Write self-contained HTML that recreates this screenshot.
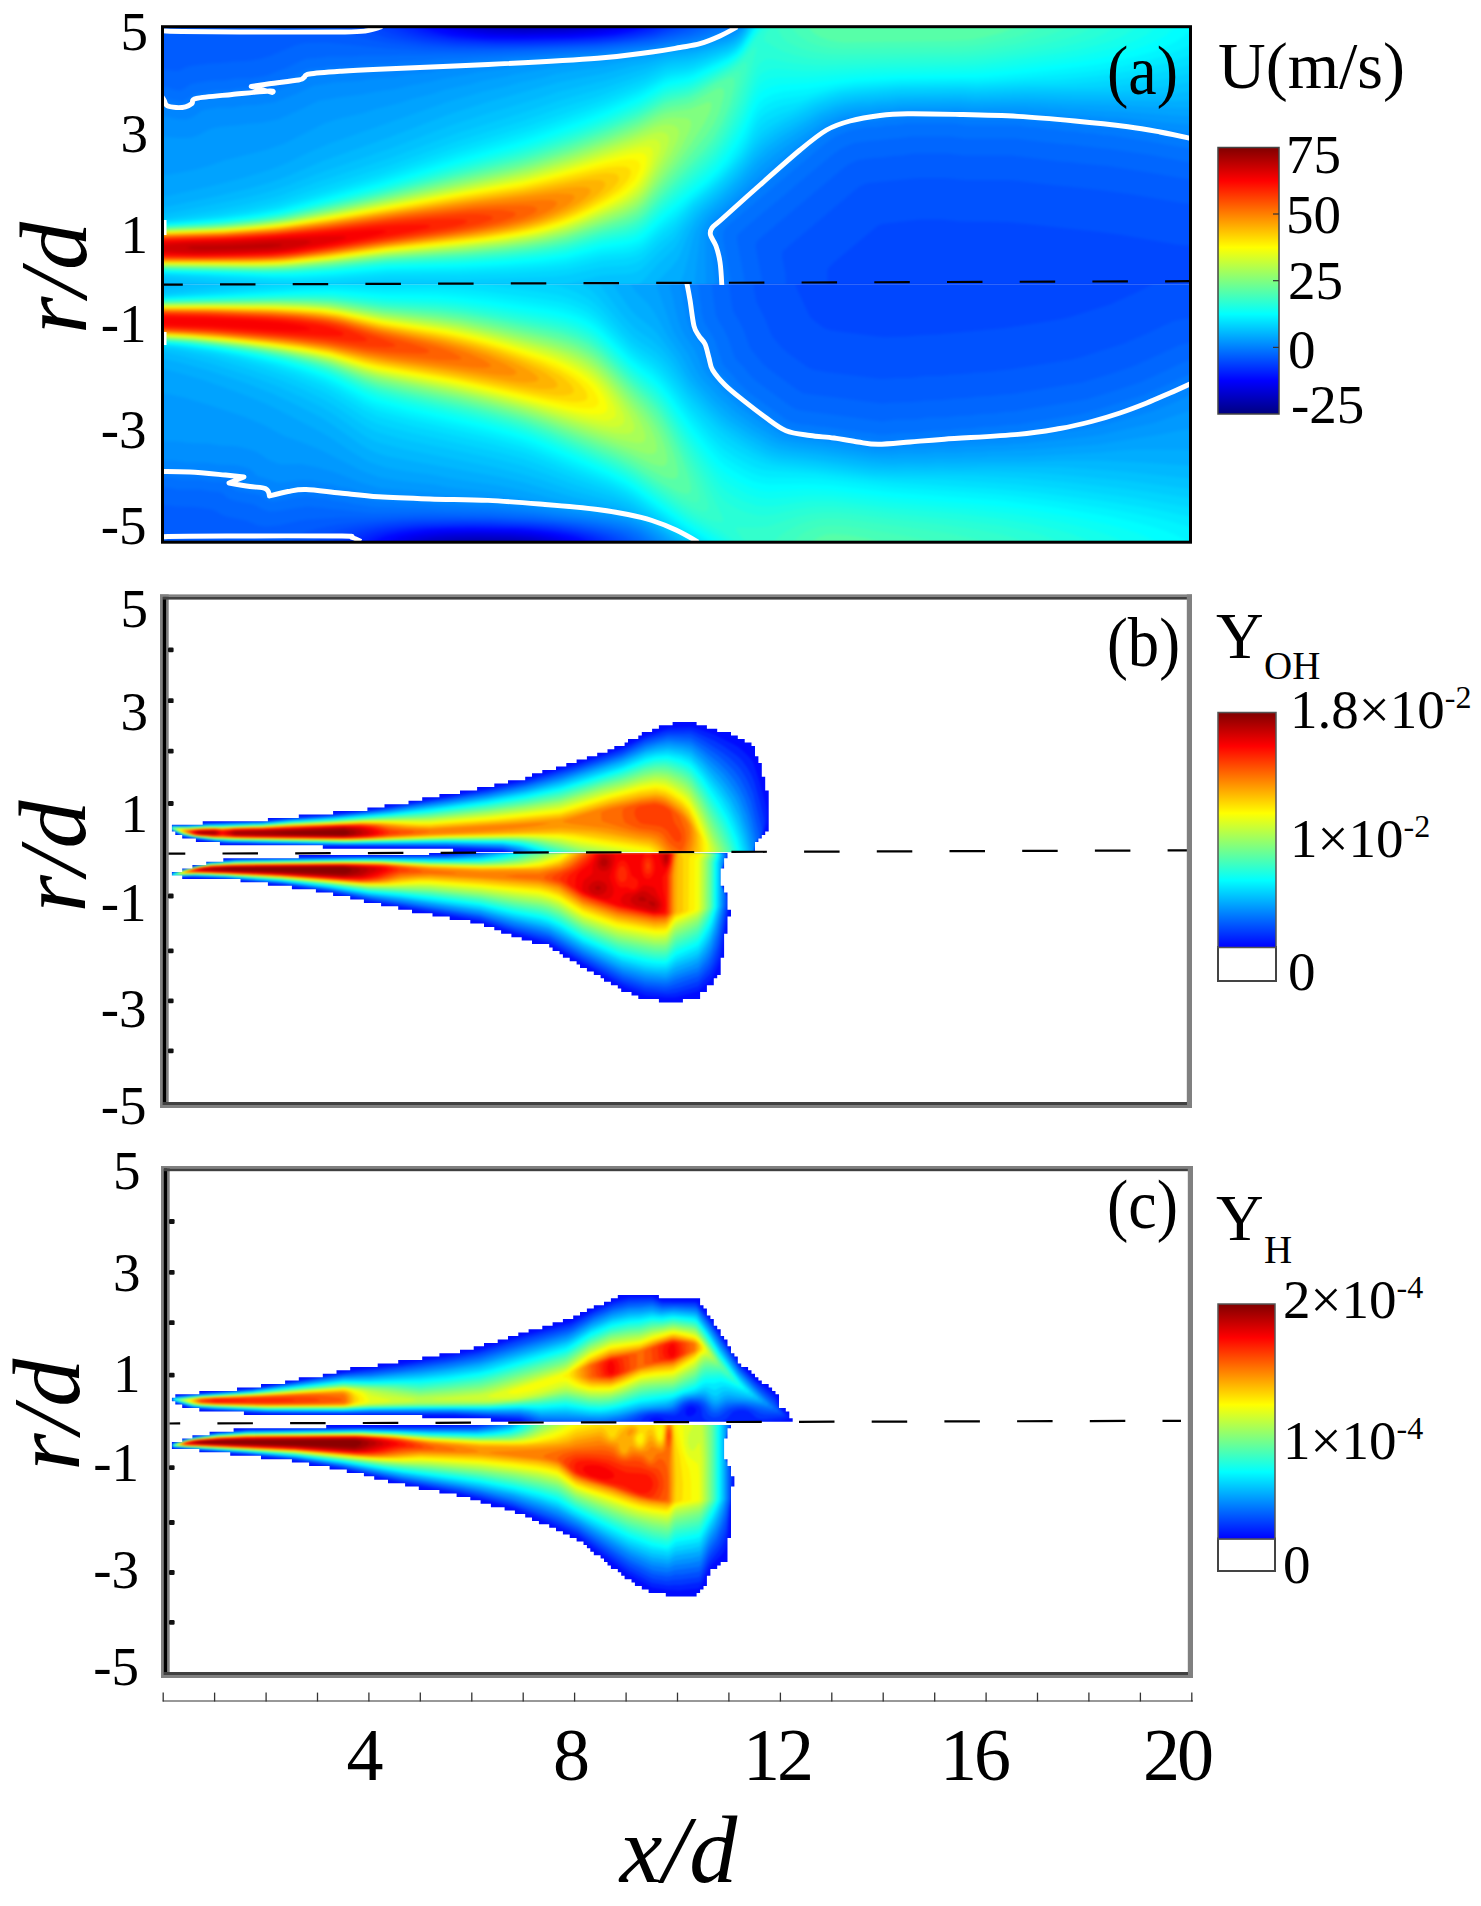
<!DOCTYPE html>
<html><head><meta charset="utf-8"><title>Figure</title><style>
html,body{margin:0;padding:0;background:#fff}
svg{display:block}
text{font-family:"Liberation Serif","Times New Roman",serif;fill:#000}
</style></head><body>
<svg width="1481" height="1906" viewBox="0 0 1481 1906">
<defs><linearGradient id="cbA" x1="0" y1="0" x2="0" y2="1"><stop offset="0.0000" stop-color="rgb(128,0,0)"/><stop offset="0.1250" stop-color="rgb(255,0,0)"/><stop offset="0.3750" stop-color="rgb(255,255,0)"/><stop offset="0.6250" stop-color="rgb(0,255,255)"/><stop offset="0.8750" stop-color="rgb(0,0,255)"/><stop offset="1.0000" stop-color="rgb(0,0,128)"/></linearGradient><clipPath id="clipA"><rect x="163" y="27" width="1027" height="515"/></clipPath><linearGradient id="cbB" x1="0" y1="0" x2="0" y2="1"><stop offset="0.0000" stop-color="rgb(128,0,0)"/><stop offset="0.1429" stop-color="rgb(255,0,0)"/><stop offset="0.4286" stop-color="rgb(255,255,0)"/><stop offset="0.7143" stop-color="rgb(0,255,255)"/><stop offset="1.0000" stop-color="rgb(0,0,255)"/></linearGradient><clipPath id="clipAT"><rect x="163" y="27" width="1027" height="257.2"/></clipPath><clipPath id="clipAB"><rect x="163" y="284.2" width="1027" height="257.5"/></clipPath><clipPath id="clip_bt"><rect x="165" y="600" width="1020" height="252.6"/></clipPath><clipPath id="clip_bb"><rect x="165" y="852.9" width="1020" height="250"/></clipPath><clipPath id="clip_ct"><rect x="165" y="1170" width="1020" height="252.1"/></clipPath><clipPath id="clip_cb"><rect x="165" y="1423.4" width="1020" height="250"/></clipPath><filter id="soft" x="-2%" y="-5%" width="104%" height="110%" color-interpolation-filters="sRGB"><feGaussianBlur stdDeviation="1.6"/></filter><clipPath id="mask_bt"><path d="M460 793.9H439.4V797.3H422.2V800.8H408.5V804.2H384.5V807.6H367.4V811H333.1V814.5H298.8V817.9H267.9V821.3H202.7V824.8H171.9V831.6H175.3V835H182.2V838.5H195.9V841.9H219.9V845.3H322.8V848.8H453.1V852.2H755V841.9H758.4V838.5H761.8V835H765.2V831.6H768.7V790.5H765.2V776.7H761.8V763H758.4V756.2H755V745.9H751.5V742.4H744.7V739H737.8V735.6H731V732.1H717.2V728.7H706.9V725.3H696.6V721.9H672.6V725.3H658.9V728.7H652.1V732.1H641.8V735.6H638.3V739H628V742.4H624.6V745.9H614.3V749.3H607.5V752.7H597.2V756.2H586.9V759.6H576.6V763H566.3V766.5H556V769.9H542.3V773.3H532V776.7H525.2V780.2H508V783.6H494.3V787H477.1V790.5H460z"/></clipPath><clipPath id="mask_bb"><path d="M223.3 858.3V861.7H206.2V865.1H192.4V868.6H182.2V872H171.9V875.4H182.2V878.9H240.5V882.3H267.9V885.7H291.9V889.2H315.9V892.6H333.1V896H350.2V899.5H363.9V902.9H381.1V906.3H398.2V909.7H412V913.2H432.5V916.6H449.7V920H470.3V923.5H484V926.9H494.3V930.3H501.1V933.8H511.4V937.2H521.7V940.6H532V944H549.2V947.5H552.6V950.9H559.5V954.3H562.9V957.8H569.7V961.2H576.6V964.6H580V968H586.9V971.5H593.8V974.9H600.6V978.3H604V981.8H610.9V985.2H617.8V988.6H621.2V992.1H631.5V995.5H638.3V998.9H658.9V1002.4H682.9V998.9H700.1V992.1H706.9V985.2H713.8V978.3H717.2V974.9H720.7V957.8H724.1V933.8H727.5V916.6H731V909.7H727.5V892.6H724.1V885.7H720.7V868.6H724.1V858.3H727.5V851.4H429.1V854.9H298.8V858.3z"/></clipPath><clipPath id="mask_ct"><path d="M439.4 1356.6H422.2V1360H398.2V1363.5H377.7V1366.9H350.2V1370.3H336.5V1373.8H322.8V1377.2H298.8V1380.6H285.1V1384H261V1387.5H237V1390.9H199.3V1394.3H175.3V1397.8H171.9V1401.2H175.3V1404.6H182.2V1408H199.3V1411.5H243.9V1414.9H422.2V1418.3H490.9V1421.8H792.7V1418.3H789.3V1411.5H785.8V1408H779V1394.3H775.5V1390.9H772.1V1387.5H768.7V1384H761.8V1380.6H758.4V1377.2H755V1373.8H751.5V1370.3H748.1V1366.9H741.2V1363.5H737.8V1356.6H734.4V1353.2H731V1346.3H727.5V1339.5H724.1V1336H720.7V1329.2H717.2V1325.7H713.8V1318.9H710.4V1315.4H706.9V1308.6H703.5V1305.2H700.1V1298.3H658.9V1294.9H617.8V1298.3H610.9V1301.7H604V1305.2H593.8V1308.6H586.9V1312H580V1315.4H573.2V1318.9H562.9V1322.3H552.6V1325.7H542.3V1329.2H528.6V1332.6H518.3V1336H508V1339.5H497.7V1342.9H484V1346.3H473.7V1349.7H460V1353.2H439.4z"/></clipPath><clipPath id="mask_cb"><path d="M233.6 1428.3V1431.7H209.6V1435.2H192.4V1438.6H182.2V1442H171.9V1448.9H199.3V1452.3H230.2V1455.7H261V1459.2H291.9V1462.6H309.1V1466H329.6V1469.5H346.8V1472.9H363.9V1476.3H374.2V1479.7H388V1483.2H405.1V1486.6H418.8V1490H439.4V1493.5H456.6V1496.9H470.3V1500.3H480.6V1503.8H490.9V1507.2H504.6V1510.6H514.9V1514H525.2V1517.5H532V1520.9H538.9V1524.3H549.2V1527.8H556V1531.2H562.9V1534.6H569.7V1538H576.6V1541.5H583.5V1544.9H586.9V1548.3H590.3V1551.8H593.8V1555.2H600.6V1558.6H604V1562.1H607.5V1565.5H610.9V1568.9H617.8V1572.3H621.2V1575.8H624.6V1579.2H631.5V1582.6H634.9V1586.1H641.8V1589.5H648.6V1592.9H665.8V1596.4H696.6V1592.9H700.1V1589.5H703.5V1586.1H706.9V1575.8H710.4V1568.9H717.2V1565.5H720.7V1562.1H727.5V1538H731V1486.6H734.4V1476.3H731V1466H727.5V1459.2H724.1V1438.6H727.5V1428.3H731V1424.9H326.2V1428.3z"/></clipPath><filter id="softf" x="-2%" y="-5%" width="104%" height="110%" color-interpolation-filters="sRGB"><feGaussianBlur stdDeviation="1.1"/></filter></defs>
<rect width="1481" height="1906" fill="#fff"/>
<g clip-path="url(#clipAT)"><g filter="url(#soft)"><rect x="150" y="10" width="1060" height="550" fill="#00008a"/><path fill="#00009e" d="M1196 286l-1036 0 0-262 1036 0 0 262z"/><path fill="#0000b2" d="M1196 286l-1036 0 0-262 1036 0 0 262z"/><path fill="#0000c7" d="M1196 286l-1036 0 0-262 327.5 0 6 2 6.5 1 26 1 38-1.5 5.5-0.5 9.5-2 617 0 0 262z"/><path fill="#0000db" d="M1196 286l-1036 0 0-262 306.5 0 3.5 2 4 1 14 2.5 14 1 22 1 38-1 20-1.5 14-2 4-1 4-2 592 0 0 262z"/><path fill="#0000f0" d="M1196 286l-1036 0 0-262 290.5 0 2.5 2 5 2 8 2 10 1.5 20 2 28 0.5 42-1 26-2 19-3 6-2 3-2 576 0 0 262z"/><path fill="#0005ff" d="M1196 286l-1036 0 0-262 276 0 2 2 6 2.5 8 2.5 10 2 28 3 32 0.5 46-1 30-2 21-3.5 11-3.5 4-2.5 562 0 0 262z"/><path fill="#0014ff" d="M1196 286l-1036 0 0-262 261.5 0 2.5 2.5 7.5 3.5 10.5 3 12 2.5 32 3 34 0.5 48-1 34-2.5 14-1.5 18-4 11-4 3-2 548 0 0 262z"/><path fill="#001fff" d="M1196 286l-1036 0 0-262 254 0 1.5 2 3 2 5.5 2.5 12 3.5 12 2.5 13.5 1.5 18.5 1.5 38 0.5 52-1 24-1.5 16-1.5 18-3 13.5-3 8.5-3 2.5-1 2-2 541.5 0 0 262z"/><path fill="#0029ff" d="M1196 286l-1036 0 0-262 246.5 0 1.5 2 2.5 2 8.5 4 9 2.5 14 2.5 16 2.5 18 1 18 1 22 0 54-1.5 26-1 18-2 18.5-3 15.5-3.5 7-2.5 3.5-2 2-2 535.5 0 0 262z"/><path fill="#0033ff" d="M1196 286l-1036 0 0-262 238 0 1 2 2.5 2 6.5 3.5 8 2.5 12 3 16 2.5 16 1.5 40 2 30-0.5 40-1 26-1.5 18-1.5 20-3 16.5-3.5 10.5-4 3.5-2 2-2 529.5 0 0 262z"/><path fill="#003dff" d="M1196 286l-1036 0 0-262 228 0 1 2 2.5 2 8 4 10.5 3.5 12 3 18 2.5 18 2 40 1 34 0 38-1.5 26-1 20-2 18-2.5 18-3.5 8-2.5 7.5-3 3.5-2 2.5-2 522.5 0 0 262z"/><path fill="#0047ff" d="M1196 286l-1036 0 0-262 216.5 0 1 2 2 2 8.5 4.5 14 4.5 14 3 12 2 28 2.5 40 1 36 0 38-1.5 26-1 20-2 20-2.5 18-3.5 21-7 4-2 2.5-2 514.5 0 0 262z"/><path fill="#0052ff" d="M826 286l-666 0 0-262 201.5 0 1 2 2.5 2 5 3 6 3 12 4 18 3.5 18 2.5 28 2.5 44 1 74-2 28-1.5 20-2 30-4 8-1.5 28-8.5 4-2 2-2 506 0 0 221.5 -10 0 -10-1 -54-9.5 -22-3 -92-10 -48-0.5 -18-2 -8 0 -14 0 -22 2.5 -16 2 -4 1.5 -46 38.5 -3.5 4 -1 2 0 16 -1.5 0z"/><path fill="#005cff" d="M784 286l-624 0 0-262 174.5 0 1.5 2 2.5 2 8 4 5 2 20.5 6 16 3 38 4.5 34 1.5 34 0 38-0.5 64-3 38-3.5 20-3 27.5-7 11.5-4 3.5-2 2-2 497.5 0 0 180 -14-1 -52.5-9 -25.5-3.5 -36-4 -12-1 -46-5.5 -46 0 -18-2 -28 0 -50 5 -6 2 -4 2.5 -74 62.5 -1.5 2 -0.5 4 3.5 18 0.5 12 -2 0z"/><path fill="#0066ff" d="M760 286l-600 0 0-217 6 0.5 10 1.5 2 0 10-4.5 6-1 16-2 12-0.5 12-1.5 14-0.5 12-2 10-3 26-11 8-2 22-0.5 62 6 38 2.5 34 0.5 36-0.5 74-2.5 32-1.5 50-6 38-8.5 11.5-4.5 3.5-2 2-2 489 0 0 155.5 -10-0.5 -40-7 -38-6 -28-2.5 -10-1.5 -10-0.5 -48-6 -48 0 -16-2 -34 0 -12 2 -10 0.5 -10 1.5 -10 0.5 -14 2 -8 3.5 -6.5 4.5 -85.5 72 -1.5 2 -1 4 6 32 0 8 -1.5 0z"/><path fill="#0070ff" d="M744 286l-584 0 0-199.5 6 0.5 8.5 3 5.5 0.5 4-1.5 6-4.5 6-1.5 16-2.5 12 0 12-2 14 0 15.5-2.5 21-8 17.5-8.5 4-1 10-0.5 10-1.5 24 0 12-1 24 0 12-0.5 26 0 10-0.5 24 0 38-1 100-4.5 38-4 18-2 36-7.5 16-5.5 8.5-4 2-2 479.5 0 0 138.5 -8-0.5 -40-7.5 -38-5.5 -10-1 -8-1 -10-1 -10-1.5 -10-0.5 -8-1 -10-1 -8-1 -10-1 -10-1.5 -50 0 -16-2 -38 0 -12 1.5 -12 1 -8 1 -12 1 -14 2 -12 5 -10 7 -36 30 -8 7 -42 35 -7.5 7 -1.5 2 0 4 7 38 0.5 6 0 2 -0.5 0z"/><path fill="#007aff" d="M730 286l-570 0 0-189.5 4 1 8 2.5 10 1.5 4-1.5 8-5.5 4-1.5 8-1 8-1.5 14 0 10-2 14 0 8-1.5 8-1 22-8.5 18-8.5 12-1 8-1.5 26-0.5 12-2 24-0.5 12-2 24-1 12-1.5 24-0.5 12-1 24-1 100-5.5 52-5.5 38-7 10-2.5 23-8 5-2 2-2 468 0 0 125 -6-0.5 -24-4 -16-3 -38-6 -10-0.5 -8-1.5 -10-0.5 -8-1.5 -12-0.5 -8-1.5 -10-0.5 -8-1.5 -10-0.5 -10-1.5 -50 0 -4-0.5 -10-1.5 -44 0 -4 0 -8 1.5 -12 0.5 -8 1.5 -12 0.5 -16 3 -14 5.5 -11.5 8 -98.5 83 -2.5 5 -0.5 6 3 18 4.5 24 0.5 6 -1 0z"/><path fill="#0085ff" d="M722 286l-562 0 0-182 10 3.5 10 1.5 4 0 4-1.5 8-5.5 4-2 8-1 8-1.5 14 0 10-2 14 0 8-1.5 8-1 22-8.5 18-8.5 4-0.5 10-0.5 6-1.5 26-1 12-2 24-0.5 12-2.5 24-1 10-2 26-1.5 10-1.5 26-1.5 10-1.5 26-1.5 10-1 54-3 52-6 18-3.5 20-2.5 10-2.5 28-9 6-3.5 1.5-2 460.5 0 0 116.5 -28-4 -14-2.5 -40-6 -10-0.5 -8-1 -10-0.5 -8-1.5 -12-0.5 -8-1.5 -10 0 -8-1.5 -10-0.5 -10-1.5 -52 0 -14-1.5 -46 0 -12 1.5 -12 0.5 -8 1.5 -12 0.5 -16 3 -16 6 -11 7.5 -31 25.5 -6 4.5 -8 7.5 -18 14.5 -6.5 6 -29.5 25.5 -2 2 -3 6.5 -1.5 6 2.5 22 4.5 26 0 2 -0.5 0z"/><path fill="#008fff" d="M714 286l-554 0 0-170.5 16 3.5 10 0.5 6-2 10-6.5 2-1 14-2.5 14 0 12-2 14-0.5 8-1.5 8-1 22-8.5 18-8.5 12-1.5 8-1.5 26-1.5 12-2.5 24-1.5 10-2.5 24-2 10.5-2.5 25.5-2 10-2 24-2 12-2 24-1.5 12-1.5 54-4 52-6 16-3 20-2.5 14-3.5 26-8 7-4 1.5-2 1-2 456.5 0 0 110 -80-11 -10 0 -8-1.5 -10-0.5 -8-1 -12-0.5 -8-1 -10-0.5 -8-1.5 -10 0 -10-1.5 -52 0.5 -14-2 -50 0.5 -10 1.5 -14 0.5 -8 1.5 -12 0.5 -12 2 -6 1.5 -16 6.5 -10 7 -6 5 -30 23 -26 22 -18 17.5 -18.5 15.5 -3.5 4 -4 8 -1.5 6 2 16 0 8 3.5 26 -2 0z"/><path fill="#0099ff" d="M706 286l-546 0 0-150 16 2 10 0 6-0.5 6-2 10-5.5 6-2 8-1.5 14-1 10-1.5 14-1 18-3.5 24-10.5 14-7 4-1.5 8-1 10-2 24-3 12-2.5 22-3 14-3.5 22-4 14-3.5 22-3.5 10.5-2.5 25.5-3 10-2.5 24-2 12-2.5 52-4 38-4.5 14-2 18-3.5 20-2.5 10-2 28-8.5 4-1.5 4-3 2.5-2.5 2-4 453.5 0 0 101 -22-1.5 -56-6 -10 0 -8-1 -10-0.5 -10-1 -10 0 -8-1 -10-0.5 -8-1 -12-0.5 -10-1 -50 0.5 -14-1.5 -54 0.5 -10 1.5 -12 0.5 -8 1.5 -12 0.5 -14 2 -6 1.5 -16 6.5 -10 7 -38 28 -15 12.5 -27 26.5 -18 16 -5.5 5.5 -5.5 10 -1.5 6 0 26 0.5 24z"/><path fill="#00a3ff" d="M694 286l-534 0 0-110.5 10-1 24-4.5 14.5-4 15.5-5.5 42-10.5 20-7 38-19.5 16-5 24-5.5 12-4 22-5.5 14-4.5 22-5.5 12-4 24-5 12-3.5 24-4.5 10-2.5 24-4 10-2.5 34-4.5 20-1.5 26-4.5 22-2.5 14-3 24-3 10-2 26-7 6-2 4-2.5 4-3.5 3-3.5 1.5-4 451.5 0 0 92 -22-0.5 -54-4 -28-1 -10-1 -12 0 -8-1 -10 0 -8-1 -10 0 -10-1 -52 1 -14-1 -52 0.5 -6 0 -8 1.5 -12 0.5 -8 1.5 -12 0.5 -12 1.5 -8 2 -16 6.5 -37.5 25 -12.5 9 -12 10 -10 10.5 -7.5 8.5 -10.5 10.5 -12 11.5 -7.5 6 -6 6 -6 10 -2.5 8 -3.5 28 -2 22 -0.5 0z"/><path fill="#00adff" d="M678 286l-518 0 0-89.5 8-0.5 44-10 31-8 25-7.5 17-6.5 27-13 18-7.5 117.5-41.5 34.5-10 24-5.5 12-3.5 24-5 13.5-4 30.5-5 18-2.5 26-5.5 24-3.5 13-3.5 27-3 32-8.5 6-2.5 6-4 5.5-6 3-6 449.5 0 0 84 -20 0 -56-2.5 -48-1 -46-2 -52 1 -14-1 -56 1 -12 1 -12 0.5 -10 1.5 -10 0.5 -14 2 -8 2 -16 6 -38 24 -14 10 -12 10.5 -15.5 18.5 -11.5 12 -11 10 -9 8 -6 6 -5.5 8 -4.5 8 -2.5 8 -4.5 18 -4 15 -5 13 -1 0z"/><path fill="#00b8ff" d="M654 286l-494 0 0-79 8-0.5 49.5-10.5 33.5-8 21-6 16-6 36-15.5 63.5-22.5 62.5-24 36-11.5 72-20 48-9.5 26-7 14-2.5 20-6 8-1 12-1 10-2 30-8.5 8-3.5 6-4.5 5-7 3-6 448 0 0 76 -22 1 -62-0.5 -40-0.5 -46-1.5 -52 1.5 -14-1 -58 0.5 -12 1.5 -12 0.5 -8 1.5 -10 0 -14 2 -10 2.5 -16 6 -38 22.5 -16 11.5 -10 10 -15 18.5 -11.5 12 -11.5 11 -15 13 -6.5 8 -6 10 -4.5 10 -5.5 14 -2.5 5 -6 7.5 -13.5 13.5 -3 4 -0.5 2 -1 0z"/><path fill="#00c2ff" d="M636 286l-455.5 0 -7-2 -13.5-1.5 0-68.5 8-0.5 58-11.5 27.5-6 16.5-4.5 16.5-5.5 33.5-13 72-25 60-23 34-11 54-16 18-6 48-11.5 26-8 14-4 20-7 8-1.5 12-1 8-1.5 32-10 8-3.5 6-5 6-7.5 3.5-7.5 446.5 0 0 66.5 -26 3.5 -26 1.5 -70 0 -48-1 -50 2 -16-1 -60 1 -10 1 -32 2.5 -14 2 -10 2.5 -16 6 -39 21.5 -13 9.5 -4 3.5 -8 8.5 -7.5 10.5 -10 12 -10.5 11 -10 9 -14 12 -5.5 6 -10.5 14 -8 15 -4 6 -16 15 -12 13.5 -8.5 8.5 -1.5 0z"/><path fill="#00ccff" d="M558 286l-328 0 -9-2 -16-2 -38-4 -7-0.5 0-59 8-0.5 49.5-8 30.5-6 26-6.5 11-3.5 31-11.5 74.5-24.5 67.5-25 73.5-23 28.5-9.5 46-13 38-13 22-9.5 6-1 16-2 16-4 24-8.5 8-4.5 4-3.5 4-5 5-8.5 1.5-4 445.5 0 0 57 -24 4.5 -20 3 -20 2 -18 1 -40 0 -46-0.5 -52 2 -16-0.5 -62 1 -40 3 -14 2 -10 2.5 -16 5 -32 16.5 -12 7 -12 9.5 -6 6.5 -12 16.5 -10 12 -10 10.5 -10.5 9.5 -14 12 -6 6 -9.5 12 -10 14.5 -16 14.5 -12 12 -6 5 -6 3 -6 1 -22 1 -8 1 -34 9 -6 1z"/><path fill="#00d6ff" d="M314 286l-33 0 -56-6 -52.5-4 -12.5-0.5 0-55 10.5-0.5 48-6 33.5-6 25.5-6 38.5-13 72.5-23 69.5-25 62-19 42-14.5 38-11.5 44-16.5 22-10.5 6-1 14-2 8-2 36-13 6-4 6-6 6-9 4-8 444 0 0 48 -24 5.5 -18 3.5 -22 3 -18 2 -18 1.5 -22 0.5 -46-0.5 -52 2.5 -14-1 -64 1 -40 3.5 -14 1.5 -12 3 -18 6 -28 13.5 -10 5.5 -6 3.5 -8 6 -6 7 -12.5 18.5 -9.5 11.5 -10 10.5 -12 11.5 -18 15 -22 26.5 -14 11.5 -14 13.5 -4 3 -6 2.5 -8 2 -24 1.5 -32 7.5 -16 2 -92 3.5 -56-0.5 -20 0 -31 2.5 -41 4z"/><path fill="#00e0ff" d="M330 280l-28 1.5 -26-0.5 -75.5-5 -40.5-2 0-52 26-2 36-4 26-4 29-6 104-32 73-25.5 74-22.5 80-27.5 34-13.5 24-12 6-1.5 14-2 6-1.5 10-3.5 26-10.5 8-5 6-6 6-9 3.5-6 1.5-4 443 0 0 39 -20 5.5 -16 4 -20 3.5 -24 3.5 -20 2.5 -20 1.5 -20 1 -30 0 -50 2.5 -14-0.5 -60 0.5 -46 3.5 -16 2 -20 6 -8 2.5 -20 9 -14 5 -10 5 -8 6.5 -4 5.5 -8 14 -6 9.5 -10.5 12.5 -11 12 -10.5 9.5 -17.5 14.5 -18.5 20.5 -16 13.5 -12 11.5 -6 4.5 -6 2.5 -10 2 -22 2 -34 8.5 -18 2 -42 2.5 -48 1.5 -72 0.5 -58 4.5z"/><path fill="#00ebff" d="M316 278l-22 1 -20-0.5 -62-3 -52-2.5 0-50 17-1 42.5-4 29-4 31-6 101.5-30 75-25 76.5-23 73.5-26 34-14 26-13.5 6-1.5 14-2.5 6-1.5 8-3 28-12 8-5 6-6 7.5-11 3.5-6 1.5-4 441.5 0 0 29.5 -28 9 -28 7 -22 3.5 -20 3 -40 4 -32 1 -48 3 -16-0.5 -62 1 -44 3 -14 2 -10 2 -16 4.5 -16 6 -18 4 -6 2 -10 5 -6 5 -4 5.5 -10 20 -5 8.5 -11 14 -10 11 -12 11 -16 13 -16 16.5 -18 15 -12 11.5 -6 4.5 -8 3.5 -8 1.5 -22 2 -36 9 -22 2.5 -38 2.5 -46 2 -72 1 -54 4.5 -18 1z"/><path fill="#00f5ff" d="M316 276l-24 1 -20 0 -61-3 -51-1.5 0-48.5 28.5-2 41.5-4 28-4 21-4 99-28 78-25 59-17 19-6 51-18 26-10 29-12.5 20-11 6-3 6-1.5 14-2.5 6-1.5 36-16 8-5 6-6 7.5-11 4.5-8 2-4 440 0 0 18.5 -18 8 -16 6 -20 5.5 -24 5 -24 4 -28 3 -70.5 6 -19.5 1 -14-0.5 -62 1 -44 3 -18 2.5 -34 8.5 -20 3 -10 2.5 -6 3 -4 2.5 -6 6 -4 7 -8.5 18.5 -6 10 -9.5 14 -11 12 -11 10.5 -18 15 -12 11.5 -18 15 -14 13.5 -6 4.5 -8 3 -8 2 -24 3 -36 9 -20 2.5 -40 3 -44 2.5 -72 1 -54 5 -18 1z"/><path fill="#00ffff" d="M322 274l-26 1.5 -24 0 -112-4 0-47 11.5-0.5 50-4 32-4 23-4 16.5-4 87-24 74-23 60-17 19.5-6 51-18 21-8 34.5-15 24-13.5 6-2 16-3 6-2 36-16.5 8-5 6-6 6-9 7.5-12 2-4 437 0 -4 6 -6.5 6 -9 6 -11 5.5 -12.5 4.5 -15.5 4.5 -18 4 -20 4 -38 5 -76 8 -10 0.5 -74 1 -44 2.5 -16 2 -32 5.5 -24 2.5 -12 3 -8 4 -4 3.5 -2 2.5 -4 7 -10 22 -6 10.5 -10.5 16 -10 12 -11.5 11 -14 11 -32 28 -16 15 -6 4 -6 2 -8 2 -22 3 -36 9.5 -26 3.5 -40 3.5 -42 2 -70 2 -66 5.5z"/><path fill="#0afff5" d="M300 274l-32 0.5 -108-3.5 0-46 21-1 48.5-4 31-4 21.5-4 98-26 70-21 68.5-19 19-6 45-16 25.5-10 32-14 24-13.5 6-2 14-3 8-2 36-17.5 8-5.5 6-5.5 6.5-9 10-16 0.5-2 417 0 -1 2 -3 4 -7 6 -9 5 -11.5 5 -12.5 4.5 -16 4 -18 4 -20 3.5 -68 8.5 -30 3 -26 1 -54 1 -46 2.5 -44 5 -28 1.5 -6 1 -6 1.5 -4 2 -4 2.5 -4 4.5 -4 7.5 -10 23 -6 11.5 -11.5 18 -10.5 13.5 -11 10.5 -43 36 -18 17 -6 4 -8 3.5 -28 5 -38 10 -28 3.5 -30 2.5 -48 3 -70 2.5 -60 5.5 -28 1.5z"/><path fill="#14ffeb" d="M316 272l-24 1.5 -22 0 -110-3 0-45 57-3.5 35.5-4 25.5-4 17-4 84.5-22 72.5-21.5 62-16.5 20-6 46-16 26-10 32-14 26-15 6-2 15.5-3 6.5-2 36-18 8-5.5 6.5-6.5 18-26 1-2 396 0 -2.5 4 -7 6 -10 5.5 -11.5 4.5 -12.5 4 -16 4 -19 4 -21 3.5 -56 7.5 -30 3 -98 2.5 -26 1.5 -38 3 -32 0.5 -8 1 -4 1.5 -3 2 -3 2.5 -2 3 -4 7.5 -10 24.5 -6.5 12.5 -10.5 18 -11 14.5 -10 10 -44 38 -16 15.5 -6 4.5 -6 3.5 -10 2.5 -22 4 -36 10 -14 2.5 -16 2 -28 2.5 -48 3.5 -76 2.5 -50 5 -18 1.5z"/><path fill="#1fffe0" d="M300 272l-34 1 -106-3 0-44 38.5-2 25.5-2 34-4 24-4 57.5-14 46-12 66.5-19 64-17 20-6 46-16 25.5-10 32-14 24.5-14 6-2 14-3 8-2.5 36-18.5 8-5.5 7-6.5 4.5-6 8.5-13 7-9 1-2 374 0 -1 2 -4 4 -10 6 -13 5.5 -14 4 -18 4.5 -16 3 -64 9.5 -20 2.5 -18 1 -84 2 -58 3 -16 0 -26-2 -8 1 -6 3 -4 4.5 -4 8.5 -10 26 -5.5 12 -11.5 20 -11 15.5 -10 10.5 -44 39 -16 16 -6 4.5 -6 3.5 -10 3 -22 4 -36 10.5 -14 2.5 -16 2 -34 3.5 -40 2.5 -74 3 -54 5.5 -34 2.5z"/><path fill="#29ffd6" d="M282 272l-20 0 -102-2.5 0-43 47-2.5 23-2 33.5-4 22.5-4 97.5-24 68.5-19 65.5-17 20-6 46-16 30.5-12 26-11.5 24-14 6-2 14-3 8-2.5 36-19 8-5.5 7-6.5 15-20.5 8-9 1.5-2.5 349.5 0 -1 2 -2 2 -10 6 -12 5 -16 4.5 -19 4.5 -33.5 6 -23.5 3.5 -20 2.5 -24 2 -64 1 -70 2.5 -18-1 -12-1.5 -18-3.5 -4-0.5 -4 0.5 -4 2 -4 4.5 -4 9 -10 29 -5.5 12 -11.5 22 -10.5 16 -10.5 11.5 -44 40 -16 16.5 -6 5 -6 3 -10 3.5 -22 4.5 -36 10.5 -14 2.5 -18 2.5 -30 3 -36 3 -82 4 -58 6 -46 2.5z"/><path fill="#33ffcc" d="M904 58l-70 2 -12-0.5 -12-1 -14-3 -14-4.5 -6-3 -10-6 -2-2 0-2 1.5-4 5.5-8 0.5-2 323 0 -1 2 -5.5 4 -8.5 4 -11 4 -24 6 -32.5 6.5 -24 4 -22 2 -62 1.5zM306 270l-20 1.5 -18 0 -108-2.5 0-42 58-3.5 35-3.5 27-4 60.5-14 40-10 71.5-19.5 74-19 41.5-13.5 32.5-12 38-16 26-15 6-2 16-3.5 8-3 38-21 8-5.5 14-14.5 2-0.5 0.5 1 -0.5 4 -7 26 -7 22 -10.5 24 -5.5 10 -6 10 -7.5 10 -7.5 8 -43 40.5 -16 16.5 -4 3.5 -6 4 -10 4 -24 5.5 -32 9.5 -14 3 -18 3 -28 3.5 -32 2.5 -28 2 -62 2.5 -60 6.5 -22 1.5z"/><path fill="#3dffc2" d="M862 54l-20 0.5 -15.5-0.5 -12.5-2 -12-3 -12-5.5 -4-2.5 -3.5-3 -3.5-6 -1-4 0.5-4 292 0 -1.5 2 -6.5 4 -16 6 -30.5 8 -30 5.5 -16 2 -14 1 -94 1.5zM296 270l-32 1 -104-2 0-42 60-3 38-4 25.5-4 94-22 78.5-20.5 68-17 49.5-16.5 37-14 27.5-12 26-14.5 6-2 16-3.5 8-3.5 22-12 14-7 14-9 2-0.5 1 2 0 6 -3 12 -7 22 -10 22 -5 9.5 -5.5 8.5 -6.5 8 -5.5 6 -42.5 41.5 -16 17 -6 5 -6 3.5 -10 4 -22 5 -36 11 -16 3 -18 3 -32 3.5 -36 2.5 -80 4.5 -52 6 -36 2.5z"/><path fill="#47ffb8" d="M884 48l-42 1 -12-1 -10-2 -11.5-4 -9.5-6 -5.5-6 -1.5-2 -1-4 252.5 0 -1.5 2 -7 4 -15 6 -18 4.5 -20 4 -12 1.5 -14 1 -72 1zM284 270l-26 0.5 -98-2 0-41 36.5-1.5 29-2 37-4 24.5-4 95-22 74-19 66-16 16-5 30-10 38-14 32-13.5 26-14.5 6-2 14-3.5 6-1.5 8-4 19-11 13-6 8-3 2 0.5 0.5 0.5 0 4 -1 8 -3.5 12 -4.5 12 -8 18 -9.5 16 -10 12 -42 42.5 -16 17.5 -6 5 -8 4.5 -8 3 -22 5.5 -34 11 -18 3.5 -18 3 -26 3 -32 3 -84 4.5 -62 7 -44 3z"/><path fill="#57ffa8" d="M876 42l-32 0.5 -8-1 -8-1.5 -8-3 -6-3.5 -5-5.5 -2-4 211.5 0 -2 2 -3 2 -13.5 5.5 -14 3.5 -16 3 -18 1 -76 1zM306 268l-20 1.5 -20 0.5 -106-2 0-40 44-2 26.5-2 36-4 13.5-2 81-18 93-23 68-16.5 15.5-4.5 30.5-10 33-12 37-15.5 26-14.5 6-2 14-3 6-1.5 8-4 16-9.5 8-3.5 8-3 2 0 2 0.5 0.5 2 0 6 -2.5 10 -3 10 -7 16.5 -9 15.5 -9.5 12 -43.5 45.5 -14 16 -6 5.5 -8 4.5 -8 3 -22 6 -34 11 -16 3.5 -22 3.5 -26 3 -40 3.5 -80.5 5 -47.5 5.5 -30 2.5z"/><path fill="#6bff94" d="M292 268l-32 1 -100-1.5 0-39 44-2 24-1.5 30.5-3 27.5-4 74-16 96-23 62-14 17.5-5 31.5-10 38.5-14 32.5-13.5 20-11 6-2.5 6-2 16-3 6-2 24-13 4-1 2 0 2 2 0 4 -0.5 4 -4 14 -5.5 12 -8 12 -23 28 -23 26 -14 16.5 -8 7.5 -10 5 -62 20 -18 4 -20 3.5 -24 3 -38 3.5 -76 5 -60 7 -38 3z"/><path fill="#80ff80" d="M272 268l-112-1 0-38 64-3 24-2 26-3 17.5-3 39-8 63.5-14 64-15 58-12.5 16.5-4.5 38.5-12 39-14 28-11.5 18-9.5 8-3.5 6-1.5 20-3 18-7 2 0 1.5 2 -0.5 4 -1 4 -6 12 -13 20 -13 18 -34 42 -8 7 -12 6 -58 19.5 -20 5 -22 3.5 -28 3.5 -30 3 -82 6 -68 7.5 -26 2.5 -18 0.5z"/><path fill="#94ff6b" d="M294 266l-16 1 -18 0.5 -100-1.5 0-36 50-2 46-4 30-4 51-10 175-38 22-5.5 40-12.5 34.5-12 27.5-10.5 20-9.5 8-3 8-1.5 12 0.5 4 0.5 2 1.5 1 2 0 4 -2 6 -8 16 -9 14 -25 34 -5 6 -6 5 -8 4.5 -10 4.5 -42 15 -12 4 -18 4 -22 4 -26 3.5 -28 3 -86 6.5 -54 6.5 -36 3.5z"/><path fill="#a8ff57" d="M282 266l-30 0.5 -92-1 0-35 58-2.5 45.5-4 28-4 42-8 178.5-37.5 19-4.5 34.5-10 24-8 39.5-14 25-10.5 8-2.5 6-0.5 6 1 3.5 2.5 1 2 0.5 4 -1.5 6 -6.5 14 -21.5 34 -5.5 7 -4 4.5 -6 5 -10 5.5 -50 19.5 -12 3.5 -18 4.5 -18 3.5 -20 3 -50 5 -66 5.5 -60 7 -48 4.5z"/><path fill="#bdff42" d="M298 264l-18 1.5 -18 0.5 -102-1 0-34 52-2 39-3 34-4 44-8 199-40.5 50-14.5 76-26 6-1 4 0.5 3 1.5 1.5 2 0.5 4 -0.5 4 -2 6 -3.5 8 -14.5 26 -5.5 8 -5 5 -8 6 -9 5 -51 20.5 -14 4 -18 4.5 -34 5.5 -46 5 -74 6.5 -52 6.5 -34 3.5z"/><path fill="#d1ff2e" d="M288 264l-16 1 -18 0.5 -94-1 0-33 46-1.5 30-2 38-3.5 27.5-4.5 44-8 180.5-35.5 44-12 78-24.5 4-0.5 4 0 3.5 2.5 0.5 2 0.5 4 -1.5 6 -6.5 16 -8.5 15.5 -4 5 -4 4 -8 6 -10 5.5 -34 15 -19.5 7 -28.5 7.5 -34 5.5 -48 5.5 -64 5.5 -58 7.5 -44 4.5z"/><path fill="#e5ff1a" d="M278 264l-32 0.5 -86-0.5 0-32 48-1.5 26-1.5 36-3.5 25-3.5 46-8 183-34.5 40-10.5 56-17 20-5 8-0.5 3.5 1.5 1 2 0.5 4 -1 6 -1.5 6 -3.5 8 -7 11.5 -8 8 -9 6.5 -11.5 6 -31.5 14 -20 7.5 -14 4 -16 3.5 -34 5.5 -42 4.5 -66 6.5 -60 8 -32 3 -18 1.5z"/><path fill="#faff05" d="M250 264l-90-0.5 0-31 66-2.5 40-3.5 22-2.5 48-8 126-23.5 60.5-10.5 27.5-6.5 56-15.5 24-6 8-1 4 0 2.5 1 1.5 1.5 1 2.5 -0.5 4 -0.5 4 -2 6 -3 6 -6 8 -9 8 -13 8 -29 14 -18 7.5 -20 6 -14 3.5 -16 3 -40 5.5 -88 9 -58 7.5 -32 4 -22 1.5 -26 0.5z"/><path fill="#fff000" d="M286 262l-14 1 -22 0.5 -90-0.5 0-30 68-2.5 38-3 22-2.5 46-7.5 128-23 60-10 40-9.5 42-11 16-3.5 8-1 6 0 4 1.5 2 3 0 4 -1.5 4 -4 8 -7.5 8 -7.5 6 -17 10 -24 12 -15 6 -19.5 6 -24 5.5 -32 5 -36 4.5 -64 6.5 -58 8 -44 4.5z"/><path fill="#ffdb00" d="M278 262l-34 1 -84-0.5 0-29 66-2.5 36-2.5 22.5-2.5 47.5-7 132-23 58-9 20-4.5 53-12.5 13-2.5 10-1 6 0 4 1 2.5 2.5 0.5 2 -1 4 -2 4 -3.5 4 -6 6 -11.5 8 -17.5 10 -16.5 8 -15.5 6 -20 6 -23.5 5 -32 5 -96 10.5 -62 9 -46 4.5z"/><path fill="#ffc700" d="M260 262l-100 0 0-28 64-2 32-2.5 26-2.5 50-7 132-22 58-8.5 75-15.5 9-1 8 0.5 2 0.5 2 1.5 1 2.5 0 2 -2.5 4 -5.5 6 -11 8 -13 8 -11 6 -14 6 -17.5 6 -16.5 4.5 -18 3.5 -26 4.5 -34 4 -64 7 -60 8.5 -40 5 -26 1z"/><path fill="#ffb300" d="M286 260l-16 1 -22 0.5 -88 0 0-27 62-2 56-4 52-7.5 134-21 60-8.5 60-11 10-0.5 6 0 4 1.5 1.5 2.5 -1.5 4 -5.5 6 -8 6 -13 8 -12 6 -15.5 6 -12 4 -15.5 4 -20 4 -26 4 -90.5 10.5 -56 8.5 -44 5z"/><path fill="#ff9e00" d="M278 260l-38 1 -80 0 0-26 64-2 54-4 50-6.5 54-8.5 81-12 59-7.5 43-6.5 11-1 8 0 5 1 1.5 2 0 2 -1 2 -4 4 -8 6 -10.5 6 -13 6 -10.5 4 -13 4 -16 4 -21.5 4 -26.5 4 -80.5 10 -60 8.5 -48 5.5z"/><path fill="#ff8a00" d="M262 260l-40 0.5 -62 0 0-25 62-1.5 52-4 54-6.5 62.5-9.5 87.5-12 78-8.5 14 0.5 2 0.5 2.5 1.5 0 2 -3 4 -5 4 -11 6 -14 6 -12 4 -24 6 -35 6 -86.5 11 -60 9 -36 4.5 -26 1.5z"/><path fill="#ff7500" d="M206 260l-46 0 0-24 60-1.5 52-3.5 52-6 77.5-11 72.5-9 68-5 10 0 5 2 0 2 -3.5 4 -6.5 4 -13.5 6 -12 4 -16 4 -32 6 -27.5 4 -66 8.5 -48 7.5 -46 6 -28 1.5 -52 0.5z"/><path fill="#ff6100" d="M276 258l-44 1 -72 0 0-22 64-2 56-3.5 50-6 84.5-11.5 61.5-6.5 22-1.5 24-0.5 10 0.5 5 2 0 2 -1.5 2 -3 2 -9 4 -19.5 6 -18 4 -36 6 -68 9 -56 9 -29.5 4 -20.5 2z"/><path fill="#ff4c00" d="M258 258l-58 0.5 -40 0 0-21 66-2 50-3 52-5.5 68-9 74-7.5 16-0.5 16 0 12 2 2 2 -1.5 2 -3.5 2 -11 4 -15.5 4 -20.5 4 -25 4 -53 7.5 -53 8.5 -28 4 -25 3 -22 1z"/><path fill="#ff3800" d="M214 258l-54 0 0-20 62-1.5 54-3 48-5 70.5-8.5 65.5-5.5 14-0.5 10 0.5 7.5 1.5 1.5 2 -2 2 -11.5 4 -27.5 6 -153.5 24 -28.5 3 -56 1z"/><path fill="#ff2400" d="M268 256l-64 1.5 -44-0.5 0-18 64-1.5 48-3 58-5 48-5.5 50-4.5 30-0.5 8.5 1 0.5 2 -4 2 -6.5 2 -30 6 -44.5 7 -50.5 9 -40 6 -23.5 2z"/><path fill="#ff0f00" d="M240 256l-44 0.5 -36-0.5 0-16 58-1.5 38-2 54-4 69.5-6.5 20.5-1 22-0.5 6 0.5 3 1 -3.5 2 -17 4 -75 14 -37.5 6 -24 2.5 -34 1.5z"/><path fill="#fa0000" d="M268 254l-68 1.5 -40-0.5 0-14 82-2.5 82-5 46-3.5 12.5 0 3.5 1 0.5 1 -12.5 4 -37 8 -47.5 8 -21.5 2z"/><path fill="#e50000" d="M230 254l-38 0.5 -32-1 0-11 28-1 40-1 96.5-4.5 20 0 2 2 -5.5 2 -16.5 4 -38.5 7 -16 1.5 -40 1.5z"/><path fill="#d10000" d="M244 252l-46 1 -22-1 -16-1.5 0-5 28-2.5 36-0.5 60-3 23 0.5 5 2 -4 2 -6.5 2 -21 4 -36.5 2z"/><path fill="#bd0000" d="M204 250l-10-0.5 -8-1.5 6-2 4 0 36-0.5 38-2 12 0.5 -1 2 -12.5 2 -64.5 2z"/></g></g><g clip-path="url(#clipAB)"><g filter="url(#soft)"><rect x="150" y="10" width="1060" height="550" fill="#00008a"/><path fill="#00009e" d="M1196 546l-1036 0 0-264 1036 0 0 264z"/><path fill="#0000b2" d="M1196 546l-682 0 -11.5-2 -22.5-1 -19.5 1 -9 2 -291.5 0 0-264 1036 0 0 264z"/><path fill="#0000c7" d="M1196 546l-656 0 -3.5-2 -4.5-1.5 -12-2 -14-1 -28-0.5 -20 0.5 -14 1.5 -12 2.5 -2 0.5 -3.5 2 -266.5 0 0-264 1036 0 0 264z"/><path fill="#0000db" d="M1196 546l-640 0 -2.5-2 -5-2 -8-2 -10.5-2 -22-1.5 -30-0.5 -24 0.5 -20 1.5 -10 2 -7 2 -4.5 2 -2 2 -250.5 0 0-264 1036 0 0 264z"/><path fill="#0000f0" d="M1196 546l-627.5 0 -2-2 -2.5-1.5 -7-2.5 -8-2 -12.5-2 -24.5-2 -36-1 -30 1 -24 2.5 -8 1.5 -8 2.5 -6 2.5 -3 3 -237 0 0-264 1036 0 0 264z"/><path fill="#0005ff" d="M1196 546l-616 0 -1.5-2 -2.5-1.5 -5.5-2.5 -12.5-3.5 -12-2 -14-2 -18-1 -40-0.5 -34 0.5 -16 1.5 -12 1.5 -12 2.5 -8 3 -6 3.5 -2 2.5 -224 0 0-264 1036 0 0 264z"/><path fill="#0014ff" d="M1196 546l-604.5 0 -1.5-2 -3-2 -9-4 -10-2.5 -16-3 -18-2 -18-1.5 -44-0.5 -22 0 -22 1 -26 3.5 -12 2.5 -8 2.5 -8 4 -2 2 -1 2 -211 0 0-264 1036 0 0 264z"/><path fill="#001fff" d="M1196 546l-598.5 0 -1.5-2 -3-2 -9-4 -12-3.5 -16-3 -32-3 -52-1.5 -24 0.5 -22 1 -14 1 -14 2 -12 2.5 -12 4 -7 4 -2 2 -1.5 2 -203.5 0 0-264 1036 0 0 264z"/><path fill="#0029ff" d="M1196 546l-592.5 0 -1.5-2 -2.5-2 -9.5-4.5 -14-4 -18-3 -34-3.5 -54-1 -46 1 -18 1.5 -14 2 -15 3.5 -11.5 4 -6.5 4 -2 2 -1 2 -196 0 0-264 1036 0 0 264z"/><path fill="#0033ff" d="M1196 546l-586.5 0 -1.5-2 -2.5-2 -5.5-3 -8-3 -16-4 -16-2.5 -20-2.5 -16-1 -34-1.5 -22 0 -46 1 -20 2 -16 2 -14 3 -12 4 -8 4.5 -3.5 3 -1 2 -187.5 0 0-264 1036 0 0 264z"/><path fill="#003dff" d="M1196 546l-580 0 -1.5-2 -2.5-2 -10-5 -12-3.5 -20-4 -16-2.5 -24-2 -40-1.5 -24-0.5 -50 1.5 -22 2 -16 2 -16 3.5 -11.5 4 -8.5 5 -3 3 -1 2 -178 0 0-264 1036 0 0 264z"/><path fill="#0047ff" d="M1196 546l-573.5 0 -1.5-2 -3-2.5 -6-3 -5.5-2.5 -14-4 -18.5-3.5 -20-3 -24-2 -40-1.5 -28-0.5 -36 0.5 -18 1 -22 2 -24 4 -13.5 3 -10.5 4 -8 5.5 -2.5 2.5 -0.5 2 -167 0 0-264 1036 0 0 264z"/><path fill="#0052ff" d="M1196 546l-567.5 0 -1-2 -3.5-3 -10-5 -18-5 -20-4 -22-3 -26-2 -38-2 -32 0 -34 0.5 -20 0.5 -22 2 -28 3.5 -16 3.5 -14 5 -8 5 -3.5 4 -1 2 -151.5 0 0-264 635.5 0 0.5 4 1.5 4 12 26 4.5 4.5 10 7.5 4 1.5 4 1 46 6 6 0.5 22-0.5 14-1.5 16-0.5 70-6.5 56-9 8-2 40-12.5 27.5-12.5 15.5-8 2.5-2 40.5 0 0 264z"/><path fill="#005cff" d="M1196 546l-561 0 -1-2 -5-4 -5-3 -8-3 -14.5-4 -23.5-4.5 -22-3 -26-2 -40-2 -36-0.5 -30 0 -22 1 -42 3 -22 2.5 -18 3.5 -14 4 -8 4 -6 4 -4.5 4 -1 2 -126.5 0 0-264 593.5 0 0.5 8 2.5 12 9 18 5.5 14 2.5 4 8.5 10 7 6 19 13.5 4 2 14 2.5 56 7 12-1 16 0 14-2 16 0 12-1.5 12-0.5 12-1.5 12-0.5 12-1.5 10-1 62-10 8-2 44-14 26.5-11.5 15.5-7.5 8-3.5 10-2 12-1 0 228z"/><path fill="#0066ff" d="M1196 546l-555 0 -3-4 -8-5 -10-4.5 -10-3 -32-6 -44-4.5 -46-2.5 -62-1 -54 2 -30 0 -34 2 -8 1 -22 5 -12 1 -8-1 -12-5 -18-3.5 -6-2 -8-5 -2-0.5 -16-2.5 -20-0.5 -10-1.5 -6 0 0-223 569 0 1 10 2 14 1.5 6 5 8 5 10 6.5 18 13 16 4.5 4 30.5 22.5 6 3 78 10 12-1 20-0.5 12-1.5 18-0.5 10-1.5 14-0.5 10-1.5 14-0.5 10-1.5 10-0.5 70-11.5 30-9 22-7.5 46-21 8-2 8-0.5 0 203.5z"/><path fill="#0070ff" d="M1196 546l-549.5 0 -3-4 -5.5-4.5 -8-4 -10-3.5 -12-3 -12-2.5 -38-5 -26-3 -46-2.5 -62-1.5 -52 0.5 -20-2 -8-1 -12-1 -8-1 -16-1.5 -12 1.5 -18 3 -8 0.5 -4-1 -4-1.5 -8-4.5 -22-4.5 -4-2 -6-5 -2-1 -12-1 -8-1.5 -22 0 -10-2 -8 0 0-205.5 551.5 0 1.5 14 2 14 1 5.5 2 4.5 5 8 5 10 6 18 2.5 4 7.5 7.5 6 8 6 5.5 34 25 6 3.5 8 1.5 24 3 54 7.5 14-2 20 0 12-2 18 0 10-1.5 14-0.5 10-1.5 14-0.5 10-1.5 10-0.5 72-12 30-9 24-8 26-12 18-8.5 6-2 6-0.5 0 186.5z"/><path fill="#007aff" d="M1196 546l-544 0 -3-4 -5-4 -6-4 -10-4.5 -18-4.5 -32-5.5 -44-5 -44-3.5 -52-1.5 -14-1 -50-1.5 -20-3 -8-2 -12-1.5 -8-2 -10-0.5 -8-2 -14 2 -18 3 -4 0.5 -5-1.5 -5.5-4 -3.5-1.5 -22-4 -3.5-2.5 -2.5-4 -2-2 -2-0.5 -14 0 -12-2 -20 0 -10-2 -10 0 0-195.5 537.5 0 1.5 8 0.5 8 1.5 8 0.5 6 2.5 10 8.5 14 3 6 6.5 20.5 2 3.5 9.5 10 4.5 6 10 10 38 27.5 4 2.5 12 2.5 8 0.5 8 1.5 8 0.5 22 3.5 8 0.5 8 1.5 8 0.5 6 1.5 8 0 12-1.5 20-0.5 12-1.5 18-0.5 10-1.5 14-0.5 10-1.5 14-0.5 10-1.5 12-0.5 62-10 12-3 52-16.5 18-8 8-3.5 18-8.5 4-1.5 4-0.5 0 173z"/><path fill="#0085ff" d="M1196 546l-538.5 0 -3-4 -6.5-5 -7.5-5 -6.5-3 -6-2.5 -10-2.5 -22-4 -60-8 -46-4.5 -50-2.5 -14-1.5 -50-2.5 -10-2 -10-1.5 -8-2.5 -12-1.5 -8-2 -10-0.5 -8-2 -6 0 -30 5 -2-0.5 -6-4 -4-1.5 -4-1 -6.5-1 -7.5-2 -3-2 -1.5-4 -3.5-2 -4-1 -18-0.5 -10-2 -22 0 -10-2 -12 0 0-188.5 528 0 2 10 0.5 8 2 8 0.5 8 2.5 8 1.5 4 10 16 8 22 2.5 4 9.5 10 5 6.5 12 11.5 39 28 5 2.5 12 2 8 0.5 8 2 8 0.5 22 3.5 8 0.5 8 1.5 8 0.5 6 1.5 12 0.5 12-2 20 0 10-1.5 20 0 10-2 16 0 8-1.5 16-0.5 8-1.5 13.5-0.5 60.5-9.5 12-2 28.5-8.5 25.5-8 18-8.5 8-3 18-8.5 4-1 0 163z"/><path fill="#008fff" d="M1196 546l-533 0 -3.5-4 -5-4 -6.5-4.5 -8-5 -14-5.5 -18-4 -72-10.5 -22-3 -12-0.5 -10-2 -52-3 -12-2 -52-2.5 -8-2.5 -10-1.5 -8-3 -10-1.5 -8-2.5 -10-1.5 -10-2.5 -10-0.5 -20 2.5 -4 0 -4-1 -8-3 -8.5-2.5 -1.5-1 -4.5-5 -3.5-2 -12-3 -18-0.5 -12-2 -20 0 -12-2 -14 0 0-178.5 520.5 0 0.5 6 1.5 6 1 10 2 6 1 8 2.5 8 2.5 6 7 10 3.5 6 7.5 20 4 6 8.5 8.5 6 7.5 13 12 19 14 21 14 5 2 12 2.5 8 0.5 8 2 10 0.5 6 1.5 8 0.5 6 1.5 10 0.5 22 4 14 0 12-1.5 20 0 10-1.5 20 0 10-1.5 16-0.5 8-1 16-0.5 8-1 12-0.5 62-8.5 14-2.5 28-7.5 26-7.5 26-10.5 14-6.5 4-1 0 152.5z"/><path fill="#0099ff" d="M1196 546l-528 0 -3-4 -5.5-4 -8.5-6 -9-5.5 -12-5 -18-4.5 -66-10 -8-2 -12-1.5 -10-2 -14-1.5 -8-1.5 -50-3.5 -14-2.5 -50-4.5 -18-5 -28-11 -18-5 -16-3 -18 0.5 -4-1 -10-4 -8-5.5 -4-2.5 -6-2 -10-2.5 -6-1 -14-0.5 -12-2 -18-0.5 -14-2 -16 0 0-159 509.5 0 0.5 6 3 10 1.5 8 3.5 14 3 8 4 8 9.5 14 9 20 4 6 9.5 10 5 6 16 14.5 19 13.5 22.5 14 4.5 2 12 2.5 26 3 6 1.5 8 0.5 8 1.5 8 0.5 22 4 18 0.5 10-1.5 22 0 10-1 20 0 10-1.5 14 0 12-1 14 0 8-1 12-0.5 62-6.5 14-2 54-12 42-14.5 0 137.5z"/><path fill="#00a3ff" d="M1196 546l-523 0 -3.5-4 -7.5-6 -10-6.5 -9.5-5.5 -12.5-5.5 -18-5 -44-7 -72-13.5 -50-6 -12-2.5 -36-4 -18-3 -18-6.5 -42-21.5 -20-8 -16-5.5 -20-11 -20-8.5 -31.5-10.5 -28.5-8.5 -16-3.5 -8-1 0-111 496 0 2 8 11.5 32 4 10 4.5 7.5 10 14.5 8 16 5 8 18.5 20 16 14 18.5 13 22 13 6 2.5 14 2.5 24 3 54 8 18 0.5 12-1 20 0.5 12-1.5 20 0.5 10-1 14 0 10-1 14 0 10-1 12 0 72-5.5 62-10 20-4 16-2.5 0 118z"/><path fill="#00adff" d="M1196 546l-518 0 -1.5-2 -4.5-4 -20.5-14 -9.5-5.5 -8-3.5 -12-4.5 -10-2.5 -42-7.5 -20-4.5 -8-2.5 -22-5.5 -22-4.5 -50-7.5 -14-3 -32-4.5 -16-3 -8-2.5 -10-3.5 -6-3.5 -14-8.5 -16-11 -12-7 -45-23.5 -13-6 -25-10 -33.5-12 -27.5-8 -10-2.5 -6-0.5 0-87 470 0 1.5 4 4.5 6 12 12 6 8 13.5 24 14 20 9.5 18 7.5 10 17 18 16.5 14.5 20 13.5 20 11.5 8 3 14 3 26 3 52 7.5 20 1 12-0.5 22 0 10-0.5 20 0 10-0.5 14 0 12-1 34 0 74-4 22-2 16-1 58 0.5 0 96z"/><path fill="#00b8ff" d="M1196 546l-513.5 0 -3.5-4 -5.5-4 -21.5-14.5 -8-4.5 -12-6 -16-6 -42-9.5 -52-15.5 -22-5 -94-17 -18-3.5 -10-3 -8-3.5 -8-4.5 -30-21 -10-6.5 -23.5-12 -25-12 -30.5-12 -36-12 -29-8 -12-2.5 -6-0.5 0-77 452.5 0 1.5 4 4 6 12 17 6 6.5 14 11 6 5.5 20 26 10 17.5 4.5 6.5 19.5 21.5 12 11.5 8 6.5 18 12 22 12.5 10 3.5 12 2 26 3 52 7.5 16 1.5 10 0 10-0.5 20 0.5 12-1 18 0.5 12-0.5 58-0.5 34-1.5 36 0 48 2 52 3.5 0 80z"/><path fill="#00c2ff" d="M1196 546l-509 0 -1.5-2 -5-4 -26.5-18 -22-12.5 -16-7 -42-11.5 -32-11 -22-6.5 -24-6 -90-18 -26-6.5 -8-3 -8-4.5 -30-21 -10.5-6.5 -20-10 -26.5-12 -27-10 -37.5-12 -30-8 -14.5-3 -8-1 0-62.5 6-0.5 18-3 9-2 5.5-2 400 0 2 4 19.5 26 8 9.5 8 8 16 11 10 9 10 12 16 24.5 22 24 10.5 10 7.5 6 18 12 12 7 10 5.5 8 2.5 6 1.5 94 12.5 18 0.5 12-0.5 20 0.5 12-0.5 20 0.5 34-1 68 0.5 68 5 68 7 0 67z"/><path fill="#00ccff" d="M1196 546l-504.5 0 -1.5-2 -5-4 -29-20 -26-16 -16-7 -38-12 -34-12.5 -20-7 -30-7.5 -88-18.5 -24-6.5 -8-3 -8-4.5 -29-19.5 -11-6.5 -24-11.5 -24.5-10 -29.5-10 -34-10 -26.5-6 -11-2 -14.5-1.5 0-55 16-1.5 29-4 23.5-4 6.5-2 345.5 0 2 2 9.5 7 6 6 25 29 9 9.5 6 5 16 10.5 8 7 8 9 18 25.5 16.5 17.5 13.5 13.5 8 6.5 16 11 14 8.5 10 5 8 2.5 6 1.5 38 4 56 8 22 1 10-0.5 20 0.5 14-0.5 18 0.5 36 0 44 1.5 36 3 54 5 68 8.5 0 56.5z"/><path fill="#00d6ff" d="M1196 546l-500 0 -1.5-2 -2.5-2 -22-15.5 -34-22.5 -10-6 -18-8 -30-10.5 -36-14 -18-6.5 -24-6.5 -90-20 -20-5 -12-3.5 -6-2.5 -8-4.5 -29.5-19 -10.5-6 -32.5-14 -28.5-10 -27.5-8 -25-6 -34.5-6 -16-1.5 0-51 20-1.5 39-4 31.5-4 12-2 7.5-2 273 0 19 5 12 4.5 12 6 8 5.5 8 7.5 21 23.5 8 8 7 5.5 16 10.5 8 7 7.5 9 18.5 24 16 17.5 14 14 10 8 12 8 14 8 10 4.5 8 3 8 1.5 38 4 54 7.5 22 1 14 0 62 0.5 48 2.5 46 4 58 6.5 34 4.5 40 6 0 47z"/><path fill="#00e0ff" d="M1196 546l-495.5 0 -1.5-2 -2.5-2 -60.5-42 -10-6 -17-8 -29-11 -46.5-19 -11.5-4 -28-7.5 -86-19.5 -30-8.5 -14-6.5 -29.5-18 -11-6 -30-12 -24-8 -30-8 -28-6 -24.5-4 -16-2 -11-0.5 0-49 40-2.5 45.5-4 53.5-6 12-2 79 0.5 78.5-0.5 24.5 4 53 7 14 2.5 10 3 10 4 8 4 8 6 8 7.5 27.5 28 6.5 5 14 9.5 8 7 8 9 22 28.5 18 20 10 10 8 6.5 10 6.5 12 6.5 10 4.5 8 3 10 2 40 4 56 7 22 1.5 46 1 32 2 46 3 42 4 74 9.5 62 10.5 0 37.5z"/><path fill="#00ebff" d="M1196 546l-490.5 0 -4-4 -15.5-10 -50-35.5 -10-6 -17-8.5 -29-11.5 -48.5-20.5 -12-4 -29-8 -82.5-19 -30-8 -14-6.5 -28-16.5 -12-6 -26-10 -25.5-8 -32.5-8 -31.5-6 -28-4 -20.5-1.5 0-47 60.5-3.5 89.5-7 26-1 52 2.5 48-1 20 1 26 2.5 60 8 20 3.5 10 3 10 4 8 4.5 8 6 8 7.5 24.5 24.5 7 6 14.5 9.5 8 7.5 8 9 22 29 18 21 10 10.5 6 5 9.5 6.5 10.5 6 10 5 8 2.5 6 1 48 3 60 7.5 18 1.5 98 6 44 4 64 8 48.5 7.5 47.5 10 0 28z"/><path fill="#00f5ff" d="M1196 546l-485 0 -2-2 -2.5-2 -19.5-12 -51-37 -11.5-7 -16.5-8 -76-32 -12-4.5 -27.5-7.5 -33-8 -49.5-11 -30-8 -14-5.5 -27-15.5 -12-6 -21-8 -25.5-8 -33.5-8 -31.5-6 -28-4 -19-2 -8.5-0.5 0-45 81-4.5 67-4.5 26-0.5 52 3 50 0 18 1 34 3.5 58 8.5 14 2.5 12 3.5 10 4 10 5.5 8 6 30 29.5 6 5 16 11.5 8 7.5 8.5 10 21.5 29.5 18 21.5 10 10.5 6 5.5 8 5.5 12 7 10 4.5 8 2.5 6 1 32 0.5 18 0.5 26 3 50 6 78 5 42 3.5 44 5.5 48 7 28 5 22 4.5 16.5 4 23.5 7 0 17z"/><path fill="#00ffff" d="M1190 546l-473.5 0 -1.5-2 -3-2 -26-16 -50-36 -10-6.5 -19.5-9.5 -74.5-32 -18.5-6 -29.5-8 -76-17.5 -28-7.5 -8-2.5 -8-4 -27.5-14.5 -13-6 -23.5-8 -20.5-6 -26-6 -32-6 -27.5-4 -18-2 -16-1 0-44 65.5-3 78.5-4.5 30-0.5 52 4 50 0.5 20 1.5 34 4 58 8.5 14 3 14 4 10 4.5 8 5 8 6.5 28 27.5 22 17 8 7.5 9.5 11.5 22.5 31.5 18 22.5 10 11 6 5 10 6.5 10 5.5 8 3.5 8 2 6 1 38-0.5 24 1 64 7.5 108 8 54 7 54 9 22 5 18 4.5 16 5 12 5 10.5 6 2 2 1 2 -1.5 0z"/><path fill="#0afff5" d="M1158 546l-436 0 -1.5-2 -4.5-3 -20-11.5 -10-6.5 -50-36 -11-7 -19-9.5 -61-26.5 -15-6 -19-6 -29.5-8 -75.5-17 -28-7.5 -12-5 -37.5-18.5 -16.5-6 -27-8 -26-6 -45-8 -32-4 -22-1.5 0-43 138-6 34-0.5 54 4.5 50 1 22 2 24 3 64 9.5 18 4 8 2 10 4 8 4 6 4 10 9 26 25.5 22 17 6 6 6 7.5 24 34.5 20 26.5 8 9.5 6 5.5 6 4.5 12 7 10 4.5 8 2.5 8 1 40-2 24 1 60 7 88 7 26 2.5 26 3 46 8 26 5.5 17.5 4.5 14.5 4.5 13 5.5 7 4 2.5 2 1 2 -1.5 0z"/><path fill="#14ffeb" d="M1126 546l-399 0 -1-2 -6-4.5 -24-13.5 -10-6 -50-36 -10-6.5 -19-9.5 -60-26 -15-6 -18-6 -29.5-8 -33-8 -49.5-11 -24-6 -14-5.5 -26.5-13.5 -9.5-4 -24-8 -22-6 -28-6 -35.5-6 -31-4 -27.5-2 0-42 130-5 42-0.5 56 5.5 48 1.5 20 1.5 32 4 60 10 14 2.5 10 3 8 3 8 4 8 5 10 8.5 26 25.5 22 18 6 6.5 7.5 9 22.5 34 20 28 8 10 6 6.5 6 4 10 6 8 4 10 3 10 1.5 40-3.5 14 0 12 0.5 58 6.5 80 7 42 4.5 42 7 22 5 15 4 12.5 4 10.5 4 7 4 2.5 2 1.5 2 -1 0z"/><path fill="#1fffe0" d="M1094 546l-361 0 -3.5-4 -5.5-4 -36-20 -52-37 -11.5-7 -20.5-10 -55.5-24 -20.5-8 -19.5-6 -29.5-8 -77-17.5 -22-5.5 -16-6 -27.5-13 -9.5-4 -18.5-6 -22-6 -28-6 -35.5-6 -30.5-4 -21.5-2 -11-0.5 0-41 126-4.5 30-0.5 16 0.5 54 5.5 50 2 20 1.5 38 5.5 56 9.5 14 3 10 3.5 8 3 8 4 6 4 12 10.5 24 23.5 22 18.5 6 6.5 7 9.5 21 33 30 43.5 4 5 6 5 8 5 8 4 12 4 10 1 10-0.5 22-3.5 12-1.5 12 0 12 0 58 7 66 5.5 38 4.5 34 5.5 28.5 6.5 13.5 4 10 4 8 4 3 2 1 2z"/><path fill="#29ffd6" d="M1062 546l-323 0 -3-4 -12-9 -8-4.5 -18-8.5 -10-5.5 -52-36.5 -10-6 -22-10.5 -54.5-23.5 -20.5-8 -19-6 -30-8 -34-8 -44-9.5 -22-5.5 -16-5.5 -24-11.5 -14-6 -13.5-4 -22-6 -27.5-6 -36-6 -30-4 -20.5-2 -16.5-1 0-40 128-4 28-0.5 16 0.5 54 6 50 2.5 20 2 36 5.5 58 10 14 3 10 3 8 3.5 8 4 6 4 12 10.5 24 23.5 22 19.5 8 9 7.5 11 44.5 72.5 6 9 4 4.5 4 3.5 12 6.5 8 3 6 1.5 6 1 6 0 8-1 22-5 12-2 12-1 12 0 18 1.5 44 5.5 64 6.5 42 5.5 28 5.5 14 4 10 4 6 3 3 2 1.5 2 -0.5 0z"/><path fill="#33ffcc" d="M722 522l-4 0 -9-2 -9-3.5 -8-4 -14-8.5 -44-30 -18-9.5 -66-28.5 -26.5-10 -28-8 -23.5-6 -70-15.5 -22-5.5 -16-5.5 -35-15.5 -19.5-6 -23.5-6 -30.5-6 -38.5-6 -35.5-4 -21.5-1.5 0-39.5 130-3 28 0 16 0.5 48 6 56 3 28 3 84 15 14 3 12 4 14 6.5 12 9 30 29.5 18.5 16.5 11 12 11.5 18 32 56 18 38 0.5 2 -1.5 2zM1028 546l-280 0 -2-3.5 -7.5-8.5 -2.5-4 0-2 2-0.5 18 0 12-1 6-2 22-7.5 14-3 14-1.5 12 0 17.5 1.5 38.5 5 50 5.5 38 5.5 20 4 14.5 4 10 4 3.5 2 1.5 2 -1.5 0z"/><path fill="#3dffc2" d="M706 511.5l-4 0 -4-1 -6-2.5 -8-4 -28-17.5 -22-15 -18-9.5 -65.5-28 -27-10 -28-8 -23.5-6 -70-15 -24-6 -12-4 -29-13 -10.5-4 -13.5-4 -23.5-6 -30-6 -39-6 -34.5-4 -26-1.5 0-39 124-3 30 0 18 1 53.5 6.5 52.5 3 28 3.5 84 15 14 3.5 12 4 14 6.5 12 9 30 29.5 18 16.5 6 6.5 5.5 7 6.5 10 7 12 20 38 6 12 4.5 12 3 10 0 4 -0.5 2 -2 1.5zM990 546l-219 0 2.5-4 6-6 9-6 7.5-4 8-3 8-2.5 8-1.5 10-0.5 12 0.5 14 1.5 71 9.5 23 3.5 12 2.5 16.5 4 10 4 2.5 2 -1 0z"/><path fill="#47ffb8" d="M696 502.5l-6-1 -12-5 -22-13.5 -22-14 -17-9 -66.5-28 -28.5-10.5 -27.5-7.5 -23.5-6 -71-15.5 -22-5 -14-5 -34.5-14.5 -13-4 -23.5-6 -30-6 -39-6 -33.5-4 -30.5-2 0-38 124-2.5 30 0 18 0.5 52 7 54 4 24 2.5 24 4 62 12 14 3 12 4 8 3.5 8 4 12 9 9.5 9 20.5 21 16 15 6 6 6 7.5 6.5 10.5 8 14 10.5 22 10 22 3.5 10 1 6 0 4 -1.5 2 -2 0.5zM942 546l-150 0 1.5-4 3.5-4 5-4 4-2.5 6-2.5 6-2 6-1 8-0.5 12 0.5 16 2 52 9 22.5 5 5.5 2 3 2 -1 0z"/><path fill="#57ffa8" d="M690 492.5l-2 1.5 -2 0 -8-2 -20-11 -26-16 -16-8 -71-29 -16.5-6 -13-4 -29.5-8 -25-6 -61-13 -20-4.5 -16-5.5 -26.5-11 -11-4 -14-4 -25.5-6 -32.5-6 -42.5-6 -30-3 -22-1.5 0-37 120-2.5 30 0 20 1 16 1.5 36 5.5 58 4.5 22 2.5 24 4 62 12.5 12 2.5 10 3.5 10 3.5 8 4 6 4 6 4.5 10 9.5 20 20.5 17 16.5 9 10 6 8.5 6.5 11.5 12.5 26 6 16 3 10 1 6 0 2 -1 2.5zM888 546l-79 0 2.5-4 6.5-4.5 8-3 8-0.5 14 1 17.5 3 14.5 4 5 2 3 2z"/><path fill="#6bff94" d="M676 478.5l-4 0.5 -8-2 -10-5 -24-13 -20.5-9 -66-26 -17.5-6 -21-6 -48-12 -55-11 -24-5.5 -12-4 -28.5-11.5 -11.5-4 -32.5-8 -32-6 -42.5-6 -39.5-4 -19.5-1 0-36 120-2 30 0.5 22 1 50 7.5 56 5 26 3.5 26 4.5 56 12 22 5.5 10 4 8 4 8 5 6 4.5 14 13.5 31 32.5 6.5 8 6 8 5 8 5 10 5 12 3.5 10 2 10 0 6 -2 2.5z"/><path fill="#80ff80" d="M664 466l-4 0 -8-2 -21.5-10 -16.5-6.5 -67.5-25.5 -22.5-7.5 -30.5-8.5 -33.5-8 -82-17 -14-4.5 -33-12.5 -14-4 -37.5-8 -39-6 -50.5-6 -30-1.5 0-35 118-1.5 30 0.5 22 1.5 12 1.5 40 6.5 56 5.5 24 3 42 8.5 44 9.5 16 4.5 10 3.5 10 5 8 4.5 6 4.5 8 7.5 8 8 30.5 34 6 8 5 8 4.5 8 4 10 2.5 8 1 8 -1 4 -2.5 2z"/><path fill="#94ff6b" d="M652 454l-4 0 -8-2 -52-18 -44-16 -24-7.5 -32-8.5 -25-6 -85-17.5 -14-4 -32-12 -18-4.5 -29-6 -38.5-6 -52-6 -34.5-2 0-34 116-1 30 1 24 1 54 9 52 5.5 26 3.5 38 8 46 10.5 14 4 18 6.5 14 8 12 10 16.5 18 21 26 7 10 4 8 3.5 9 1 7 -1 4 -2 1.5 -2 0.5z"/><path fill="#a8ff57" d="M642 442.5l-4 0.5 -4-0.5 -16-3 -28-8.5 -54-18.5 -22.5-6.5 -31.5-8 -26.5-6 -77.5-15.5 -14-4 -32-11 -21-5.5 -31.5-6 -42-6 -41.5-4.5 -36-2 0-33 50-0.5 66 0 32 1 22 1.5 54 9 52 6 24 3.5 38 8 56 14 18 6 14 7 11 8 11 10.5 8 9.5 11 14 9 12 4.5 8 3.5 8 1.5 6 -0.5 4 -1 1.5 -2 1z"/><path fill="#bdff42" d="M626 434l-10-0.5 -16-3.5 -70-22 -46.5-12 -36-8 -51.5-9.5 -20-4.5 -12-3.5 -31.5-10.5 -16-4 -32.5-6 -40.5-6 -47.5-5 -36-2 0-32 50-0.5 62 0.5 30 0.5 26 2 14 2 40 7.5 54 6.5 24 3.5 36 8 50 12.5 20 6.5 16 7.5 12 8 11 10.5 8.5 10 7.5 10 7.5 12 4 8 2 6 -0.5 4 -2 2.5 -2 1 -4 0.5z"/><path fill="#d1ff2e" d="M620 426l-4 1 -6 0 -14-2.5 -18-4.5 -48-14.5 -28.5-7.5 -51.5-11.5 -72-13.5 -14-4 -32-10.5 -20-4.5 -34-6 -45.5-6 -40.5-4 -32-1.5 0-31 50 0 60 0 32 1 24 1.5 16 2.5 40 8 68 9 28 5.5 28 7 38 10 18 6 16 7.5 13.5 8.5 7 6 7.5 8 7.5 10 6 10 4 8 1 6 -0.5 2 -1 2 -3 2z"/><path fill="#e5ff1a" d="M610 420l-4 1 -6-0.5 -14-2.5 -60-16 -34-8.5 -43-9.5 -71-13 -14-3.5 -32-10.5 -24-5 -37-6 -39-4.5 -40-4 -32-2 0-29 48-0.5 60 0.5 30 1 26 1.5 16 2.5 44 8.5 64 9 22 4.5 22 5 44 12.5 18 5.5 18 7.5 14 8 7.5 6 6.5 6.5 6 7.5 6 10 3 6 1 6 -0.5 2 -1.5 2 -4 2z"/><path fill="#faff05" d="M602 414l-4 0.5 -6 0 -16-2.5 -60-15 -46-11 -26-5 -68-12 -44-13 -24-5 -36-5.5 -44-5.5 -38-3.5 -30-1.5 0-28 48-0.5 60 1 30 1 26 1.5 18 3 42 8.5 62 9 34 7.5 30 8 38 11.5 16 6.5 15 8 8.5 6 7 6 5 6 5 8 2.5 6 0.5 4 -0.5 2 -1 2 -4 2z"/><path fill="#fff000" d="M592 408l-10 0 -14.5-2 -103.5-23.5 -24-4.5 -60-10 -14-3.5 -36-10.5 -24-4.5 -34-5 -44-5 -38-3.5 -30-1.5 0-27 48-0.5 58 1 30 1 26 2 18 2.5 42 9 58 9 28 5.5 33.5 9 38 12 16.5 6 15.5 8 9 6 7.5 6 4 4.5 4 5.5 2.5 6 0 4 -2.5 2.5 -4 1.5z"/><path fill="#ffdb00" d="M584 401l-6 1 -6 0 -22-3 -94-20 -78-13.5 -14-3 -34-9.5 -30-5.5 -32-4.5 -44-4.5 -36-3 -28-1.5 0-26 48 0 56 0.5 30 1.5 26 1.5 20 3 44 10 48.5 7.5 21.5 4 32 8 26.5 8 29 10 18 8 13.5 8 7 6 3.5 4 3 4 1 4 0 2 -1.5 2 -2 1z"/><path fill="#ffc700" d="M570 394.5l-6 1 -8 0 -23.5-3.5 -78.5-15.5 -76-12.5 -14-3 -34-9.5 -30-5 -32-4 -48-5 -34-2.5 -26-1.5 0-25 46 0 58 1 30 1 26 2 20 3 42 10 64 11 24 5.5 28 8 28.5 10 19.5 8 15 8 5 4 4.5 4 2.5 4 1 2 -0.5 2 -1.5 1.5 -2 1z"/><path fill="#ffb300" d="M554 388.5l-6 0.5 -8 0 -21.5-3 -68.5-12.5 -72-11.5 -48-11.5 -32-5 -32-4 -44-4.5 -32-2.5 -30-1.5 0-24 54 0 62 1.5 40 3 22 3 42 10 54 9.5 16 3.5 26 6.5 19.5 6 17 6 14.5 6 13 6 7 4 8 6 2.5 4 0 2 -3.5 2.5z"/><path fill="#ff9e00" d="M534 382l-10 0.5 -14-1.5 -62-10.5 -62-9 -19.5-3.5 -38.5-9 -28-4.5 -30-3.5 -44-4.5 -40-3 -26-1 0-23 56 0.5 60 1.5 36.5 2.5 23.5 3 42 10.5 65 12.5 23.5 6 19.5 6 26.5 10 12.5 6 7 4 5 4 1.5 2 0 2 -0.5 0.5 -4 1.5z"/><path fill="#ff8a00" d="M516 374l-4 1.5 -4 0 -14-1 -105.5-14.5 -22.5-4 -38-8.5 -36-5 -76-7.5 -32-2 -24-1 0-22 48 0.5 62 1.5 32 2 19.5 2 10.5 1.5 11.5 2.5 36.5 9.5 61.5 12.5 22.5 6 23.5 8 18 8 9.5 6 1.5 2 -0.5 2z"/><path fill="#ff7500" d="M490 367l-6 1 -12-0.5 -82-9.5 -24-4 -40-8 -40-5.5 -80-7 -46-2 0-21 50 0.5 58 2 32 2 28 3 18.5 4 33.5 9 51 11 22 6 17.5 6 13.5 6 6 4 1 2 -1 1z"/><path fill="#ff6100" d="M458 360l-18 0 -52-5 -22-3 -40-7.5 -46-5.5 -70-6 -50-2.5 0-19 56 0.5 56 2 28.5 2 27.5 3.5 13 2.5 33 9.5 45 10.5 22 6 11 4 7.5 4 2 2 -1.5 1.5 -2 0.5z"/><path fill="#ff4c00" d="M428 352.5l-4 1 -8 0 -30-1.5 -18-2 -42-7 -34-4 -76-6.5 -30-1.5 -26-1 0-18 46 0.5 60 2.5 28 1.5 30 3.5 19 4 31 9.5 39 10.5 11.5 4 4 2 1 2 -1.5 0.5z"/><path fill="#ff3800" d="M394 346.5l-8 1 -14-0.5 -12-1 -36-5.5 -40-3.5 -76-6 -48-2 0-16 56 1 52 2 27.5 2 24.5 3 10 1.5 13.5 3.5 42 14 9 4 1.5 2 -2 0.5z"/><path fill="#ff2400" d="M366 341l-4 0.5 -8 0 -46-4 -82-6.5 -38-2 -28-1 0-14 44 0.5 60 2.5 24 2 27.5 3 20.5 4 12.5 4 10 4 7.5 4 1.5 2 -1.5 1z"/><path fill="#ff0f00" d="M340 336l-11.5 0 -38-2 -82.5-5.5 -48-1.5 0-12 45.5 1 47.5 2 30 2 17.5 2 24 4 7.5 2 10 4 2 2 -2 1.5 -2 0.5z"/><path fill="#fa0000" d="M308 330l-12 1 -20-0.5 -64-4 -52-1.5 0-8 44.5 1 44.5 2 29 2 15 2 10.5 2 6 2 0.5 2 -2 0z"/></g></g><g clip-path="url(#clip_bt)"><g clip-path="url(#mask_bt)"><g filter="url(#softf)"><rect x="160" y="710" width="620" height="153" fill="#000bff"/><path fill="#0021ff" d="M753 854l-236-0.5 -10-0.5 -3-1 -3-0.5 -55-3.5 -123-1.5 -100-2.5 -24-3.5 -16-3 -2-1 -2-1.5 -3-1.5 -2-1.5 -1 0 -2-2 0-3 0-1 1-1 6 0 1-0.5 11 0 1-1 11 0 1-1 19 0 1-1 26 0 1-1 16 0 1-1 6 0 1-0.5 6-0.5 1-0.5 7-1 46-3.5 46-6 42-7.5 25-4 40-7.5 39-9 50-15.5 46-16 23-12 21-7 4-1 20-1 5 1 19 6.5 20 10 5 3 5 4.5 6 6 3 4 6.5 20 5.5 20 2 10 0 10 -4 13 -1.5 2 -4.5 5 0 1 -1 1 0 3 -1 1 0 3 -2 3z"/><path fill="#0038ff" d="M753 853.5l-231 0 -12-0.5 -4-2 -4-1 -55-2.5 -127-1.5 -92-2.5 -16-1.5 -29-5 -7-4 -2-1.5 -1 0 -1.5-1.5 -0.5-3 0.5-1 0.5-0.5 6 0 1-0.5 11-0.5 21-1.5 55-2.5 30-3.5 34-2 48-6 69-11.5 40-7.5 39-9 50-15 46-16 23-11.5 19-6.5 6-1 20-0.5 2.5 0.5 7 3 14.5 6.5 9.5 5.5 8.5 6 6 4.5 4 4 5.5 7.5 4 7 2.5 6 5.5 19 4.5 18 0.5 4 -0.5 5 -2 9 -5.5 6 0 1 -1 1 0 3 -1 1 0 3 -1 1 0 1 -0.5 0.5z"/><path fill="#004eff" d="M753 853.5l-73 0.5 -154-0.5 -12-0.5 -4-2 -8-2 -55-2.5 -126-1 -97-3 -24-3 -17-3 -10-5 -1.5-1.5 -0.5-2 0.5-2 0.5-0.5 20-1 23-1.5 10 0 43-2 23-2.5 44.5-3.5 42.5-5 69-11.5 40-7 39-8.5 50-15 46-15.5 23-12 12-3.5 11-3 16 0 6 0 3 1 11.5 6 16.5 10.5 8 6 7 6.5 4.5 5 5 8 4 8 3.5 8.5 9 35.5 -1 8 -4.5 5 0 1 -1 1 0 3 -1 1 0 3 -1 1 0 1 -0.5 0.5z"/><path fill="#0064ff" d="M753 853.5l-72 0.5 -151-0.5 -12-0.5 -4-2 -11-2.5 -55-2.5 -104-1 -46-0.5 -73-2 -24-3 -17-3.5 -11-5 -1.5-1 0-2 0.5-2.5 20-0.5 9-1 46-2 13 0 32-3 39-3 48-5.5 68-11 40-6.5 39-8.5 48-14 48-16 23-11.5 10-3 13-3.5 12 0.5 11 1 13.5 8 13.5 9.5 8 7 8 8 6 8 6 11.5 5 12 2.5 10 6.5 26 -4 4 0.5 1 -1 1 0 3 -1 1 0 3 -1 1 -0.5 1.5z"/><path fill="#007bff" d="M753 853.5l-71 0.5 -149-0.5 -11-0.5 -2-1.5 -4.5-1.5 -12.5-2.5 -55-2.5 -104 0 -112-2.5 -10-0.5 -10-1.5 -16-2 -12-2.5 -12-5.5 -0.5-2.5 0.5-2.5 10 0.5 28-2 52-1.5 29-3 40-3 49-5.5 66.5-10 41.5-7 38-8 35-9.5 61-20 24-11.5 15-4 6-1.5 3 0 16 1.5 4 0.5 3 1.5 10 7 16 13 8 8 7.5 9 5 8 5 10 4 11 3.5 12 4.5 20 -0.5 1 0 1 -1 1 0 3 -1 1 0 3 -0.5 1 -0.5 1.5z"/><path fill="#0091ff" d="M753 853l-71 1 -147-0.5 -9.5-0.5 -3-2 -5.5-1.5 -10-2.5 -6-0.5 -54-2 -103 0 -47-1 -73-2 -25-3 -15-3 -12-5.5 -0.5-2 0.5-2 13 0 25-1.5 52-2 29-2.5 40-3 59-6.5 57-8.5 41-6.5 38-8 35-9 61-20 24-11 12-3.5 11-2 15 2 5 1 3 1 10.5 8 14 13 7 7 5.5 7 5.5 8 4.5 7.5 3.5 8.5 4 10 3 11 5.5 21 -1 1 0 3 -1 1 0 1z"/><path fill="#00a7ff" d="M752 853l-70 1 -145-1 -7.5 0 -3-2 -6.5-2 -9-2 -9-1.5 -56-1.5 -103 0 -116-2.5 -11-1 -16-2 -16-3 -12-5.5 -0.5-2 0.5-2 13 0 26-1.5 51.5-1.5 28.5-3 40-2.5 59-6 56-8 41-6.5 39-7.5 34-9 62-20 24-10.5 12-3.5 7-1 4-0.5 14 2 6 1.5 3 1.5 11.5 10 15.5 16 6.5 8 5 7 4.5 7 3.5 7 3 8 6.5 20 3.5 16 1 4 -0.5 0z"/><path fill="#00beff" d="M749 853l-67 0.5 -142-0.5 -6.5 0 -3-2 -10.5-3.5 -9-1.5 -9-1.5 -56-1.5 -102 1 -112-2.5 -16-1 -27-4 -6-1.5 -11-5 -0.5-2 0.5-2 14 0.5 24-1.5 53-1.5 28-3 40-2.5 60-6 55-7.5 41-6 39-7.5 34-8.5 62-20 24-10.5 11-2.5 11-1.5 14 2 6 2 3 1 12 11 19 22.5 9 13.5 8 16 6.5 20 3.5 14 0 3z"/><path fill="#00d4ff" d="M746 853l-64 0.5 -141-0.5 -3.5 0 -1-1 -5-2 -11.5-3.5 -18-2.5 -56-1.5 -102 1 -110-2.5 -18-1 -26-3.5 -8-2 -10-5 -0.5-1.5 0.5-1.5 14 0 24-1 53-2 28-2.5 39-2.5 61-5.5 53.5-7 42.5-6.5 39-7 34-8 62-19.5 24-10.5 11-2.5 11-1.5 14 3 6 2 3 1.5 11 11 17.5 22 9.5 14 7 15 3.5 9 3.5 10.5 3 11.5 0.5 3 -0.5 0z"/><path fill="#00eaff" d="M743 853l-62 0.5 -138-0.5 -1.5 0 -3-2 -4.5-1.5 -11.5-3.5 -8.5-1.5 -11-1.5 -57-1 -102 1 -115-2.5 -16-1 -17-2 -9-2 -4-1 -11-5 -0.5-1.5 0.5-1.5 15 0.5 23-1.5 53-1.5 28-2.5 40-2.5 60-5.5 41-4.5 55-8 39-7 34-7.5 62-19.5 24-10 10-2.5 11-1 14 2.5 9 4 5.5 5 7.5 9 18.5 25 8.5 15 4.5 10 4.5 12 4 14 0.5 3 -0.5 0z"/><path fill="#02fffd" d="M740 853l-59 0.5 -135.5-0.5 -1-1 -4.5-2 -15-4.5 -9-1.5 -14-1.5 -56-1 -102 1.5 -111-2.5 -18-1 -24-3 -8-2 -11-5 -0.5-1.5 0.5-1 16 0 22-1.5 12 0 41-1.5 28-2.5 39-2 60-5 40-4.5 57-7.5 39-6.5 34-7.5 62-19.5 24-9.5 10-2.5 11-1 14 3.5 8 3.5 4 3.5 9 10.5 18 27 7.5 13 5 11 4.5 11 3 11 0.5 3 -0.5 0z"/><path fill="#18ffe7" d="M737 853l-56 0.5 -131.5-0.5 -3-2 -3.5-1.5 -15.5-4.5 -9.5-2 -15-1.5 -57-0.5 -102 1.5 -110-2 -19-1 -23-3 -9-2.5 -11-5 0-1 0-1 1 0 16 0 21-1 12 0 41-1.5 28-2.5 39-2 60-5 40-3.5 57-7.5 39-6.5 34-7.5 62-19 24-9 10-2.5 10-0.5 4 0.5 10 3 8 3.5 4 3 8 10 19 30 7 12 4.5 10 4.5 12 2.5 8 0 2 -0.5 0z"/><path fill="#2effd1" d="M734 853l-53 0.5 -126-0.5 -1.5-1 -11-4 -13.5-4 -10-1.5 -16-1.5 -57-0.5 -101 2 -111-2.5 -19-1 -22-2.5 -10-2.5 -11-5 0-1 0-0.5 2-0.5 15 0.5 21-1.5 12 0 41-1.5 28-2 39-2 60-4.5 40-3.5 57-7.5 39-6 34-7 44-13.5 18-5.5 23-8.5 10-2.5 10-0.5 4 0.5 5 1.5 7 2.5 4 2 6 4 5.5 7 7 10 20.5 35 5 11 4 11 1.5 5 0 2 -0.5 0z"/><path fill="#45ffba" d="M731 853l-50 0.5 -119.5-0.5 -4.5-2 -17-5.5 -9-2 -11-2 -17-1 -57-0.5 -101 2 -114-2 -17-1 -21-2.5 -10-2.5 -10.5-5 -0.5-1 3-0.5 14 0 21-1 12 0 41-1.5 28-2.5 39-2 100-7 57-7 39-6 34-6.5 44-13.5 18-5.5 23-8 10-2.5 10-0.5 6 1.5 12 4.5 7 4.5 3.5 4.5 9.5 14 19 34 4.5 10 4.5 11 0.5 4 0.5 1 -1 0z"/><path fill="#5bffa4" d="M728 853l-47 0.5 -113-0.5 -1.5-1 -5.5-2 -27-7 -14-2.5 -16-0.5 -58-0.5 -101 2 -112-2 -18-0.5 -21-2.5 -11-3 -10-4.5 -1-1 3-0.5 14 0 21-1 12 0 41-1.5 28-2 38-2 62-4 39-2.5 57-6.5 39-5.5 34-6.5 43-13.5 19-5 23-8.5 10-2 9-0.5 6 1.5 12 5 7 4.5 3 3 10.5 16.5 18 34 8 18 0.5 4 -1 0z"/><path fill="#71ff8e" d="M725 853l-44 0.5 -107-0.5 -4-2 -6.5-2 -27.5-7 -15-2 -16-1 -59 0.5 -101 2 -111-2 -19-1 -21-2.5 -11-2.5 -9.5-4.5 -0.5-1 17 0 20-1 12 0 41-1.5 28-2 38-2 38-2.5 54-2.5 24-2.5 43-4.5 38-5.5 34-6 43-13.5 20-5.5 22-7.5 10-2 8 0 6 1 11 4.5 6 3.5 5 4.5 11.5 18 17 35 6 13 0.5 4 -1 0z"/><path fill="#87ff78" d="M722 853l-41 0.5 -100.5-0.5 -4-2 -10.5-3 -24.5-6 -14.5-2 -14-1 -67 0 -101 2 -111-1.5 -19-1 -20-2 -12-3 -9-4.5 0.5-1 0.5 0 15 0 19-1 13 0 41-1.5 28-2 38-1.5 37-2.5 56-2 23-2 43-5 38-5 34-5.5 43-13.5 20-5.5 21-6.5 11-2.5 6 0 7 1 11.5 5 6.5 4 5 5 9 14 4.5 9 17.5 38 0.5 2 0.5 3 -1 0z"/><path fill="#9eff61" d="M719 853l-38 0.5 -88-0.5 -3-1 -10-2 -19-5.5 -18-3.5 -12-1.5 -13-1 -71 0 -102 2.5 -111-2 -19-0.5 -20-2.5 -12-2.5 -8.5-4.5 0.5-0.5 2-0.5 13 0 19-1 13 0.5 41-1.5 28-2 78-4 59-2 60-6 38-5 34-5.5 43-13 20-5 21-7 11-2 5 0 5 0.5 3 0.5 11 5.5 6.5 4 5.5 5.5 8 13.5 4.5 9 8.5 20 7.5 16 0.5 4 -1 0z"/><path fill="#b4ff4b" d="M717 853l-36 0.5 -75.5-0.5 -7.5-2 -18-3 -22-5.5 -20.5-3.5 -17.5-1.5 -73 0.5 -102 2.5 -108-1.5 -20-1 -19-1.5 -7-1.5 -8-2 -7.5-4 2.5-0.5 12 0 19-1 13 0 41-1.5 28-2 77-3.5 61-1.5 59-5.5 38-4.5 34-5.5 41-12.5 22-5.5 18-5.5 13-3 5 0 7 1 8 3.5 9 5 7 6.5 6.5 11 6 11 14 34 0.5 4z"/><path fill="#caff35" d="M714 853l-33 0.5 -63-0.5 -7-2 -31-5 -20-5 -19-2.5 -14-1 -17-0.5 -63 0.5 -102 3 -109-1.5 -21-1 -19-2 -13-3 -7-4 2-0.5 13 0 18-1 13 0 41-1 28-2 77-4 61-0.5 59-5 38-4.5 34-5 42-12.5 21-5.5 17-5 14-3 4 0 7 0.5 8 4 10 6 7 6.5 6.5 11.5 6 12 11 28 0.5 2 0 3z"/><path fill="#e1ff1e" d="M711 853l-78 0 -8.5-2 -43.5-7 -21-5 -26-2 -18-0.5 -69 1 -102 3 -109-2 -21-0.5 -19-2 -12.5-3 -6-3 -0.5-1 33-1.5 12 0.5 41-1.5 28-2 76-3.5 31 0 22 0.5 9 0 60-5.5 37-4 34-4.5 42-12.5 21-5.5 17-5 13-2.5 4 0 8 1 7 3 10 6.5 4 3 4 4.5 6.5 12 7 15 7 20 0.5 3 0 3z"/><path fill="#f7ff08" d="M708 853l-60 0 -8.5-2 -58.5-9.5 -19-3.5 -22-2 -21 0 -72 1 -102 3 -108-1.5 -22-1 -18-1.5 -13-3 -5.5-3 0.5-1 84-2 28-2 74-3.5 20 0 35 1 10 0 60-5 36-4 34-4 48-14.5 33-8.5 15-2 9 1 6 3 11 7 4 3.5 4 4.5 7.5 14.5 7 17 3.5 10 0 3 0 5z"/><path fill="#fff100" d="M705 853l-52 0 -2-2 -2-1 -49-7.5 -32-5.5 -10-1.5 -34-0.5 -77 1.5 -98 3.5 -52-0.5 -61-1 -22-1 -16-1.5 -5-1 -8-2 -6-3 2-0.5 18-1 15-0.5 8 0.5 13-1 28-0.5 28-2 75-3 18 0 36 1.5 10 0 60-4.5 36-3.5 34-4 49-14.5 32-8 15-2.5 9 1.5 6 3 11 7.5 7.5 7.5 2.5 4.5 4.5 9.5 7.5 19 1.5 5 0 9 -0.5 0z"/><path fill="#ffda00" d="M702 853l-45.5 0 -3-3 -4.5-2.5 -76-12 -13-1 -34 0 -80 1.5 -93 3.5 -53-0.5 -64-1 -22-0.5 -15-1.5 -6-1 -10-3 -3-2 19-1.5 15-0.5 8 0.5 13-1 28-0.5 28-1.5 74-3 18 0 37 2 10 0 64-4.5 66-6.5 50-15 31-7.5 15-2 9 2 6 3 11 7.5 7 7.5 5.5 10 7.5 19 0.5 5 0 10 -0.5 0z"/><path fill="#ffc400" d="M699 853l-39.5 0 -1-2 -2.5-2 -4-2.5 -3-1.5 -62-9.5 -14-2 -12-0.5 -115 2.5 -77 3.5 -26 0.5 -106-1.5 -22-1 -21.5-2 -10-3 -1.5-1 -0.5-1 26.5-1.5 14 0 13-0.5 28-0.5 28-2 73-3 18 0.5 37 2.5 11 0 67.5-4.5 62.5-6 50-14.5 30-7 16-2 9 2 7 3.5 10 7 7 8 4.5 9 6 15 0 8 0 9 -0.5 0z"/><path fill="#ffae00" d="M695 853l-32.5 0 -1.5-2.5 -4-4 -5-3 -3-1 -10-1.5 -28-5 -20-3 -30-2 -78 3 -52 1.5 -61 3 -26 0.5 -107-1 -22-1 -21-2 -7.5-2 -4-2 1-1 15.5-1 15-0.5 8 0.5 14-1 27-0.5 28-1.5 71-3 18 0.5 36 3 14 0.5 79-5.5 51-4.5 51-14.5 29-6.5 16-2 9 2 8 4.5 9 6.5 7 8.5 4.5 9.5 3.5 9 0 10 -1.5 9 -0.5 0z"/><path fill="#ff9700" d="M691 853l-25.5 0 -1.5-3 -5-5 -5-3.5 -5-2 -10-1 -29-5.5 -15-2.5 -34-2.5 -57 4 -73 3 -61 3.5 -25 0.5 -108-1.5 -22-0.5 -20.5-2 -7-2 -3.5-2 2.5-1 12.5-1 15-0.5 8 0.5 13-0.5 28-1 28-1.5 70-2.5 18 0.5 30 3 21 1 88-5.5 42-3.5 50-14.5 30-6.5 15-2 5 0.5 5 1.5 8 5 9 7 7 9 4 8 1.5 6 0 6 -0.5 5 -2 9 -1 0z"/><path fill="#ff8100" d="M688 853l-19 0 -4.5-6 -4.5-5 -4-3 -6-2 -12-2 -30-6.5 -36.5-4.5 -8.5-2 0.5-1 2.5-1 15-5 16.5-5 15.5-4 30-6.5 12-1.5 6 1 4 1.5 3 1.5 11 8 6 6 5 8 1.5 5 0.5 9 -1 7 -2.5 8 -0.5 0zM371 838l-28 1 -106-1.5 -15-1 -7 0 -19.5-1.5 -7.5-2 -2-1 -1-1 4-1 10-0.5 15-0.5 9 0.5 12-1 28-0.5 28-1.5 70-2.5 17 0.5 29 3.5 23 1 109-6 11.5 0 -8.5 2 -12.5 2 -29 3 -29.5 2 -40 2 -12 1 -48 3z"/><path fill="#ff6b00" d="M684 853l-9.5 0 -6.5-6.5 -6-7.5 -2-1.5 -3-2 -7-2 -10-1.5 -9.5-2 -26.5-8 -2-1 -0.5-1 -0.5-7 1-1 2-1 6-2 31-7.5 14-1.5 5 1 5 1.5 7 4.5 8.5 7 4.5 5.5 3 5.5 1.5 8 -0.5 6 -4 14 -1 0zM365 838l-21 0.5 -45-0.5 -63-1 -14-0.5 -7 0 -19-1.5 -7-2 -2-1 -0.5-1 12.5-1.5 15-0.5 9 0.5 12-1 28-0.5 28-1.5 70-2.5 15 1 23 3.5 30 2.5 -0.5 1 -10 2 -53.5 4z"/><path fill="#ff5400" d="M682 850l-1 0.5 -2-0.5 -6-4 -4-3.5 -6-8 -4-2.5 -8-2 -12-1.5 -7-2.5 -6.5-3 -1.5-2 -1.5-5 0-4 0.5-3 4.5-2 11.5-3 15-2 4 0.5 5 1.5 6 3 6 5 4 4 1.5 3 4.5 11 0.5 5 0 5 -1.5 5.5 -2 4.5zM359 838l-16 0.5 -108-1.5 -12-1 -9 0.5 -16-1.5 -5.5-1 -4.5-2 0.5-1 10.5-1.5 15-0.5 9 1 12-1 28-0.5 28-1.5 69-2.5 16 1 7 1.5 8 2 21 2 3 1 -2.5 1 -5.5 1 -9 1 -20.5 2 -18.5 1z"/><path fill="#ff3e00" d="M679 842l-2 0 -3-2 -6.5-9 -5.5-4 -4-1 -14-2 -3.5-1 -1.5-1 -2.5-3 -2-4 0-4 1.5-3 4.5-2 14.5-2 8 2 2 1 3 2 2.5 2 1 2 2.5 9 5 7.5 2 4.5 0.5 3 -0.5 3 -1 1.5 -1 0.5zM351 838l-114-1 -15-1 -8 0 -16-1 -5-1 -4-2 1-1 9-1 15-0.5 8 0.5 14-1 27-0.5 81-3.5 15 0 15 1 6 1 10 3 10 2 -0.5 1 -17 3 -11.5 1 -20 1z"/><path fill="#ff2800" d="M367 837l-24 1 -107-1.5 -13-1 -8 0.5 -16-1 -5-1 -2.5-1 -1.5-1 2-1 7-1 16-0.5 7 1 14-1 28-0.5 80-3.5 14 0 10.5 0.5 6.5 1 10 3 4 2 0 1 -2 1 -3 1 -17 2z"/><path fill="#ff1200" d="M361 837l-18 0.5 -107-1 -13-1.5 -8 0.5 -16-1 -4-0.5 -2.5-1 -1-1 2-1 6.5-1 15 0 8 1 12-1.5 28-0.5 84-3 14 0 9.5 1 9.5 3 4 2 0 1 -1.5 1 -3.5 1 -5.5 1 -12.5 1z"/><path fill="#fa0000" d="M355 837l-13 0.5 -106-1.5 -10-1 -4-1 -2.5 1 -4.5 0.5 -16-1 -3.5-0.5 -2-1 -0.5-1 2-1 4-0.5 16-0.5 7 2 13-2 28-0.5 82-3.5 14 0.5 7 1 7 1.5 5 2 1 1 0 1 -1.5 1 -3 1 -6 1 -13.5 1z"/><path fill="#e40000" d="M347 837l-111-1 -7-1 -3.5-1 -1-1 1-1 3.5-1 7-1 28-0.5 80-3 13 0.5 7 1 7 2 3 2 0 1 -1.5 1 -3 1 -7 1 -15.5 1zM217 835l-4 0 -15-1 -3.5-1 -0.5-1 4-1 16-0.5 4 0.5 2 1 0.5 1 -0.5 1 -3 1z"/><path fill="#ce0000" d="M356 836l-13 1 -107-1.5 -4-0.5 -3.5-1 -1-1 1-1 3-1 4.5-0.5 29-0.5 79-3 16 1.5 5.5 1.5 3.5 2 0 1 -1.5 1 -4 1 -7.5 1zM218 834l-4 1 -16-1 -2.5-1 0-1 3.5-1 16 0 3.5 1 0.5 1 -1 1z"/><path fill="#b70000" d="M349 836l-44 0 -69-1 -4.5-1 -1-1 1-1 4.5-1 27-0.5 81-2.5 12 1 3.5 1 3 2 0 1 -1.5 1 -3.5 1 -8.5 1zM216 834l-12.5 0 -6.5-1 0-1 2-0.5 15-0.5 3 1 0.5 1 -1.5 1z"/><path fill="#a10000" d="M351 835l-8 1 -65.5-1 -41.5-1 -1.5 0 -1-1 1-1 1.5 0 108-3.5 8.5 1.5 3.5 2 0 1 -1.5 1 -3.5 1zM215 833.5l-2 0 -14-0.5 5-1 10 0 1.5 1 -0.5 0.5z"/><path fill="#8b0000" d="M344 835l-53-1 -18-1 11-1 59-2 3 0.5 3.5 1.5 0 1 -1 1 -4.5 1z"/></g></g></g><g clip-path="url(#clip_bb)"><g clip-path="url(#mask_bb)"><g filter="url(#softf)"><rect x="160" y="843" width="580" height="170" fill="#000bff"/><path fill="#0021ff" d="M677 997l-3 0.5 -8 0 -20-2 -21-8 -6-3 -70-40.5 -35-10.5 -34-12 -110-19.5 -43-9.5 -29-4.5 -1-0.5 -5-0.5 -1-0.5 -5-0.5 -1-0.5 -16-1.5 -1-0.5 -8-0.5 -1-0.5 -9-0.5 -1-0.5 -8-0.5 -1-0.5 -8-0.5 -1-0.5 -13-0.5 -1-0.5 -17 0 -1-1 -17 0 -1-0.5 -9 0 -1-1 0-2 3-2 2 0 1-1 3 0 1-1 2 0 1-1 2 0 1-1 2 0 1-1 3 0 1-1 2 0 1-1 2 0 1-1 2 0 1-1 3 0 1-1 2 0 1-1 5 0 1-0.5 7-0.5 1-0.5 7 0 1-1 25 0 1-1 41 0 1-1 36 0 1-1 99.5-1.5 10.5-0.5 8-1 13 0 198-0.5 62 0.5 0.5 0.5 0 1 -1.5 3 0 2 -2 3 0 1 -1 1 0 2 -2 3 0 17 1 1 0 1 1 1 0 1 2 2 0 1 1.5 3 0 4 1 1 0 8 0.5 1 -1 5 -4 26 -3.5 19 -2.5 6 -6 12 -3 3.5 -9.5 8.5 -2.5 1.5 -20 5.5z"/><path fill="#0038ff" d="M667 994l-22-2.5 -22-8 -40-22 -34-20 -35-10 -34-11.5 -110-19.5 -40-8.5 -31-5 -20-3 -53-5 -27-1.5 -17-0.5 -1-0.5 -9 0.5 -1-1 0-2 3-2 2 0 1-0.5 3-0.5 1-1 2 0 1-1 2 0 1-1 2 0 1-1 3 0 1-1 2 0 1-1 2 0 1-0.5 2-0.5 1-0.5 3-0.5 1-0.5 2 0 1-1 5 0 1-1 7 0 1-0.5 13-1 122-3 77.5-1 11.5-0.5 12-1.5 26-0.5 214-0.5 28 0.5 0.5 1.5 -2 3 0 2 -2 3 0 1 -1 1 0 2 -2 3 0 17 1 1 0 1 1 1 0 1 2 2 0 1 2 3 0 4 1 1 -0.5 7.5 -1 3.5 -7 39 -1.5 6 -3 7 -3.5 7 -2 3 -12 12.5 -22 6.5 -9 1z"/><path fill="#004eff" d="M669 990l-5 0.5 -19-2.5 -22-7.5 -40-21.5 -34-20 -35-9.5 -34-11.5 -110-18.5 -40.5-8.5 -47.5-7 -57-5.5 -24-1.5 -29-0.5 -0.5-0.5 0-2 2.5-1.5 2 0 1-1 3-0.5 1-0.5 2-0.5 1-0.5 2-0.5 1-0.5 2-0.5 1-0.5 3-0.5 1-0.5 2-0.5 1-0.5 2 0 1-1 2 0 1-1 3 0 1-1 2 0 1-1 28-2.5 92-2 116-1.5 15-1.5 7-1 24-0.5 209-0.5 19 0.5 8 0.5 -1 3 -0.5 1 0 2 -2 3 0 1 -1 1 0 2 -2 3 0 17 1 1 0 1 1 1 0 1 2 2 0 1 1.5 3 0 9 -7.5 39 -2.5 8 -3.5 10 -2.5 4.5 -2 3 -11 12 -18 6 -11 2.5z"/><path fill="#0064ff" d="M670 986l-5 1 -19-2 -23-7.5 -40-21 -34-20 -35-9 -34-11 -110-18 -41-8.5 -43-6 -60-6 -36-1.5 -18 0 -0.5-0.5 0-2 2.5-1.5 2 0 1-1 3-0.5 1-0.5 2-0.5 1-0.5 2-0.5 1-0.5 2 0 1-1 3-0.5 1-0.5 2 0 1-1 2 0 1-1 2 0 1-0.5 3-0.5 1-1 2 0 1-0.5 29-2.5 95-2 112-1 17-1.5 13.5-2 19.5-0.5 204-0.5 19 0.5 7.5 0.5 0 3 -0.5 1 0 2 -1.5 3 0 1 -1 1 0 2 -2 3 0 17 1 1 0 1 1 1 0 1 1.5 2 0 1 1 1 -0.5 11 -6.5 32.5 -2.5 9.5 -4 10 -3.5 7 -6.5 8 -4.5 4.5 -28 9.5z"/><path fill="#007bff" d="M668 983l-4 0.5 -19-2 -22-7 -40-20.5 -23-13.5 -11-6 -9-3 -26-6 -34-10.5 -110-17.5 -40-8 -47.5-6.5 -56.5-5.5 -36-1.5 -18 0.5 -0.5-0.5 0-2 2.5-1.5 6-1 1-1 2 0 1-1 2 0 1-1 2 0 1-1 3 0 1-1 2 0 1-1 2 0 1-0.5 6-1.5 1-0.5 3-1 27-2 98-2 112-1 25.5-2 7.5-1 3-1 16-0.5 169-0.5 45 0.5 12.5 0.5 -0.5 8 -2 3 0 2 -1.5 3 0 17 1 1 0 1 0.5 1 0 1 1.5 2 -0.5 14 -6 27.5 -3.5 11.5 -3 8 -1.5 3.5 -3 4.5 -9 11 -22 7.5 -8 3.5z"/><path fill="#0091ff" d="M666 980l-10-0.5 -11-1.5 -22-6.5 -40-20 -23-13.5 -11-6 -9-2.5 -26-6.5 -34-9.5 -80-12.5 -30-4.5 -41-7.5 -47-6.5 -57-5 -33-1.5 -20 0.5 -0.5-2.5 2.5-1.5 6-1 1-1 2 0 1-1 2 0 1-1 6-1 1-1 2 0 1-1 9-2 1-0.5 7-1 23-1.5 129-2.5 81-0.5 32-2 6.5-1.5 2.5-1 14-0.5 166-0.5 44 0.5 12 0.5 -1 13 -2 3 0 17 2 3 -0.5 17 -6 26 -5.5 17 -5.5 9 -7.5 9.5 -5 2 -17 6 -7 3.5 -3 1z"/><path fill="#00a7ff" d="M668 976l-2 1 -2 0 -9-1 -9-1 -23-6.5 -6-2.5 -34-17 -23-13.5 -11-6 -9-2.5 -26-6 -34-9.5 -80-12 -31-4 -40-7 -47-6.5 -57.5-5 -32.5-1.5 -20 0.5 -0.5-2 2.5-1 6-1.5 1-1 2 0 1-1 2 0 1-1 6-1 1-1 2 0 1-0.5 10-2.5 7-1 23-2 123-2 87 0 32-2 7.5-1.5 6.5-2 12 0 162-1 45 0.5 11 0.5 -1.5 10 0.5 5 -1 1 0 17 1 1 -0.5 4 0 15 -6 23 -5 15 -5 9 -7.5 9.5 -6 3 -16 6 -8 4.5z"/><path fill="#00beff" d="M667 973l-2 0.5 -9-0.5 -11-1.5 -22-6 -6-2.5 -34-16.5 -23-13.5 -11-5.5 -9-2.5 -26-6 -34-9 -79-11.5 -32-3.5 -40-7 -47-6.5 -56-4.5 -33-1.5 -21 0.5 0-2 2-1 6-1.5 1-1 2 0 1-1 2 0 4-1.5 19-5 28-2 126-2.5 85 0.5 32-2 12-2 6-2 9 0 160-1 44 0.5 11 0.5 -2 11 0 42 -5.5 21 -4.5 13 -6 10 -6 8 -6 3 -16 6 -9 6z"/><path fill="#00d4ff" d="M666 970l-10 0 -11-1.5 -23-6.5 -39-18 -23-13.5 -11-5.5 -9-2.5 -26-5.5 -34-8.5 -79-11 -31-3.5 -41-7 -47-5.5 -57-5 -32-1 -20 0.5 -1 0 0-2 2-1 6-1.5 1-0.5 2-0.5 1-0.5 2-0.5 1-0.5 6-1.5 1-0.5 15-3.5 27-2.5 129-2 84 0.5 31.5-1.5 15.5-2.5 7.5-2.5 5.5 0 158-1 43 0.5 11 0.5 -2 11 -0.5 42 -5 19 -3.5 10 -5.5 10 -6.5 9 -6 3 -16 6 -7 5.5 -3 1.5z"/><path fill="#00eaff" d="M666 967l-10 0 -11-1.5 -23-6 -39-17.5 -23-14 -11-5 -9-3 -26-5 -34-8.5 -79-10 -31-3.5 -40-6 -48-6 -57-4.5 -31-1.5 -20 0.5 -2 0 0-1.5 22-7 15-3.5 27-2 121-2 27 0 46 0.5 26.5 0 26.5-1.5 15-2.5 7-1.5 3.5-1.5 2.5 0 156-0.5 42 0 11 0.5 -2.5 11 0 43 -5.5 17.5 -2.5 6.5 -5.5 10 -6 8.5 -6 3 -16 7 -7 5.5 -3 2z"/><path fill="#02fffd" d="M665 964l-10-0.5 -10-1.5 -26-6.5 -36-16 -23-14 -12-5.5 -8-2 -26-5 -34-8 -50-6.5 -30-3.5 -31-2.5 -40-6.5 -47-5.5 -56-4.5 -31-1 -20 0.5 -3-0.5 0-0.5 0.5-0.5 14.5-5 7-2 12-2.5 6-1 24-2 120-2 28 0 47 1 33 0 16-0.5 13-2 14-2.5 6.5-2.5 72.5-0.5 80 0 41 0 12 0.5 -2.5 10 -0.5 44 -4.5 15 -2.5 5.5 -6 10.5 -5 7.5 -6 3 -16 7 -8 7 -3 1.5z"/><path fill="#18ffe7" d="M664 961l-9-0.5 -10-1.5 -22-5 -5-1.5 -35-15.5 -23-13.5 -12-5.5 -8-2.5 -26-4.5 -34-7.5 -50-6.5 -30-3 -31-2.5 -40-6 -48-5.5 -55-4 -30-1.5 -18 1 -5.5-0.5 0.5-1 8-3 16-4.5 14-3 25-1.5 120-2 28 0 48 1.5 39-0.5 12-0.5 17-2.5 13-3 5.5-2 147.5-0.5 52 0.5 -3 10 0 44 -6 16.5 -6 10.5 -5 7.5 -6 3 -16 7 -8 8 -2 1.5 -2 0z"/><path fill="#2effd1" d="M667 957l-2 1 -10 0 -11-2 -22-5 -5-1.5 -34-14.5 -23-14 -11-5 -9-2.5 -26-4.5 -34-7 -50-6 -30-3 -31-2 -40-6 -47-5 -56-4.5 -31-1 -20 0.5 -1.5 0 0.5-1 7-3 13-3.5 15-3.5 27-2 127-2 23 0.5 45 1 35 0 16-0.5 19-2 15-3 5-1.5 2.5-1.5 142.5-0.5 51 0.5 -3 10 -0.5 44 -4.5 12 -6.5 12 -4.5 6.5 -7 4 -15 6.5 -9 9z"/><path fill="#45ffba" d="M665 955l-10 0 -10-1.5 -22-5 -5-1.5 -35-14.5 -23-14 -12-5 -8-2.5 -26-4 -34-7 -50-5.5 -30-2.5 -31-2 -40-5.5 -48-5 -55-4 -30-1 -18 0.5 -3-0.5 -0.5-0.5 6.5-2.5 11-3.5 17-3.5 27-2 128-2 22 0 45 1.5 44 0 17-1 15.5-2 12.5-2.5 7-2.5 1.5-1 137.5-0.5 50 0.5 -3 8 -0.5 2 0 44 -3.5 8.5 -6.5 11.5 -4.5 6.5 -7 4 -15 7 -8 9 -3 1.5z"/><path fill="#5bffa4" d="M665 952l-10 0 -10-1.5 -27-6 -35-14.5 -23-14 -12-5 -9-2 -25-4 -34-6.5 -50-5.5 -61-3.5 -40-5.5 -48-5 -55-3.5 -30-1.5 -17 1 -3.5-1 5.5-2.5 11-3.5 17-3.5 27-2 131-1.5 20 0 44 1.5 48 0 19-1 16-2.5 12.5-3 7-3 132.5-0.5 49 0.5 -3.5 9 -0.5 44 0 2 -1 2.5 -8 13.5 -4 6 -7 4 -15 7 -8 9.5 -3 1.5z"/><path fill="#71ff8e" d="M665 949.5l-10 0 -10-2 -27-5.5 -35-14 -23-14 -13-5.5 -8-2 -25-3.5 -34-6 -51-5.5 -60-3 -40-5 -48-4.5 -55-4 -30-1 -17 0.5 -3-0.5 7-3 9.5-3 6.5-1.5 12-2 25-2 107-1.5 30 0 57 2 50 0.5 20-1.5 17-2 14-4 7.5-3 127.5-0.5 48 0.5 -3.5 7 -0.5 2 0 44 -1 3 -11 17.5 -7 4 -15 7 -8 10 -2 1.5 -1 0.5z"/><path fill="#87ff78" d="M666 946l-2 0.5 -9 0 -12-2 -25-5 -34-13.5 -8-4.5 -16-10 -11-4.5 -7-2 -28-4 -33-5.5 -52-5 -60-2.5 -40-4.5 -48-5 -55-3.5 -29-1 -17 0.5 -3-0.5 1-1 5-2 10-3 6-1.5 12-2 25-1.5 107-1.5 33 0 54 2 50 0.5 21-1 18-2.5 14.5-3.5 6-2 4-2 122.5-0.5 46.5 0.5 -4 7 -0.5 2 0 44 -0.5 3 -9.5 14.5 -7 4 -15 7 -2 2 -5 7 -3 2.5z"/><path fill="#9eff61" d="M666 943.5l-2 0.5 -9 0 -12-2 -25-5 -34-13 -8-4.5 -16-10 -11-4.5 -7-2 -28-4 -33-5 -52-5 -61-1.5 -39-4.5 -52.5-5 -50.5-3 -29-1.5 -17 1 -2.5-0.5 1-1 5-2 9.5-3 6-1 12-2.5 25-1.5 107-1.5 33 0 54 2.5 51 0.5 22-1 17-2 18-4 6.5-2.5 4-2 117.5-0.5 45.5 0.5 -4 6 -1 3 -0.5 44 0 3 -8 11 -7 4 -15 7.5 -2 2 -5.5 7.5 -2.5 2.5z"/><path fill="#b4ff4b" d="M665 941l-10 0.5 -37-7 -35-13 -24-15 -10-4 -10-2.5 -25-3 -34-5 -50-4.5 -10-0.5 -35 0 -15 0 -25-2.5 -16-2 -48-4.5 -56-3.5 -28-1 -18.5 0.5 0.5-1 6-2.5 8-2.5 7-1.5 11-1.5 25-1.5 107-1.5 34 0 53 2 54 1 23.5-1 15.5-1.5 17-4 9.5-3.5 4-2 112.5-0.5 43.5 0.5 -4.5 6 -0.5 2 0 46 -0.5 2 -5 7 -2 2 -22 11 -7 10 -2 2 -1 0z"/><path fill="#caff35" d="M666 938l-2 0.5 -9 0.5 -37-7 -35-13 -24-14.5 -10-4 -10-2.5 -25-3 -34-4.5 -50-4.5 -10 0 -32 0.5 -19-0.5 -88-8 -56-3.5 -29-1 -16 0.5 -0.5-1 13.5-4.5 16-3.5 27-1.5 107-1.5 34 0 54 2.5 59 1 25-1 14-2 12-3 13.5-4.5 4-2 107.5-0.5 41.5 0.5 -3.5 5 -1.5 3 0 46 -0.5 3 -5 5.5 -21 10 -2 2 -6 8.5 -2 2z"/><path fill="#e1ff1e" d="M665 936l-10 0.5 -37-7 -34-12 -8-4.5 -16-10.5 -11-4 -10-2.5 -25-3 -34-4.5 -50-3.5 -10-0.5 -30 1 -21 0 -88-8 -55-3 -29-1 -15 0.5 -2-1 4.5-2 8.5-2.5 16-3 27-2 107-1 34 0 54 2.5 48 1 17 0 24-1 16-2.5 6-1.5 15-5 3-1.5 2-1.5 104-0.5 39.5 0.5 -3.5 5 -1.5 3 0 46 -0.5 3 -3 3 -21 10 -2 2 -6 8.5 -2 2 -1 0.5z"/><path fill="#f7ff08" d="M657 934l-13-2 -27-5 -34-12 -24-15 -10-3.5 -10-3 -25-2.5 -34-4 -50-3.5 -10 0 -33 1.5 -18 0 -88-8 -55-3 -29-1 -14 0.5 -2.5-0.5 4.5-2 8-2.5 16-3 27-1.5 107-1.5 34 0 55 3 48 1 24 0 19-1 17-2.5 19-6 3.5-2 2-2 101.5-0.5 37.5 0.5 -4 5 -1 3 0 47 -0.5 2 -3 2 -19 8.5 -2 2 -6 8.5 -2 2 -2 0.5 -7 0.5z"/><path fill="#fff100" d="M665 931.5l-10 0 -38-6.5 -34-12.5 -24-15 -10-3.5 -10-2.5 -59-6 -50-3.5 -10 0 -33 2.5 -18 0 -88-7.5 -55-3 -28-1 -14 0.5 -3-0.5 4.5-2 7.5-2.5 10-2 8-1 24-1.5 108-1.5 33 0.5 53 2.5 27 1 25 0.5 30 0 17.5-1 13.5-2 18-5.5 5.5-3.5 2-2 98.5-0.5 35.5 0.5 -1.5 2 -4.5 3 -1 2 0 48 -0.5 2 -3 2 -15 6 -2 2 -6 9 -2 2 -1 0.5z"/><path fill="#ffda00" d="M664 929l-9 0.5 -38-7 -34-12 -24-15 -10-3.5 -10-2.5 -59-5.5 -50-3.5 -11 0 -33 3.5 -17 0 -21-1.5 -19-2 -48-3.5 -55-3 -29-1 -15 0 4-2 7-2 10-2.5 8-1 26-1.5 106-1 33 0 54 3 42 1.5 21 0 28 0 18.5-1.5 12.5-3 9-3 7-5 2-2 96-0.5 30 0.5 -5 2.5 -1.5 1.5 -0.5 2 -0.5 51 -2 2 -11.5 5 -8 11 -1 0.5 -2 0.5z"/><path fill="#ffc400" d="M663 927l-8 0.5 -38-7 -34-12 -24-15 -10-3.5 -10-2.5 -58-5 -51-3 -11 0 -18 1.5 -14.5 2 -17.5 0.5 -18-1 -22-2.5 -48-3.5 -56-3 -28-1 -14 0.5 1-1 5.5-2 13.5-3 8-1.5 26-1 106-1.5 33 0.5 16 0.5 38 2.5 50 2 47-0.5 14-1 9.5-2 8.5-2.5 8-5 5.5-4.5 93.5-0.5 14.5 0.5 2 4 0.5 3 0 50 0 1 -1.5 1 -6.5 3 -7 9.5 -2 2 -3 0.5z"/><path fill="#ffae00" d="M662 925l-7 0.5 -38-7 -34-12 -24-15 -10-3.5 -10-2.5 -58-5 -51-2.5 -10 0 -8 0.5 -31 4 -17 0.5 -83-6.5 -55-3 -29-1 -11 0.5 -1-0.5 -0.5-0.5 12.5-4 15-2.5 25-1 83-1 61 0 50 3.5 50 2 52-0.5 7 0 5-1 14.5-3.5 9.5-5.5 4.5-3.5 2-2 103 0 -1 24 -0.5 34 -10 12.5 -2 1 -3 0.5z"/><path fill="#ff9700" d="M662 923l-7 0.5 -38-7 -34-12 -24-15.5 -10-3 -10-2.5 -58-4.5 -51-2.5 -11 0.5 -13 1 -6 0.5 -11.5 2.5 -8.5 1 -18 0.5 -81-6.5 -55-2.5 -29-1 -10 0 -2-0.5 8.5-3 10-2 7.5-1 17-1 115-1.5 39 0.5 48 4 51 2 57-0.5 12-1.5 10-2.5 9.5-5.5 7-5 1.5-2 99.5 0 -1.5 6.5 -1.5 14.5 0 38 -1.5 2 -6 7.5 -2 1.5 -3 0z"/><path fill="#ff8100" d="M664 921l-9 0.5 -38-7 -34-11.5 -24-16 -20-5.5 -58-4 -51-2.5 -12 0.5 -16 1.5 -13.5 3 -10.5 1.5 -16 0.5 -81-6 -55-3 -40.5-1 5.5-2 7.5-2 14.5-2 24-1 107-1.5 42 1 44 4 51 3.5 58-0.5 22-4.5 10-6 8-6 2-2 95 0 -1 6 -2 16 0 37 -1 2 -5 5.5 -1 1 -2 0.5z"/><path fill="#ff6b00" d="M665 919l-10 1 -37-7 -35-12 -7-4.5 -15-10 -3-1.5 -19-5.5 -22-1.5 -13-2 13-1.5 22-0.5 10.5-3 10.5-2 5-2 6-3.5 9-7 3.5-3.5 91.5 0 -1 5.5 -2 17.5 -0.5 36 -0.5 2 -3 3 -3 2zM376 881l-17 0.5 -78-6 -56-2.5 -38-1 1-0.5 0.5-0.5 3-1 7.5-2 15-2 23-1 108-1 43.5 1 28 3 14.5 2.5 17 1.5 7 1 1 1 -26-0.5 -24 1.5 -6 0.5 -12 3.5 -12 2z"/><path fill="#ff5400" d="M660 918l-6 0 -36-6.5 -27-9 -9-4 -22-14.5 -12.5-4 -2.5-1 -1-1 1-2 3.5-2 12.5-3.5 9-4 8-6 6.5-5.5 1.5-2 88 0 -3.5 23 0 36 -1 2 -3.5 3.5 -6 0.5zM377 880l-9 1 -9 0 -77-5.5 -56-2.5 -35-1.5 -2-0.5 6-2 11-2 6-0.5 22-1.5 110-1 42 1 23 3 6 1 6.5 2 0.5 1 -3 0.5 -19 1.5 -13 4 -10 2z"/><path fill="#ff3e00" d="M665 916.5l-11 0.5 -35-7 -28-9.5 -9-3.5 -21-14.5 -7-2.5 -1.5-1 -0.5-1 0.5-1 2.5-2 14-6 5-3 11.5-9 3.5-4 84.5 0 -1.5 10 -2.5 13 0 36 -1.5 2.5 -3 2zM370 880l-9 0.5 -10.5-0.5 -68.5-5 -89-3.5 -3-0.5 6-2 11-2 22-1.5 115-1 33.5 0.5 12.5 1 16 3 3 1 0.5 1 -10.5 1.5 -20 6.5 -9 1z"/><path fill="#ff2800" d="M665 915l-11 0.5 -35-7 -28-9.5 -8-3 -6-4 -16.5-12 -1-1 0.5-1 4-4 10-5 4-3 9-7.5 4.5-5.5 81 0 -1 10 -2.5 9 -1 4 0 36 -1 2 -2 1zM649 869l0.5-2 0-2 -0.5-2 -1-0.5 -1 0.5 -0.5 1 0 3 0.5 2 1 0.5 1-0.5zM371 879l-11 1 -12-0.5 -67-4.5 -89.5-4 1.5-1 8-2 10-1.5 18-0.5 114-1.5 24 0.5 18.5 1 10.5 2 2 1 0.5 1 -1 1 -16.5 6 -10 2z"/><path fill="#ff1200" d="M664 914l-10 0.5 -35-7.5 -29-9.5 -8-3.5 -12.5-9 -2.5-3 0.5-4 2-3 9.5-6.5 8-6.5 5-5.5 2-3.5 78 0 -1.5 9 -3 10 -0.5 5 0 28 -0.5 7 -0.5 1.5 -2 0.5zM649 874l1.5-1 1-2 0.5-3 0-3 -1-5 -1-1.5 -2-1 -2 1 -1 1.5 -1 3 0 4 0 3 1.5 3 1.5 1 2 0zM363 879l-18 0 -63-4.5 -81-3 -6.5-0.5 -0.5-1 8-2 7.5-1 20.5-1 113-1 37 1 7.5 1 3.5 1 2 1 0.5 1 -1.5 1 -15 6 -6 1 -8 1zM623 882l2-1 1.5-2 0.5-5 -0.5-3 -1.5-3 -1-1.5 -2-0.5 -2 1 -1 1.5 -1 2.5 -0.5 4 0.5 2.5 1 2.5 2 2 2 0z"/><path fill="#fa0000" d="M661 913l-7 0.5 -35-7.5 -12-4.5 -14-4 -8-3.5 -5-3 -4.5-4 0-2 0-5 1.5-5 3.5-4 8.5-6.5 4-5.5 3.5-6 48.5 0 -2 4 -1.5 4 -0.5 4 0.5 5 1 4 1.5 3 2 1.5 3 0.5 2-1.5 2-2.5 1.5-4 0.5-3 -0.5-5 -1-4 -3-6 20.5 0 -1 8 -0.5 3 -3.5 7.5 -3 4.5 -0.5 2 0.5 11 2 10.5 0.5 6.5 -0.5 4 -1 2 -3 1zM635 889l2-2 1-2 0-3 -0.5-2 -1.5-1.5 -4-2.5 -0.5-1 -3-9 -2.5-4 -2-1.5 -3 0 -2 1.5 -1 1 -3 8 -0.5 6 1.5 5 2 3.5 2 1.5 2 0.5 5-0.5 5 2.5 3-0.5zM364 878l-5 0.5 -15 0 -62-4 -81-3.5 -4-0.5 -1.5-0.5 2.5-1 5-1 8-1 21-1 110-1 35 1.5 5 0.5 4 1 1.5 1 0.5 1 -1.5 1 -9 4 -7 2 -6.5 1z"/><path fill="#e40000" d="M608 899l-3.5 0 -5.5-1 -6.5-2 -8.5-4 -1-1 -1-2 0.5-5 1.5-4 8-6 0.5-2 0-4 0.5-3 2-5 4-7 13.5 0 2.5 4 0 3 -1 4 -4.5 13 0.5 2 3.5 9 0 5 -1.5 3.5 -2 1.5 -2 1zM666 867.5l-1 0.5 -1-0.5 -2.5-3.5 -3-11 11.5 0 -1 9 -1 2.5 -2 3zM364 877l-6 0.5 -14 0 -64-3.5 -76.5-3 -6.5-1 2-1 12-1.5 24-1.5 102-0.5 25.5 0.5 12.5 1 5.5 1 2 1 0 1 -4.5 2.5 -9.5 3.5 -4.5 1zM658 912l-3 0.5 -4-0.5 -17.5-4 -9.5-3 -2.5-2 -1-3 0.5-2 1.5-2 2.5-2.5 2-0.5 5-0.5 3-0.5 3-2 5-4.5 3 0 7 1.5 2 1.5 2.5 5.5 3.5 6 1 3 0.5 3 -1 2 -1.5 3 -2 1z"/><path fill="#ce0000" d="M666 864.5l-1 0 -1.5-2.5 -0.5-3 0-3 1-3 4.5 0 0.5 3 -0.5 4 -1 3 -1.5 1.5zM605 871l-3 0 -2-1 -2-2 -1-3 0.5-4 2-4 1.5-2 3-1 3 1 2 1 1.5 2 1 3 -0.5 4 -1.5 3 -2.5 2.5 -2 0.5zM352 877l-9 0 -61-3.5 -69.5-2.5 -13.5-1 1.5-1 6.5-1 28-1.5 108-1 24 1.5 6.5 1 3 1 0 1 -3.5 2 -10 4 -11 1zM599 895l-3 0 -4-1.5 -2-2 -1.5-2.5 0-2 1.5-2.5 2-2 3-1.5 4-0.5 3 1 3 1.5 2 3 0 3 -1.5 3 -2.5 2 -4 1zM655 910.5l-4-0.5 -7-2.5 -7-1.5 -2.5-1 -3.5-3 -0.5-2 0.5-2 2-2 8-4.5 3-0.5 3 1 8 5.5 3.5 4.5 1 3 -1 2 -1.5 2 -2 1.5z"/><path fill="#b70000" d="M666 861.5l-1-1 -0.5-2.5 0.5-1.5 1-1.5 1 0.5 0.5 2.5 -0.5 2.5 -1 1zM605 866.5l-2 0 -1-0.5 -1-1 -1-2 1-3 1-1.5 2-0.5 2.5 1 1.5 2 -0.5 3 -1.5 2 -1 0.5zM351 876l-8 0.5 -57-3 -83-3.5 0-1 7.5-1 19.5-1 113-1 15 1 7 1 3 1 0.5 1 -2.5 2 -6 3 -9 1zM599 890l-2 0 -1-0.5 -1-1.5 0.5-1 1.5-1 2 0 1 0.5 1 1.5 -0.5 1 -1.5 1zM646 901l-3 0.5 -3-0.5 -1.5-1 0-1 0-1 2.5-1.5 2 0 1 0.5 2 2 1 2 -1 0zM654 906.5l-2-0.5 -1.5-1 -2.5-3 2-1 4 1 1.5 2 -0.5 1.5 -1 1z"/><path fill="#a10000" d="M348 875l-5 0.5 -61-3 -50.5-1.5 -17.5-1 -4.5-1 9-1 17.5-1 107-0.5 13.5 1.5 3 1 1 1 -0.5 1 -3.5 2 -8.5 2z"/><path fill="#8b0000" d="M346 873.5l-3 0 -61-2 -53-1.5 -7.5-1 6.5-1 7 0 108-0.5 5 0.5 3 1 1 1 -1 1 -1.5 1 -3.5 1.5z"/></g></g></g><g clip-path="url(#clip_ct)"><g clip-path="url(#mask_ct)"><g filter="url(#softf)"><rect x="160" y="1283" width="642" height="149" fill="#000bff"/><path fill="#0021ff" d="M773 1422l-59 0.5 -48-0.5 -3-3 -2.5-1 -4.5-0.5 -3.5 0.5 -2 1 -1 1 -0.5 2 -6 0.5 -106 0 -12-0.5 -1.5 0 -2.5-1.5 -3-0.5 -27-1.5 -37-2.5 -85-1 -26 0 -75-0.5 -22-1.5 -1-0.5 -14-0.5 -1-0.5 -15-0.5 -1-0.5 -14-0.5 -8-1 -5-1.5 -1-1 -2 0 -3-2 -2 0 -3-1.5 -1 0 -1-1 -1 0 -1-1 0-3 0.5-1 0.5-0.5 17-2 1-0.5 63-6.5 57-9.5 34-6.5 54-7.5 47-8 33-6.5 47-15 45-12.5 23-12.5 20-8.5 15-4 22-0.5 2 0.5 9 4 33 0.5 2 0.5 1 0.5 14 18.5 28 43 15.5 16 19.5 14.5 2.5 4.5 3.5 9 6.5 6 2 3 -0.5 1 -3 1.5 -5.5 1.5 -6.5 0 -1 1zM691 1416l3.5-2 2-3 -0.5-2 -1-1 -2-1 -2-0.5 -2 0.5 -2 1.5 -1.5 2.5 0 2 0.5 2 1 0.5 2 1 2-0.5z"/><path fill="#0038ff" d="M719 1422l-9.5 0 -4.5-2 -2.5-3 -1-7 -1.5-3 -3-2 -5-1 -3 0.5 -3.5 1.5 -6.5 7 -4 2.5 -4 0 -14-1 -7 1 -3 0.5 -3.5 2 -4 4 -29.5 0.5 -70 0 -11-0.5 -4-2 -6-1.5 -65-4 -162.5-0.5 -33.5-1 -46-3 -20-1.5 -19-7 -0.5-0.5 -0.5-2 1-2.5 26-3 52-4.5 62-10.5 32-5.5 58-7.5 44-7.5 32-6 47-15 45-12.5 24-13 19-8 15-4 22-1 2 0.5 9 4 26 0 7 0 2 1 13 17 30 45 15 15.5 20 17 5.5 10.5 5 6 -0.5 1.5 -5 1 -14 1.5 -6 0 -4-1.5 -5-4.5 -3-2 -4-1 -5 0 -4 1 -2.5 1 -6 7 -5.5 2.5 -2 0.5z"/><path fill="#004eff" d="M630 1422l-30 0.5 -63-0.5 -3 0 -5-2.5 -9-2.5 -66-3.5 -83 0 -28 0 -46 0 -38-1 -46-2.5 -19-2 -3-0.5 -18-6 -0.5-0.5 0-2 0.5-2 34-4 46-4 91-15 27-2.5 48-7 28-4 32-6.5 47-14.5 44-12 24-13.5 19-8 16-4 22-1 2 0 9 3.5 20 0 12 0.5 3 1 13 17 29 44 16 16.5 19 17.5 8 12 0 1 -2 0.5 -15 0 -5-1 -7-3.5 -5-1.5 -5-1 -5 0 -7.5 1.5 -3.5 2 -7 5 -3 1 -3 0.5 -3-1 -2.5-1.5 -1.5-2 -3.5-6 -3-3 -3.5-1.5 -6-0.5 -3 0.5 -3 1.5 -3 2 -5 5 -3 1.5 -5 0.5 -15 0 -7 1 -6 2 -11 6z"/><path fill="#0064ff" d="M618 1422l-79 0 -3-1.5 -4-2 -12-3 -32-1 -34-1.5 -83-0.5 -28 0.5 -73-0.5 -11-0.5 -46-2.5 -20-2 -20-6 -0.5-2.5 0.5-2 34-3.5 44-3.5 93-15 26-2 32-4 45-6.5 32-6 47-14 42-12 5-2 21-12 19-8 16-4 22-1.5 2 0 9 3.5 13-0.5 19 1 3 0.5 12.5 16.5 29.5 45 16 17 17 16 4 5 2.5 4 -0.5 0.5 -1 0.5 -11-1 -5-1 -12-3.5 -5-1 -6 0 -5 0.5 -4 1 -3 1 -8 5 -4 0 -2-0.5 -2-1.5 -5-6.5 -3.5-2.5 -3.5-1 -7-0.5 -4 1 -3 1 -3 2 -5 4.5 -4 2 -5 0.5 -16 0.5 -6 1 -6 1.5 -12 5 -9 2.5z"/><path fill="#007bff" d="M601 1422l-60-2.5 -12-3.5 -10-2 -31-0.5 -35-1.5 -82 0 -28 0.5 -74-0.5 -10-0.5 -46-2.5 -20-1.5 -20-6.5 -0.5-2 0.5-1.5 25-3 55-4.5 91-14 26-1.5 32-3.5 45-6.5 32-5.5 47-14 41-11.5 5-2 22-13 19-8 16-3.5 11-0.5 12-1.5 10 3 13-0.5 19 1 3 1 12 16 11 17 19 28 15 16.5 14 14 4.5 5 1 2 -0.5 1 -4-0.5 -21-4 -6-1 -7 0 -8 1 -9 5 -3 0.5 -2-0.5 -2-1.5 -5.5-6 -3.5-2 -3-1 -8 0 -4 1 -4 1.5 -9 6.5 -3 1 -5 1 -15 0.5 -7 1 -6 1.5 -16 5.5 -21 3.5z"/><path fill="#0091ff" d="M606 1419l-8 0.5 -32-1.5 -25-0.5 -13-3.5 -9-1.5 -31 0 -35-1.5 -82 0.5 -28 0.5 -76-0.5 -54-3 -20-1.5 -20-6 -0.5-2 0.5-1.5 29-3 50-4 92-13.5 27-1 49-5.5 27-3.5 32-5.5 47-14 41-11.5 5-2.5 22-12.5 19-8 16-4 11-0.5 12-1.5 10 3 12-1 19 1.5 4 1 12 16 11 17.5 19 27.5 26 27.5 2.5 3 1 2 -0.5 0.5 -2 0 -19-3.5 -16-0.5 -5 0.5 -8 4.5 -3 0.5 -3-1.5 -6-5.5 -3-2 -4-0.5 -8 0.5 -4 0.5 -4 1.5 -4 2 -6 4.5 -4 1.5 -5 0.5 -14 1 -8 1 -22 6 -14 2.5z"/><path fill="#00a7ff" d="M606 1417l-8 0.5 -11-0.5 -21-1.5 -25 0 -13-3 -9-1 -31 0 -35-1 -82 0 -28 1 -76-0.5 -53-2.5 -21-2 -20-6 -0.5-1.5 0.5-1 24-2.5 55-4.5 92-13 27-1 49-4.5 27-3.5 32-5.5 12-3 35-10.5 41-11.5 5-2.5 20-12 20-8.5 17-4 11-0.5 12-1.5 9 2 13-1 19 1.5 2 0.5 2 1 12 16 11 17.5 18 26 22.5 25 2.5 3 0 1 -2 0.5 -16-2.5 -16-1.5 -4 1 -7 4 -3 0.5 -3-1.5 -7-6 -3-1 -3 0 -9 1 -5 1 -5.5 2.5 -7.5 5 -5 1.5 -17 1.5 -9 1 -22 6 -13 2z"/><path fill="#00beff" d="M606 1415l-6 0.5 -10 0 -24-2.5 -25 0.5 -12-2.5 -9-1 -31 0.5 -35-1 -34 0 -50 0.5 -27 1 -76-0.5 -54-2.5 -19-1.5 -21-6 -0.5-1.5 0.5-1 25-2.5 55-4.5 91-12 26-0.5 50-4 27-3.5 32-5 88-25 5-2.5 19-11.5 21-9 17-4 11-0.5 12-2 9 2 12-1.5 12 1 9 1 3 1 11.5 16 11.5 18 17 24.5 4 5 16 17.5 1.5 3 -0.5 0.5 -2 0 -28-4.5 -4 1 -6 4 -3 0.5 -3-1.5 -6-5 -2-0.5 -4 0 -11 2 -5 1 -5 2 -7 4 -6 2 -25 3 -24 6 -11 1.5z"/><path fill="#00d4ff" d="M607 1413l-7 0.5 -10 0 -24-3 -26 1 -10-1.5 -10-1 -32 0.5 -34-0.5 -35 0 -49 0.5 -27 1.5 -75-0.5 -54-3 -18-1 -5-1 -18-5.5 0-1 0-0.5 2.5-0.5 25.5-2.5 51-4 92-11.5 26 0 51-3.5 26-3 32-5 11-3 24-7 52-15 6-3 19-11.5 21-9 17-3.5 11-1 12-2 9 1.5 11-1.5 5 0.5 16 1.5 2 0.5 2 1 11 15 12 19 15.5 22 4.5 6 12.5 14 1.5 3 -1 0.5 -2 0 -21-5 -4-0.5 -4 1 -5 4 -2 0 -2-0.5 -6-4 -2-1 -2 0 -8 2.5 -11 2 -12 5.5 -6 2 -26 3 -22 5.5 -11 2z"/><path fill="#00eaff" d="M608 1411l-8 1 -10-0.5 -24-3 -26 1 -20-1.5 -31 1 -36-0.5 -82 0.5 -28 1.5 -75-0.5 -53-2.5 -18-1 -5-1 -19-5.5 0-1 0-0.5 3-0.5 25-2.5 51-3.5 91-11 27 0 50-2.5 27-3 32-4.5 12-3 23-7 52-15 6-3 19-12 21-9 17-3.5 11-0.5 12-2.5 10 1 10-1 3 0 18 1.5 2 0.5 2 1.5 11 14.5 12 19.5 13 18 6 8.5 9 10.5 1 2 0 1 -2 0 -18-5.5 -4-1 -4 0.5 -6 3 -2-0.5 -5-2 -3-0.5 -4 1.5 -6 2.5 -12 3 -10 4.5 -5 1.5 -7 1 -21 2.5 -21 5.5 -11 2z"/><path fill="#02fffd" d="M609 1409l-9 1 -10-0.5 -24-3.5 -26 2 -19-1 -33 1 -35-0.5 -82 1 -28 1.5 -75-0.5 -69-3 -7-1 -18-5.5 -1-1 29-3.5 51-3.5 90-10.5 27 0.5 50-1.5 27-2.5 32-5 13-3 22-6.5 52-15 6-3.5 18-11.5 22-9 17-3.5 11-1 12-2.5 10 1 11-2 19 2 3 1 2 1 4 5 7.5 10.5 11.5 18.5 24 33.5 0.5 1 -0.5 0.5 -2-0.5 -14-5.5 -6-1.5 -2 0 -6 1.5 -8-0.5 -3 1 -8 5 -12 3.5 -11 4.5 -9 1.5 -23 3 -19 5 -12 2.5z"/><path fill="#18ffe7" d="M352 1409l-9 0.5 -75 0 -65-3 -11-1.5 -17-5 -1-1 28-3 50-3.5 91-10 27 0.5 27-0.5 23 0 27-2.5 32-4.5 13-3 74-21.5 5-3 19-12 22-9.5 17-3.5 11-1 12-2.5 10 0.5 11-2 19 2.5 3 0.5 2 1 4 5 7 10 12 19.5 17 23.5 2.5 4 -0.5 1.5 -2-0.5 -10-5 -6-2 -15 1 -4 2 -7 5.5 -12 4 -10 4 -9 1.5 -23 3 -27 7.5 -13 1.5 -12-0.5 -23-3.5 -26 2 -19 0 -33 1.5 -68 0 -50 0.5 -18 1z"/><path fill="#2effd1" d="M347 1409l-79 0 -65-3 -11-1 -16-5 -0.5-1 25.5-3 51-3 91-10 27 1 34 0 16 0.5 28-2.5 32-4 13-3.5 73-21.5 5-2.5 19-12.5 21-9 18-4 11-0.5 12-3.5 10 0.5 11-2 19 2.5 3 0.5 2 1.5 5 6 6.5 10 10.5 16.5 13 18.5 2.5 5 -0.5 0.5 -1 0 -9-4.5 -4-1.5 -14 1 -4 2 -7 6.5 -22 8.5 -32 4 -27 8 -12 1.5 -12 0 -24-4 -26 2.5 -19 0.5 -31 1.5 -71 0.5 -49 0.5 -23 1.5z"/><path fill="#45ffba" d="M355 1408l-12 1 -74-0.5 -55-2 -13-0.5 -9-1.5 -15.5-4.5 0-1 24.5-2.5 52-3.5 90-9 27 1 28 0 22 2 28-3 32-4 14-3.5 72-21 24-15.5 21-9 18-3.5 11-1 12-3.5 10 0 11-2 19 2.5 3 1 2 1 5 6.5 7 10 10 16.5 9 12.5 1.5 4 -0.5 0.5 -1 0 -8-4 -14 0.5 -4 2.5 -6 6 -2 1.5 -21 8.5 -23 2.5 -9 1.5 -22 7 -7 1.5 -5 1 -7 0.5 -10-0.5 -24-4 -26 3 -50 3 -70 0.5 -65 1.5z"/><path fill="#5bffa4" d="M351 1408l-8 0.5 -74 0 -54-2 -14-1 -8-1 -15.5-4.5 0.5-1 23-2.5 51-3 91-9 27 1.5 24 0.5 26 2.5 28-2.5 32-4 14-3.5 72-21.5 24-15.5 21-9 18-3.5 11-1 12-3.5 10-0.5 11-2 19 2.5 3 1 2 1.5 5 6 6.5 9.5 14.5 23 1.5 3 0 1 -0.5 0.5 -5-1.5 -8-0.5 -5 0 -4 2.5 -6 6.5 -2 1.5 -20 9 -2 0.5 -22 2 -9 1.5 -19 6.5 -12 3 -10 1 -10-0.5 -24-4 -26 3.5 -49 4 -71 0.5 -50 1 -19 1z"/><path fill="#71ff8e" d="M347 1408l-78 0 -54-2 -14-0.5 -8-1 -14.5-4.5 1-1 21.5-2.5 51-3 91-8.5 47 2.5 30 3.5 28-2.5 32-3.5 14-3.5 66-19.5 6-2 24-16 21-9.5 18-3 11-1 12-3.5 9-1 12-2 19 2.5 3 1 2 1.5 5 6 8 12 8 13 2 5 0 1 -1 0.5 -9-1 -5 0.5 -4 3 -5 6 -2 1.5 -21 10 -22 2 -10 1.5 -19 6.5 -12 3.5 -10 0.5 -10 0 -24-4.5 -26 4.5 -25.5 2.5 -22.5 1.5 -73 1 -49 1 -23 1.5z"/><path fill="#87ff78" d="M354 1407l-11 1 -74 0 -53-2 -15-0.5 -8-1.5 -13.5-4 2-1 19.5-2 51-3 91-8 43 2.5 34 4.5 29-2.5 31-3 15-4 65-19 6-2.5 24-16.5 21-9 18-3 11-1 12-4 9-1 12-2.5 16 2.5 5 1 2 1 5 6 8 11.5 6.5 10 2 5 -0.5 1.5 -1 0.5 -7-1.5 -4 0.5 -4 3 -5 6 -2 2 -21 10.5 -21 1.5 -11 1.5 -19 7 -12 3.5 -10 1 -10-0.5 -23-4 -7 0.5 -21 4 -23 3 -24 2 -72 0.5 -50 1.5 -16 1z"/><path fill="#9eff61" d="M351 1407l-8 0.5 -74 0 -54-1.5 -14-1 -7-1 -8-2 -5-2 2.5-1 17.5-2 51-3 92-7.5 38.5 3.5 37.5 5 31-2.5 30-3 14-3.5 65-19.5 6-2 24-17 21-9 18-3 11-1 12-4 9-1.5 12-2.5 16 2.5 5 1 2 1 5 6 7 10 5 8 2 4 0 1 -1 1 -7-1 -3 1 -4 3.5 -4 5 -2 1.5 -20 11 -2 0.5 -21 1.5 -10 1.5 -19 7.5 -12 3.5 -10 0.5 -10 0 -24-4.5 -26 5.5 -7.5 1 -15.5 2 -22 2 -11 0.5 -64 0.5 -50 1.5 -19 1.5z"/><path fill="#b4ff4b" d="M347 1407l-78 0.5 -54-2 -14-0.5 -7-1 -10-3 -2-1 3.5-1 15.5-2 51-2.5 92-7.5 18 1.5 37 6 20 2.5 31-2 31-3 14-3.5 64-19.5 6-2 3-2 12-9 10-6.5 21-9 18-3 11-1.5 12-4 9-1.5 12-2.5 16 2.5 5 1 2 1 5 5.5 7 10 3 5 1.5 4 -0.5 1.5 -1 0 -5-1 -2 1 -4 3 -4 5.5 -2 1.5 -20 11 -2 0.5 -20 2 -11 1.5 -20 8 -11 3 -10 1 -10-0.5 -24-4.5 -6 1 -18 4.5 -10.5 2 -13.5 2 -22.5 2 -10.5 0.5 -65 0 -50 2.5 -23 2z"/><path fill="#caff35" d="M505 1400l-16 1 -28-0.5 -27-0.5 -1-1 47-4.5 13-3 66-20.5 7-2.5 24-17 21-9.5 29-4 12-4.5 20-4 2-0.5 10 2 11 2.5 3 2.5 4 5 5 7 2.5 5 0.5 2 -1 1 -4 0 -2 0.5 -3 3 -6 7 -20 11 -2 0.5 -20 2 -11 1.5 -18 7.5 -12 4 -10 0.5 -11 0 -12-2.5 -12-3 -6 1 -17 5 -9 2 -16 3 -13 1zM344 1407l-76 0 -53-1.5 -14-1 -5.5-0.5 -7.5-2 -3-1 -1-1 3.5-1 13.5-1.5 51-3 92-7 17 2 10 2.5 16 3.5 27 3.5 2 1 -3 1 -6.5 1 -36.5 2.5 -26 2.5z"/><path fill="#e1ff1e" d="M508 1398l-13 0 -7.5-1 0.5-1 5-2 20-6.5 46-14.5 6-2.5 3-1.5 11-8.5 11-7.5 21-9 29-4 13-5 18-4.5 3 0 13 2 8 2.5 3 2.5 5 6 3 4.5 1.5 3 -0.5 2.5 -3 1 -3 1.5 -7 8 -20 11.5 -2 0.5 -20 2 -11 1.5 -18 7.5 -12 4.5 -9 0.5 -12-0.5 -12-2.5 -12-4 -6 1.5 -18.5 5.5 -12 3 -10.5 2 -11 1zM351 1406l-8 1 -74 0 -54-2 -18-1 -8-2 -2.5-1 -1-1 4-1 12.5-1.5 50-2.5 92-7 17 2.5 4 1.5 7 3.5 19.5 4.5 -1.5 1 -5 1 -15 1.5 -19 2.5z"/><path fill="#f7ff08" d="M517 1394l-5 0 -4-1 0-1 4.5-2 46.5-15 7-3 24-17.5 21-9 29-4 13-5 20-5 13 2 9 2.5 3 2.5 4 4.5 3 5 0 2 0 2 -5 3 -5 6 -21 12.5 -2 0.5 -19 2 -12 2 -18 7.5 -11 4 -8 0.5 -15 0 -13-3.5 -10-5 -7 1 -27 8.5 -15 3zM348 1406l-6 0.5 -73 0 -54-1.5 -18-1 -7-2 -2-1 -0.5-1 3.5-1 11-1.5 50-2.5 92-6.5 7 1 12 3.5 2.5 2 4 5 0 1 -1.5 1 -2 1 -18 3z"/><path fill="#fff100" d="M611 1388l-19 0.5 -5-1 -11-3.5 -4-2.5 -5-4 -3.5-0.5 -0.5-1 3-1.5 10-8 14-10 20-9 30-4.5 13-5 18-5 3 0 4 0.5 16 3.5 4 3 5 6 0.5 2 -0.5 3 -4 3 -4 5 -21 12.5 -2 1 -18 1.5 -13 2 -19 8.5 -11 3.5zM345 1406l-77 0.5 -53-1.5 -14-1 -6-1 -4-1 -1.5-1 0-1 3-1 9.5-1.5 50-2 91-6.5 6.5 1 9.5 3.5 2 1.5 3 4 0 2 -1 1 -2.5 1 -15.5 3z"/><path fill="#ffda00" d="M613 1386l-3 1 -5 0 -13 0 -4-1 -7-2 -6-3.5 -4.5-3.5 -0.5-3 1-2 2-2 16-11.5 21-9.5 30-4.5 13-5 18-5 3-0.5 4 0.5 16 3.5 3 2 4.5 5 0.5 2 0 3 -7 7 -21 13 -2 0.5 -17 1.5 -14 2.5 -18 8 -10 3.5zM318 1406l-50 0 -53-1.5 -15-0.5 -4.5-1 -3-1 -1.5-1 0-1 3-1 7-1 51-2.5 91-6 4 0.5 5 2 5 4 2 3 -0.5 2 -1 1 -4.5 2 -3.5 1 -6.5 1 -25 0z"/><path fill="#ffc400" d="M611 1385l-19 0 -6-1.5 -6-2.5 -4.5-3 -1.5-2 0-4 1.5-2 2.5-2 12-8.5 20-9 30-4.5 13-5 19-6 2 0 8 1.5 12 3 4 2.5 2 3 0.5 3 -0.5 2 -5 5.5 -21 12.5 -2 1 -17 1.5 -14 2 -19 8.5 -11 4zM347 1405l-5 0.5 -44 0.5 -30-0.5 -33-0.5 -34-1.5 -4.5-0.5 -3-1 -1.5-1 0.5-1 3-1 6.5-1 50-2 91-5.5 4 0.5 4 2 2 2 1.5 3 0 3 -1.5 2 -2 1 -4 1z"/><path fill="#ffae00" d="M613 1383.5l-3 0.5 -5 0 -12-0.5 -4-0.5 -6.5-3 -4.5-3 -1-2 0-4 3-3 10-7 20-9 30-4.5 14-6 18-5.5 2 0 8 1.5 12 3 3 2 2 2.5 0 3 -0.5 2 -3.5 4 -21 12.5 -2 0.5 -17 2 -14 2 -18 8.5 -10 4zM344 1405l-76 0.5 -52-1 -16-1 -5-1.5 -1.5-1 0.5-1 2.5-1 8.5-1 46-2 49.5-3 42.5-2 4 1 3 2 2 3 0.5 3 -0.5 2 -1 1 -2.5 1 -4.5 1z"/><path fill="#ff9700" d="M612 1382.5l-9 0 -10-0.5 -4-1 -4.5-2 -3-2 -1-2 0-5 0.5-1 2-2 7-4.5 20-9 29-4.5 16-6.5 16-5 4 0 15 3 5 1.5 2 2 0.5 5 -2 3 -21.5 13 -2 0.5 -16 1.5 -15.5 3 -18.5 8.5 -10 4zM317 1405l-49 0 -53-1 -15-1 -4-1 -1-1 0.5-1 2.5-1 10.5-1 43.5-1.5 54-3 36-1.5 3 0.5 2.5 1.5 1.5 2 1 3 0 2 -0.5 1 -1 1 -3.5 1.5 -28 0.5z"/><path fill="#ff8100" d="M612 1381l-4 0.5 -10-0.5 -7-1 -2.5-1 -3.5-2 -0.5-1 -0.5-6 0.5-2 2-2 3.5-2.5 20-9 15-2 14-2.5 19-7.5 14-4.5 4 0.5 13 2.5 5 1.5 2 1.5 0 5 -1 2.5 -21 12 -2 1 -17 1.5 -15 3 -19 8.5 -9 3.5zM343 1404l-74 1 -47.5-1 -20.5-1 -3.5-1 -1.5-1 0.5-1 3-1 12.5-1 40-1.5 49-2.5 41-1 2 0.5 2.5 1.5 1 2 0.5 3 -0.5 2 -1 1 -3.5 1z"/><path fill="#ff6b00" d="M611 1380l-11-0.5 -10-1.5 -2-2 -0.5-6 0.5-3 1.5-2 2-1 18.5-8 29-4.5 19-8 14-4.5 3 0 10 2 7 2 1.5 1 0.5 1 0 4 0 1 -1 1 -19 11.5 -2 0.5 -16 1.5 -16 3 -19 9 -10 3.5zM318 1404l-50 0.5 -52-1 -14-0.5 -3-1 -1.5-1 0.5-1 3-1 14-1 96-3.5 19 0 13 0.5 1.5 1 1.5 3 0 2 -0.5 1 -2 1 -25.5 1z"/><path fill="#ff5400" d="M652 1364l-6 0.5 -2-0.5 0-12 0.5-1 3-2 12.5-5.5 7-2 6-1.5 12 2 3 1 1.5 1 0.5 6 -1 2 -4 3 -10 6 -3 1 -10 0.5 -10 1.5zM611 1379l-10-0.5 -8-2 -1-0.5 -0.5-2 0-6 0-2 2.5-2 4-2 13-5.5 21-2.5 4.5 0 0.5 1 0 9 -0.5 3 -2.5 2 -8 4 -8 3.5 -7 2.5zM276 1404l-61-0.5 -13-1 -2-0.5 -1-1 0.5-1 2.5-0.5 13-1 86-3 17 0 10 1 10.5 1.5 3 1 1 1 -1.5 1 -5.5 1 -13 1 -46.5 1z"/><path fill="#ff3e00" d="M657 1362l-3.5 0 -1-1 -1-11 1.5-2 8.5-4 10.5-3.5 2 0 7 1.5 3 1 1.5 1 0.5 4 0 4 -1.5 2 -3 2 -8.5 4.5 -16 1.5zM610 1378l-8-0.5 -5-1.5 -0.5-1 -1-4 0-4 0.5-2 4-3 11-4.5 15-1.5 2 0 1 1 1 11 -1 2 -3 2 -7 3 -6 2.5 -3 0.5zM295 1403l-28 0.5 -51-0.5 -13-1 -2.5-1 0.5-1 1 0 13-1.5 75-1.5 18 0.5 8 1 4 1.5 -1 1 -6 1 -18 1z"/><path fill="#ff2800" d="M670 1360l-9 0 -1 0 -1-1 -1-7 0-3 0.5-2 5.5-3 8-2.5 3 0 5 1.5 1.5 1 1 4 0.5 4 -1 2 -2.5 2 -5 3 -4.5 1zM611 1377l-6-0.5 -3-0.5 -1-1 -1.5-6 0-3 0.5-2 2.5-2 8.5-3.5 7-0.5 4 0.5 1 1.5 1 5 0.5 4 -0.5 2 -4.5 3 -8.5 3zM280 1402l-27 0.5 -36 0 -7.5-0.5 -5-1 1.5-1 9-1 17 0 44-0.5 12 0.5 7 1 -1.5 1 -13.5 1z"/><path fill="#ff1200" d="M669 1359l-4-1 -1-1.5 -1.5-4.5 1-5 1.5-2 4.5-2 3.5-0.5 3 0.5 1.5 1 1.5 3 0.5 4 -0.5 3 -1.5 2 -3 2 -2.5 1 -3 0zM611 1376l-4-0.5 -1.5-0.5 -1-1 -1.5-5 0.5-4 1-2 1-1 3.5-2 3-0.5 4 0 1 0.5 2 4 0.5 4 0 3 -1.5 2 -1.5 1 -5.5 2zM247 1401l-30 1 -6-1 1.5-1 9.5-0.5 22.5 0.5 2.5 1z"/><path fill="#fa0000" d="M673 1357l-2.5 0 -1-1 -1.5-2.5 -0.5-2.5 0.5-2.5 1.5-2.5 1.5-1.5 2-0.5 1 0.5 1 2 1 4.5 -1 4 -2 2zM612 1374l-2 0 -1-0.5 -1.5-2.5 -0.5-2 0-2 1-3 1.5-2 1.5-1 1 0.5 1.5 1.5 1.5 4 -0.5 4 -1 2 -1.5 1z"/></g></g></g><g clip-path="url(#clip_cb)"><g clip-path="url(#mask_cb)"><g filter="url(#softf)"><rect x="160" y="1413" width="590" height="194" fill="#000bff"/><path fill="#0021ff" d="M684 1590l-4 0.5 -12-0.5 -16-2.5 -23-13 -51-37.5 -29-13.5 -34-14.5 -31.5-9 -25.5-6 -55-10.5 -60-14 -17-3 -35-6 -31-3.5 -1-0.5 -7-0.5 -1-0.5 -19-1.5 -1-0.5 -10-0.5 -1-0.5 -10-0.5 -1-0.5 -9 0 -1-1 -15-1 -1-0.5 -6-0.5 -1-0.5 -3 0 -1-1 0-3 3-2 2 0 1-1 2 0 3-1.5 2-0.5 1-0.5 2-0.5 1-0.5 3-0.5 1-0.5 3-0.5 1-0.5 4-0.5 1-0.5 3 0 1-1 4 0 1-1 6-0.5 31-3 80-1.5 103-1.5 22.5-1 13 0 9.5-0.5 7-1 13-0.5 217 0 15 0 11 1 -2 1 -2 0 -1 1 -3 0.5 -2 2.5 0 2 -1 1 0 3 -1 1 0 2 -1 1 0 20 1 1 0 1 2 2 0 1 1.5 2 0 1 1 1 0 3 1 1 0 5 1 1 -0.5 5 0 3 -0.5 1 0 12 -1 1 -4 41 -1.5 6.5 -1.5 3.5 -3 4 -11.5 11.5 -8 17.5 -2 3.5 -2 1 -14 1.5z"/><path fill="#0038ff" d="M681 1585l-6 0 -7 0.5 -16-2.5 -23-12.5 -51-36.5 -28-13 -35-14 -33-9 -24-6 -57-10.5 -58-13 -47-8.5 -52-5.5 -44-4 -17-2 -6 0 -1-0.5 -3-0.5 -0.5-0.5 -0.5-3 3-1.5 2-0.5 1-0.5 2-0.5 1-0.5 4-1 1-1 11-2.5 21-4 30-2.5 77-1.5 54-0.5 30 0 66-1.5 4-0.5 5-1.5 20-0.5 205-0.5 17 0.5 6 0.5 0 2 -1 0.5 -2.5 2.5 0 2 -1 1 0 3 -1 1 0 2 -1 1 0 20 1 1 0 1 2 2 0 1 2 2 0 1 1 1 0 3 0.5 1 0.5 6 -1 5 0.5 7 -0.5 4 -0.5 8 -1 5 -3 24.5 -2 8.5 -2.5 5 -3 5 -10.5 13 -7 15.5 -2 3.5 -2 0.5 -17 2.5z"/><path fill="#004eff" d="M673 1580l-6 1 -13-2 -3-1 -22-11.5 -51-35 -19-9 -8-3.5 -38-14.5 -33-9 -20.5-4.5 -57.5-10.5 -61.5-13.5 -47-8 -48-5 -72.5-6.5 -0.5-0.5 0-3 2.5-1.5 2 0 1-1 2 0 1-1 5-1.5 7-2 26-4.5 29-2.5 107-1.5 73-0.5 48-1 7.5-1 6.5-2 27-0.5 186-0.5 21 0.5 6.5 0.5 0 2 -2 3 0 2 -1 1 0 3 -1 1 0 2 -1 1 0 20 1 1 0 1 2 2 0 1 1.5 2 0 1 1 1 -0.5 32 -1.5 6 -3 21 -2 6.5 -2.5 5.5 -3 6 -9.5 12.5 -7 15.5 -2 3.5 -2 1 -16 2 -9 0.5z"/><path fill="#0064ff" d="M671 1576l-4 0.5 -13-2 -3-1 -22-11 -51-33.5 -22-10.5 -43-16 -33-8.5 -20-4.5 -58-10 -59-13 -49-8 -49-5 -72-6 -0.5-1.5 0-2 0.5-0.5 7-2 1-1 12-3.5 24-3.5 31-3 111-2 70 0.5 47-0.5 13.5-2.5 6-2 24.5-0.5 181-0.5 20 0.5 8.5 0.5 0 3 -1.5 2 0.5 2 -1 1 0 3 -1 1 0 2 -1 1 0 20 4.5 7 -0.5 3 0 30 -3.5 19 -3.5 11 -5 11 -8.5 12.5 -7 15.5 -2 3 -2 1 -16 2.5 -7 0 -4 1.5z"/><path fill="#007bff" d="M669 1572l-2 0.5 -4-0.5 -9-1.5 -3-1 -22-10.5 -50-32 -19-9.5 -13.5-5.5 -33.5-11.5 -33-8.5 -20-4 -58-10 -59-12 -49-8 -50.5-5 -70.5-5.5 -0.5-1.5 0-2 13.5-5 7-1.5 25-4 30-2.5 110-2 72 0.5 46 0 15-2.5 8-2 2-1 22-0.5 177-0.5 19 0.5 9 0.5 0 7 -1 1 0 3 -0.5 1 0 2 -1 1 0 20 1 1 0 1 1.5 2 0 2 0 34 -3.5 16 -3.5 11 -5 11 -7 10.5 -7 15 -2 3.5 -2 1 -14 2 -9 1 -6 2z"/><path fill="#0091ff" d="M668 1568l-16-2.5 -22-10 -51-31 -21-10.5 -17-6.5 -28-9 -33-8 -20-4 -58-9.5 -60-12 -48-7.5 -47-4.5 -74-6 -0.5-1 0-2 16.5-5.5 7-1.5 22-3.5 30-2 111-2 71 1 46 0 19-3 6.5-1.5 5.5-2 18-0.5 144-0.5 43 0.5 14.5 0.5 0.5 11 -1 1 0 2 -1 1 0 20 2 3 -0.5 4 0 33 -3 13 -3.5 11 -5 10 -6 9.5 -7 15 -2 3.5 -2 0.5 -10 2 -13 1.5 -7 3z"/><path fill="#00a7ff" d="M668 1564l-16-2.5 -22-9.5 -51-30 -21-11 -17-6 -28-9 -33-7 -21-4 -57-9 -58-11.5 -43.5-6.5 -53.5-5.5 -74-5.5 -0.5-2 0.5-1 18-6 26-4 31-2.5 112-1.5 70 1 47 0 10.5-1 12.5-2 8-2 2-1 1.5-1 15.5-0.5 142-0.5 43 0.5 13.5 0.5 0 10 0.5 4 -1 1 0 20 1 1 -0.5 4 0 35 -2.5 9 -4 11 -4 9 -6 10 -7 14.5 -2 3.5 -2 0.5 -6 1.5 -11 1.5 -6 1 -7 3.5z"/><path fill="#00beff" d="M668 1560l-16-2.5 -22-9 -50.5-28.5 -21.5-11.5 -17-6 -28-8.5 -33-7 -21-3.5 -57-9 -58-10.5 -47-7 -54-5 -70-5 -0.5-2 0.5-1 19-6 26-3.5 30-2.5 112-1.5 70 1.5 47 0 13-1.5 14-2 6-1.5 4.5-3 2.5 0 36-0.5 116 0 42 0 13 0.5 0 75 -1 3 -5 14 -4 9 -5 8.5 -7 14 -2 3.5 -1 0.5 -5 1 -19 3 -5 3.5 -2 1z"/><path fill="#00d4ff" d="M668 1556l-16-2.5 -23-9 -50-27 -6-3 -15-8.5 -17-6 -27-7.5 -34-7 -21-3.5 -56-8.5 -59-10 -47-7 -50-4.5 -74-5.5 -0.5-1.5 0.5-1 19-5.5 26-4 29-2 114-2 33 0.5 36 1.5 47 0.5 17-2 15-2.5 6-2.5 2.5-2 36.5-0.5 115 0 41 0 12.5 0.5 0 75 -0.5 2 -4 10.5 -5 10.5 -4 7 -9 17 -2 1 -6 1.5 -11 2 -5 0.5 -8 5z"/><path fill="#00eaff" d="M668 1552l-16-2.5 -23-8.5 -55-28.5 -16-9 -17-5.5 -27-7.5 -34-7 -21-3 -57-8 -58-10 -47.5-6.5 -49.5-4.5 -74-5 -0.5-1.5 0.5-1 19-5.5 26-4 29-2 114-1.5 32 0.5 37 1.5 47 1 16-1.5 16-2.5 7.5-3 4-3 41.5-0.5 107 0 52 0.5 0 74 -0.5 3 -7.5 17 -13 23.5 -2 1 -5 1 -17 3 -8 5.5z"/><path fill="#02fffd" d="M668 1548.5l-3 0 -13-2.5 -23-8.5 -54-27 -14-8 -4-2 -17-5.5 -26-6.5 -34-6.5 -20-3 -58-7.5 -58-9.5 -47-6.5 -51-4 -71-5 -2 0 0-1.5 0-0.5 19-6 26-3.5 29-2 114-1.5 33 0.5 36 2 47 0.5 17-1 16-2.5 9-3.5 4.5-3.5 46.5-0.5 99 0 50.5 0.5 0 74 -0.5 3 -6 13 -13 23 -1 0.5 -5 1.5 -18 3 -8 6.5z"/><path fill="#18ffe7" d="M669 1544.5l-1 0.5 -2 0 -13-2.5 -22-7.5 -56-26.5 -17-10.5 -17-5 -27-6.5 -33-6 -21-3 -58-7 -59-9 -47-6.5 -50.5-4 -70.5-4.5 -2-0.5 0-1 0-0.5 12-4 10-2 22-3.5 30-2 114-1.5 33 1 36 2 48 1 17-1 15-2 10-4 4.5-2.5 2-2 142.5-0.5 49 0.5 0 74 -0.5 3 -5.5 11 -12 20.5 -1 0.5 -5 1.5 -18 3.5 -2 1.5 -5 5z"/><path fill="#2effd1" d="M668 1541l-2 0 -13-2 -24-8 -54-25 -14-8.5 -4-2 -17-5 -26-6 -35-6 -21-3 -57-6.5 -58-8.5 -47-6 -49-3.5 -71-4.5 -3-0.5 0-1 13-4.5 10-2 22-3 29-2 115-1.5 31 1 37.5 2 47.5 1 19-1 14-1.5 10-3.5 6-3.5 2.5-2.5 139.5-0.5 47.5 0.5 0 74 -0.5 3 -16 27.5 -1 0.5 -5 1.5 -18 3.5 -1 0.5 -5 5.5 -2 1z"/><path fill="#45ffba" d="M669 1537l-1 0.5 -2 0.5 -13-2.5 -22-7 -55-24 -18-11.5 -17-4.5 -27-6 -35-6 -92-10 -44-6.5 -47-5.5 -49-4 -71-4.5 -1.5 0 -1.5-1 13-4.5 10-2 22-3 29-2 115-1 32 1 37 2 49 1.5 21-1.5 12-1.5 6-1.5 5-2.5 6-3.5 3-2.5 136-0.5 46 0.5 0 74 -0.5 3 -14.5 23 -1 1 -5 1.5 -18 3.5 -2 1.5 -5 5.5z"/><path fill="#5bffa4" d="M668 1534.5l-2 0 -13-2.5 -25-7.5 -52-22.5 -15-9.5 -4-2 -17-4.5 -26-5.5 -35-5.5 -48-5.5 -45-4 -43-6 -47-5.5 -50-3.5 -69-4.5 -2-0.5 -1-0.5 12-4.5 10-2 22-3 29-1.5 115-1.5 32 1.5 37 2 50 1.5 25-1 9-1.5 6-2 6-2.5 5.5-3.5 3.5-3 133-0.5 44.5 0.5 0 74 -0.5 3 -5 7 -8 12.5 -2 1 -4 1 -18 4 -1 0.5 -5 6 -2 1.5z"/><path fill="#71ff8e" d="M668 1531l-2 0 -13-2 -25-7.5 -52-21.5 -15-10 -4-2 -17-4.5 -26-5 -34-5 -50-5 -46-4 -41-5.5 -47-5.5 -50-3.5 -67-4 -3 0 -1.5-1 2.5-1 9-3 10-2.5 22-2.5 29-2 114-1 34 1 36 2.5 52 1.5 26-1 10-2 6-2 6-3 5-3 3-3 130-0.5 43 0.5 -0.5 76 -11.5 16.5 -5 2 -19 4.5 -1 0.5 -5 6 -2 1.5z"/><path fill="#87ff78" d="M667 1528l-15-2.5 -24-7 -52-21 -15-10 -4-2 -17-4 -25-5 -35-5 -50-4.5 -47-3.5 -88-10.5 -48-3 -67-4 -3-0.5 -2-0.5 2-1 10-3.5 10-2 20-2.5 30-1.5 115-1.5 32 1.5 37 2.5 46 2 12 0 21-1 10.5-2 6-2 5.5-2.5 11.5-7.5 125.5-0.5 40.5 0.5 0.5 35 0 41 -10 13 -4 1.5 -20 5 -2 1.5 -5 6.5 -2 0.5z"/><path fill="#9eff61" d="M667 1525l-15-2.5 -15-4 -10-3 -51-20 -15-10 -4-2 -17-4.5 -25-4.5 -35-4.5 -50-4.5 -24-1 -24-2 -86-9.5 -49-3.5 -66-3.5 -5.5-1 1.5-1 8-2.5 12-2.5 21-2.5 29-2 114-1 32 1.5 46.5 3 38.5 1.5 19 0 14-0.5 8-1.5 5-1 9-3.5 7-4 6-3 3-2 120-0.5 38 0.5 1 34 0 42 -7 9 -2 1.5 -23 6 -2 1.5 -5 6 -2 1z"/><path fill="#b4ff4b" d="M667 1522l-15-2.5 -14-3 -11-3.5 -51-19.5 -15-10.5 -4-2 -17-4 -25-4.5 -36-4 -49-4 -25-1 -26-2 -84-9 -54.5-3.5 -58.5-3 -6-1 1.5-1 10.5-3.5 10-2 20-2 31-1.5 111-1.5 33 1.5 37 3 22.5 1 28.5 1 28 0 11-1.5 10-2.5 20-9 4.5-3 114.5-0.5 35.5 0.5 1.5 34 0 42 -5 6 -2 1.5 -23 6 -2 1.5 -5 6.5 -2 0.5z"/><path fill="#caff35" d="M668 1519l-2 0.5 -14-2.5 -14-3 -10-3.5 -52-19 -15-10.5 -4-2 -17-4.5 -25-3.5 -34-4.5 -50-3.5 -28-0.5 -25-1.5 -83-9 -50.5-3 -61.5-3 -6.5-1 1.5-1 7-2.5 6-1.5 7-1 20-2.5 31-1.5 113-1 32 1.5 35 3 16 0.5 36 1.5 29 0 11-1 10.5-2.5 20.5-8.5 5.5-2.5 2.5-2 142 0 2 35 0 41 -1.5 2 -3.5 3 -23 5.5 -2 2 -4 5 -2 1.5z"/><path fill="#e1ff1e" d="M668 1516.5l-2 0 -14-2 -13-3 -10-3 -53-19 -18-12.5 -10-2.5 -12-2.5 -22-3 -34-4 -50-3.5 -10-0.5 -16 0.5 -21-1 -88-8.5 -48-3 -64-3 -6-1 1-1 7-2.5 5-1 8-1.5 20-2 31-2 113-0.5 31 1 36 3.5 14 0.5 38 2 30 0 13-1.5 10-2 21-8 8-4 2.5-2 127.5 0 -0.5 3 -2.5 4.5 -1.5 3.5 -0.5 4 0 4 1.5 5 1.5 2 1 0.5 2-0.5 1-1 4-6.5 1 2 1.5 16.5 0.5 39 -1 1.5 -2 1.5 -23 5 -2 1.5 -4 5.5 -2 1.5z"/><path fill="#f7ff08" d="M668 1514l-2 0 -14-2 -13-2.5 -10-3 -20-7.5 -22-7 -11-4.5 -4-2.5 -11-8 -4-2.5 -10-2.5 -10-2 -23-3 -34-4 -50-2.5 -10-0.5 -18 0.5 -20-0.5 -26-2.5 -61-6 -48-3 -63-3 -6.5-0.5 1-1 2.5-1 10-3 8-1 20-2 29-1.5 105-1 35 1 42 4 48 2 37 0.5 9-0.5 7-1.5 18-5 12-4.5 8-4.5 2.5-2 111.5 0 0.5 5 0.5 14 2 8.5 2 4 2 2.5 7 5 1 1.5 0.5 2.5 1 9 0 23 -0.5 1 -1 1 -22 5 -2 1.5 -4 5 -2 1.5z"/><path fill="#fff100" d="M669 1511l-2 1 -14-2 -12-2 -10-3 -22-8 -21-6.5 -12-4.5 -5-3.5 -10-7.5 -4-2.5 -11-3 -10-1.5 -22-3 -34-3.5 -51-2.5 -9-0.5 -19 1 -19-0.5 -26-2 -61-5.5 -116.5-6.5 0.5-1 2.5-1 8.5-2.5 9-1.5 19-2 30-1.5 106-1 38 1.5 38 3.5 50 3 39 0 15.5-1.5 18.5-4.5 9-3.5 13-7 5-2 96.5 0 2 9 4 19 6.5 17 1 5 1 9 0 16 0 1 -2 1 -14 3.5 -6 6.5zM660.5 1436l1-4 -0.5-3 -1-1.5 -1 1 -0.5 4.5 0.5 3 1 0.5 0.5-0.5z"/><path fill="#ffda00" d="M668 1509.5l-2 0.5 -15-2 -11-2.5 -9-2.5 -20-7 -23-7.5 -12-4 -5-3.5 -11-8.5 -3-2 -10-2.5 -10-2 -23-3 -33-3 -60-2.5 -23 1 -17 0 -25-2 -61-5.5 -116-6 0.5-1 2.5-1 8-2.5 8-1 20-2 30-1.5 106-1 38 1.5 39 4 50 3 29 0 13 0 14-1.5 18-3.5 10-3.5 11-6 13.5-3 6.5-2 11.5 0 4.5 1.5 4.5-1.5 24 0 2.5 1 3-1 6.5 0 1.5 1.5 1 2 1.5 7.5 1 3 1.5 2 1 0.5 1-0.5 1-1 0.5-2 1-13 10.5 0 3 21 3 13 2 15 1 11 -0.5 15 -0.5 1 -1 1 -6 2 -7 6.5zM641.5 1443l1.5-2 0.5-4 -0.5-3 -1-1 -1 0 -3 2.5 -1 1.5 -0.5 2 0.5 2 1.5 2 1.5 0.5 1.5-0.5z"/><path fill="#ffc400" d="M669 1507l-1 0.5 -2 0.5 -14-2 -10-1.5 -10-3 -21-7.5 -22-6.5 -12-4.5 -5-3 -14-11 -10-3 -11-2 -56-6 -60-2 -26 2 -17 0 -22-1.5 -61-6 -111-5 -4-0.5 0-1 5-2 9-2 25-2.5 29-1.5 107-1 38 2 37 3.5 51 3.5 29 0.5 15 0 20-2 12-2 10-3 9-4.5 24-5.5 2.5 0.5 2 1 1.5 1.5 3.5 5.5 1.5 1 2 0 2-1 3-5.5 2-2 8-3.5 4-1 4 1.5 2.5 2.5 0 3 -3 5 -0.5 2 0 2 1.5 4 1.5 1.5 2 0.5 2-0.5 2-2.5 1.5-4 1-7 1.5-2 2-1 2 1 1 1 4 9.5 2 2 2 0 1.5-1.5 1-3 1.5-14 8 0 1 12 2 41 -0.5 21 0 2 -1 2 -5.5 5z"/><path fill="#ffae00" d="M667 1506l-15-1.5 -13-2.5 -8-2.5 -21-7.5 -25-7.5 -8-3 -3-1.5 -16-13 -9-2.5 -11-2.5 -58-5.5 -59-1.5 -29 2 -18 0 -19-1 -60-5.5 -111-5.5 -3 0 -0.5-1 5-2 9-2 24.5-2.5 29-1 107-1 38 1.5 38 4.5 50 4 29 0.5 17-0.5 19-1.5 12-1 10-2.5 8-3.5 23-5 2 0 2 1 6 6 2 1 3 0 3.5-2 4.5-6 3.5-3 3-2 3.5-0.5 3 1 1 1 0.5 1.5 -0.5 2 -2.5 4 -1 2 0.5 4 1 2 2 2.5 2 1 2 0.5 2-0.5 2-1.5 2-3 2.5-6 1.5-1.5 1-0.5 1 1 4 6 2 2.5 2 0.5 2-0.5 1-1.5 1-3 2-16 6 0 1 6 0.5 7 0.5 47 -0.5 16 -1 2 -0.5 1 -3 2.5 -2 0.5z"/><path fill="#ff9700" d="M668 1504.5l-17-1.5 -12-2.5 -27.5-9.5 -26.5-8 -8-3 -3-1.5 -16-13 -9-3 -11-2 -58-6 -60-1 -32 3 -17 0 -16-1 -60-5.5 -111-5 -2 0 -1-1 5-2 9-2 24-2.5 29-1 108-1 17 0.5 25.5 2 30.5 4 35 3 17 2 45 0.5 13-0.5 19-2 10-1.5 8-3 23-4.5 3 1 5 3.5 3 1.5 8 1 0.5 1 1.5 5 1 2 1 1 2 1 2-0.5 1-1 3-5 1-0.5 7 3.5 3 0.5 2-0.5 2-1.5 4-6 2-1.5 2 1.5 3 3.5 2 1.5 2 0.5 2-0.5 1.5-2 1-3 1.5-13 1-5 4 0 1 6 0.5 6 -0.5 18 0.5 30 -0.5 15 -0.5 3 -3.5 2.5zM628 1436l-1-2 1-3 2-2 2 0 1 0 0.5 2 -0.5 1.5 -3 3 -2 0.5z"/><path fill="#ff8100" d="M668 1503l-17-1.5 -11-2 -7-2 -20-7.5 -30-9 -8-3 -5-4 -11-10 -5.5-2 -14.5-3 -42.5-5 -6-1 -1-1 49.5-2.5 18-1.5 12-1.5 7-2 23-4 3 1 6 2.5 7 2 1 1 4 6 3 2 2 0 2-1 4-3 2-0.5 7 1.5 6-0.5 2-1 3-4 2 0.5 5 2.5 3 0.5 2-1 1.5-3 2-18 1.5-3.5 1.5-0.5 1 2 1 3 0.5 9 -1.5 23 0.5 23 -0.5 16 -0.5 2 -2 1zM393 1455l-13 1 -18-0.5 -67-5.5 -110.5-5 -3-1 5-2 9.5-2 23-2 29-1.5 112-0.5 35 2 35 5 28.5 3 14.5 3 5 2 0.5 1 -12.5 1 -46-0.5 -27 2.5z"/><path fill="#ff6b00" d="M668 1501.5l-3 0.5 -13-1.5 -11-2 -9-2.5 -18-7 -32-9.5 -5-2 -3-1.5 -16-14 -12.5-4 -2-1 0-1 2.5-1.5 4-1.5 13-3 13-2 24-2.5 5 0.5 8 2.5 2 2 4 4.5 3 1.5 4 0.5 6-3 3-0.5 9 2 4.5 4.5 1.5 1 1 0 2-1.5 3.5-5.5 6.5-1.5 2-2 1-4.5 1-16 1-3 1-0.5 1 1 1 2.5 0.5 7 -2 18 -0.5 9 0.5 20 0 15 -0.5 2 -1 0.5zM383 1455l-10 0.5 -13-0.5 -65-5.5 -109-4.5 -4-1 5-2 9.5-2 23-2 28.5-1 110-1 33 2 17 2 35.5 6 9 2 4.5 2 -4 1 -23 0 -17 0.5 -30 3.5z"/><path fill="#ff5400" d="M668 1447.5l-1-5.5 0-7 1-5 1-1.5 1 1.5 0.5 2 0 6 -0.5 5 -1 3.5 -1 1zM384 1454l-11 0.5 -13 0 -65-5 -109-5 -3.5-0.5 5-2 10-2 26-2 24.5-1 108-1 30.5 2 18 2 20 4 10.5 4 -1.5 1 -28.5 2 -21 3zM666 1500l-5 0.5 -6-0.5 -8-1 -6-1.5 -7-2 -19.5-7.5 -23.5-6.5 -11-4 -5-2.5 -4-3 -13.5-13 0-1 2.5-2 3-2 12-3 25-1 6 0.5 5 1.5 2 1 6 4.5 4 1.5 4 0 7-2.5 7 1 2.5 1.5 4 4 2.5 1 2 0 2-0.5 5-4.5 3 0.5 2 1.5 2 4 1 4 1 8 0 14 -1 8 -1 1z"/><path fill="#ff3e00" d="M669 1440.5l-1-1.5 0-3 0-2 1-2 1 4 -1 4.5zM371 1454l-16-0.5 -60-4.5 -109-4.5 -2.5-0.5 1-1 7.5-2 7-1 20-1.5 29-1 107-1 27.5 1.5 18 2 14.5 3 5.5 2 3 2 -1.5 1 -20 1.5 -18 3.5 -13 1zM658 1498.5l-7 0 -11-2.5 -26-9 -23-6.5 -11-4 -5-2.5 -5-4 -5-6 -1.5-2 0-1 1.5-2 2-1.5 8-3 13-0.5 12 0.5 8 1 4 1 7 4 4 1 4 0 8-1 6 1 7 5 3 1 5 0.5 2 1 2 2.5 2 3.5 1.5 6 0 7 -2.5 7 -2 3 -1 0.5z"/><path fill="#ff2800" d="M374 1453l-18 0.5 -61-4.5 -111-5 1.5-1 7.5-2 7.5-1 18.5-1.5 29-1 107-1 23 1.5 18 2 13.5 3 4.5 2 1 1 -1 1 -14 1.5 -17 3.5 -9 1zM652 1496.5l-4 0.5 -9-2 -23-8.5 -25-7.5 -9.5-3 -5.5-2.5 -4-3.5 -3-4 0.5-3 2.5-3 4-2 10-0.5 11 0.5 12 2 15 6 5 0.5 11 1 7.5 2.5 4.5 2 3 2.5 2 3.5 1.5 4 0 4 -1.5 4 -2 4 -3 2.5z"/><path fill="#ff1200" d="M375 1452l-10 1 -9 0 -61-4.5 -109.5-4.5 0.5-1 8-2 24-2 30-1.5 107-0.5 19 1 17 2 9.5 2 5 2 1 1 -1.5 1 -10 1.5 -13.5 3.5 -6.5 1zM647 1493l-4 0.5 -4-0.5 -5.5-2 -7.5-4 -4-1.5 -21-4.5 -16-5 -7-3 -2.5-2 -1-3 0-3 1.5-2 1-1 4-1 8-0.5 8 1 10 2 14 7 5 2 5 0.5 10 0.5 6 1 2 1.5 2 2 1.5 3 0.5 3 -0.5 3 -1.5 3 -2 2 -2 1z"/><path fill="#fa0000" d="M365 1452l-10 0 -60-4 -106-4 -2-1 8-2 9.5-1 13-1 28-1 108.5-1 15 1 17 2 8.5 2 4 2 -1 1 -18.5 5 -5 1 -9 1zM609 1479l-3 0.5 -5-0.5 -10.5-3 -3.5-2 -2.5-2 -1.5-2 0-2 1-1 2-1.5 6-0.5 7 0.5 7 2.5 5 3 2 2 1 2 0 1.5 -1 1.5 -4 1z"/><path fill="#e40000" d="M366 1451l-11 0.5 -60-4 -96-3.5 -8-0.5 -3-0.5 3-1 7-1 26-2 24-0.5 106-1 10 0.5 16.5 2 7.5 2 2 1 0.5 1 -1 1 -13 4 -10.5 2z"/><path fill="#ce0000" d="M365 1450l-10 1 -59-3.5 -97-3.5 -9-1 2.5-1 5.5-1 34.5-2 121.5-1 15 1 6 1 4 1 4 2 0.5 1 -1.5 1 -12 4 -5 1z"/><path fill="#b70000" d="M363 1449l-9 1 -59-3.5 -88.5-2.5 -13.5-1 1-1 5.5-1 16.5-1 28.5-1 109.5-0.5 9 0.5 6.5 1 3.5 1 2.5 1 1 1 -0.5 1 -1.5 1 -11.5 4z"/><path fill="#a10000" d="M360 1448l-6 1 -58-3 -96-2.5 -3.5-0.5 -0.5-1 8.5-1 13.5-0.5 29-1 106-0.5 10 1 5.5 2 0.5 1 -0.5 1 -1 1 -7.5 3z"/><path fill="#8b0000" d="M355 1447l-67-2 -81-2 -8-1 15-1 33-0.5 106-0.5 3.5 0 3.5 1 1.5 1 0 1 -1.5 2 -5 2z"/></g></g></g><g clip-path="url(#clipA)"><path d="M162 97C162.0 97.0 163.7 99.5 164.5 101C165.3 102.5 165.1 104.6 167 105.7C168.9 106.8 172.9 107.3 176 107.5C179.1 107.7 182.8 107.5 185.5 106.8C188.2 106.1 190.2 104.9 192 103.5C193.8 102.1 189.8 99.9 196.5 98.4C203.2 96.9 219.8 95.7 232 94.5C244.2 93.3 262.7 91.3 269.4 91C276.1 90.7 272.0 92.5 272 92.5C272.0 92.5 251.2 86.4 251.2 86.4C251.2 86.4 261.5 84.9 269.4 83.8C277.3 82.7 292.8 81.0 298.6 80C304.4 79.0 302.2 78.5 304 77.5C305.8 76.5 303.5 75.0 309.5 74C315.5 73.0 328.4 72.1 340 71.3C351.6 70.5 354.1 70.3 378.8 69.2C403.5 68.1 451.6 66.3 488 64.5C524.5 62.7 570.2 60.4 597.5 58.3C624.8 56.2 638.2 53.8 652 52C665.8 50.2 672.0 48.9 680 47.5C688.0 46.1 693.3 45.6 700 43.7C706.7 41.8 713.8 38.8 720 36C726.2 33.2 737.0 27.0 737 27" fill="none" stroke="#fff" stroke-width="4.9" stroke-linejoin="round" stroke-linecap="butt"/><path d="M163 28.5C163.0 28.5 151.5 30.4 166 31C180.5 31.6 221.0 31.8 250 32C279.0 32.2 320.8 32.2 340 32C359.2 31.8 358.0 31.9 365 31C372.0 30.1 382.0 26.5 382 26.5" fill="none" stroke="#fff" stroke-width="4.9" stroke-linejoin="round" stroke-linecap="butt"/><path d="M721.8 285C721.8 285.0 721.0 268.5 720 262C719.0 255.5 717.6 250.5 716 246C714.4 241.5 711.2 238.0 710.5 235C709.8 232.0 710.1 230.7 712 228C713.9 225.3 714.0 226.2 722 219C730.0 211.8 747.0 196.5 760 185C773.0 173.5 788.9 159.2 800 150C811.1 140.8 818.3 134.8 826.6 130C834.9 125.2 841.1 123.4 850 121C858.9 118.6 870.4 116.7 880 115.5C889.6 114.3 894.3 114.0 907.6 113.8C920.9 113.6 941.6 114.1 960 114.5C978.4 114.9 998.8 115.3 1018 116.4C1037.2 117.5 1056.7 119.3 1075 121C1093.3 122.7 1113.8 124.9 1128 126.7C1142.2 128.5 1149.5 130.0 1160 132C1170.5 134.0 1191.0 138.5 1191 138.5" fill="none" stroke="#fff" stroke-width="4.9" stroke-linejoin="round" stroke-linecap="butt"/><path d="M686.8 283C686.8 283.0 688.8 292.8 690 300C691.2 307.2 692.5 320.0 694 326C695.5 332.0 697.2 333.0 699 336C700.8 339.0 703.3 340.3 705 344C706.7 347.7 707.7 353.7 709 358C710.3 362.3 709.9 365.5 712.6 370C715.3 374.5 720.1 380.1 725 385C729.9 389.9 735.3 394.1 742 399.4C748.7 404.7 757.7 411.8 765 417C772.3 422.2 778.5 427.6 786 430.7C793.5 433.8 802.0 434.3 810 435.5C818.0 436.7 826.0 436.9 834 438C842.0 439.1 850.7 440.9 858 442C865.3 443.1 869.3 444.3 878 444.3C886.7 444.3 898.9 442.9 910 442C921.1 441.1 926.4 440.5 944.4 439.2C962.4 437.9 998.7 436.2 1018 434.4C1037.3 432.6 1047.7 430.6 1060 428.5C1072.3 426.4 1081.6 424.1 1091.6 421.5C1101.6 418.9 1110.8 416.1 1120 413C1129.2 409.9 1138.5 406.3 1146.8 403C1155.1 399.7 1162.6 396.2 1170 393C1177.4 389.8 1191.0 383.5 1191 383.5" fill="none" stroke="#fff" stroke-width="4.9" stroke-linejoin="round" stroke-linecap="butt"/><path d="M162 471.5C162.0 471.5 179.4 471.4 190 472C200.6 472.6 216.6 474.2 225.6 475C234.6 475.8 244.0 477.0 244 477C244.0 477.0 229.0 483.0 229 483C229.0 483.0 243.9 485.6 250 486.5C256.1 487.4 262.5 487.1 265.7 488.7C268.9 490.3 269.4 496.0 269.4 496C269.4 496.0 281.9 492.6 288 491.5C294.1 490.4 297.3 489.2 306 489.5C314.7 489.8 327.9 491.8 340 493C352.1 494.2 363.8 495.8 378.8 496.8C393.8 497.8 411.8 498.4 430 499C448.2 499.6 468.8 499.5 488 500.4C507.2 501.3 526.8 503.0 545 504.5C563.2 506.0 583.7 507.8 597.5 509.5C611.3 511.2 618.9 512.7 628 514.5C637.1 516.3 644.0 517.9 652 520.5C660.0 523.1 668.3 526.4 676 530C683.7 533.6 698.0 542.0 698 542" fill="none" stroke="#fff" stroke-width="4.9" stroke-linejoin="round" stroke-linecap="butt"/><path d="M162 539C162.0 539.0 153.3 537.0 168 536.5C182.7 536.0 221.0 536.1 250 536C279.0 535.9 325.0 535.8 342 536C359.0 536.2 348.8 536.6 352 537.5C355.2 538.4 361.0 541.5 361 541.5" fill="none" stroke="#fff" stroke-width="4.9" stroke-linejoin="round" stroke-linecap="butt"/><rect x="163" y="220" width="3.5" height="15" fill="#fff"/><rect x="163" y="332" width="3.5" height="13" fill="#fff"/></g><line x1="164" y1="284.6" x2="1189" y2="281.2" stroke="#000" stroke-width="2.2" stroke-dasharray="35.5 37.2" stroke-dashoffset="16.7"/><line x1="168" y1="853.7" x2="1187" y2="850.4" stroke="#000" stroke-width="2.2" stroke-dasharray="35.5 37.2" stroke-dashoffset="18.2"/><line x1="168" y1="1423.5" x2="1181" y2="1420.8" stroke="#000" stroke-width="2.2" stroke-dasharray="35.5 37.2" stroke-dashoffset="23.3"/><rect x="162.5" y="26.7" width="1028" height="515.5" fill="none" stroke="#000" stroke-width="3"/><text x="148" y="50.4" font-size="55" text-anchor="end">5</text><text x="148" y="152" font-size="55" text-anchor="end">3</text><text x="148" y="253.3" font-size="55" text-anchor="end">1</text><text x="146.5" y="341.6" font-size="55" text-anchor="end">-1</text><text x="146.5" y="448" font-size="55" text-anchor="end">-3</text><text x="146.5" y="544.3" font-size="55" text-anchor="end">-5</text><text transform="translate(85.5,278) rotate(-90)" font-size="96" font-style="italic" text-anchor="middle">r/d</text><text x="1107" y="94" font-size="70" textLength="71" lengthAdjust="spacingAndGlyphs">(a)</text><text x="1218" y="88" font-size="66">U(m/s)</text><rect x="1218" y="147.5" width="61" height="266.5" fill="url(#cbA)" stroke="#444" stroke-width="1.5"/><line x1="1273" x2="1279" y1="214" y2="214" stroke="#333" stroke-width="1.2"/><line x1="1273" x2="1279" y1="280.7" y2="280.7" stroke="#333" stroke-width="1.2"/><line x1="1273" x2="1279" y1="347.4" y2="347.4" stroke="#333" stroke-width="1.2"/><text x="1286" y="172.5" font-size="55">75</text><text x="1286" y="232.5" font-size="55">50</text><text x="1288" y="298.5" font-size="55">25</text><text x="1288" y="367.5" font-size="55">0</text><text x="1291" y="422.5" font-size="55">-25</text><rect x="160" y="594.4" width="8.7" height="513.6" fill="#808080"/><rect x="162.8" y="596.8" width="3.3" height="508.6" fill="#000"/><rect x="160" y="594.4" width="1032" height="2.4" fill="#808080"/><rect x="163" y="596.8" width="1024" height="2.8" fill="#404040"/><rect x="1186.8" y="594.4" width="5.2" height="513.6" fill="#808080"/><rect x="160" y="1105" width="1032" height="3" fill="#808080"/><rect x="163" y="1102" width="1024" height="3" fill="#404040"/><rect x="168" y="647.5" width="5.6" height="4.8" rx="1.2" fill="#111"/><rect x="168" y="698.3" width="5.6" height="4.8" rx="1.2" fill="#111"/><rect x="168" y="748.7" width="5.6" height="4.8" rx="1.2" fill="#111"/><rect x="168" y="801.1" width="5.6" height="4.8" rx="1.2" fill="#111"/><rect x="168" y="893.6" width="5.6" height="4.8" rx="1.2" fill="#111"/><rect x="168" y="948.5" width="5.6" height="4.8" rx="1.2" fill="#111"/><rect x="168" y="998.5" width="5.6" height="4.8" rx="1.2" fill="#111"/><rect x="168" y="1048.4" width="5.6" height="4.8" rx="1.2" fill="#111"/><text x="148" y="627.3" font-size="55" text-anchor="end">5</text><text x="148" y="730.2" font-size="55" text-anchor="end">3</text><text x="148" y="831.5" font-size="55" text-anchor="end">1</text><text x="146.5" y="921.2" font-size="55" text-anchor="end">-1</text><text x="146.5" y="1027" font-size="55" text-anchor="end">-3</text><text x="146.5" y="1123.9" font-size="55" text-anchor="end">-5</text><text transform="translate(85.2,856.5) rotate(-90)" font-size="96" font-style="italic" text-anchor="middle">r/d</text><text x="1107" y="666" font-size="70" textLength="73" lengthAdjust="spacingAndGlyphs">(b)</text><text x="1216" y="657.5" font-size="66">Y</text><text x="1264" y="679" font-size="39">OH</text><rect x="1218" y="947" width="58" height="34" fill="#fff" stroke="#444" stroke-width="2"/><rect x="1218" y="712.5" width="58" height="235" fill="url(#cbB)" stroke="#555" stroke-width="1.5"/><text x="1290" y="727.5" font-size="55">1.8×10<tspan font-size="32" dy="-20">-2</tspan></text><text x="1290" y="856.5" font-size="55">1×10<tspan font-size="32" dy="-20">-2</tspan></text><text x="1288" y="990" font-size="55">0</text><rect x="161" y="1166" width="8.7" height="512" fill="#808080"/><rect x="163.8" y="1168.4" width="3.3" height="507" fill="#000"/><rect x="161" y="1166" width="1032" height="2.4" fill="#808080"/><rect x="164" y="1168.4" width="1024" height="2.8" fill="#404040"/><rect x="1187.8" y="1166" width="5.2" height="512" fill="#808080"/><rect x="161" y="1675" width="1032" height="3" fill="#808080"/><rect x="164" y="1672" width="1024" height="3" fill="#404040"/><rect x="169" y="1219.1" width="5.6" height="4.8" rx="1.2" fill="#111"/><rect x="169" y="1269.9" width="5.6" height="4.8" rx="1.2" fill="#111"/><rect x="169" y="1320.3" width="5.6" height="4.8" rx="1.2" fill="#111"/><rect x="169" y="1372.7" width="5.6" height="4.8" rx="1.2" fill="#111"/><rect x="169" y="1465.2" width="5.6" height="4.8" rx="1.2" fill="#111"/><rect x="169" y="1520.1" width="5.6" height="4.8" rx="1.2" fill="#111"/><rect x="169" y="1570.1" width="5.6" height="4.8" rx="1.2" fill="#111"/><rect x="169" y="1620" width="5.6" height="4.8" rx="1.2" fill="#111"/><text x="140.5" y="1188.5" font-size="55" text-anchor="end">5</text><text x="140.5" y="1291.3" font-size="55" text-anchor="end">3</text><text x="140.5" y="1392.1" font-size="55" text-anchor="end">1</text><text x="139" y="1480.9" font-size="55" text-anchor="end">-1</text><text x="139" y="1588.1" font-size="55" text-anchor="end">-3</text><text x="139" y="1685.1" font-size="55" text-anchor="end">-5</text><text transform="translate(79.3,1414.8) rotate(-90)" font-size="96" font-style="italic" text-anchor="middle">r/d</text><text x="1107" y="1228" font-size="70" textLength="71" lengthAdjust="spacingAndGlyphs">(c)</text><text x="1216" y="1240" font-size="66">Y</text><text x="1264" y="1262.5" font-size="39">H</text><rect x="1218" y="1538.5" width="57" height="32.5" fill="#fff" stroke="#444" stroke-width="2"/><rect x="1218" y="1304" width="57" height="235" fill="url(#cbB)" stroke="#555" stroke-width="1.5"/><text x="1283" y="1317.5" font-size="55">2×10<tspan font-size="32" dy="-20">-4</tspan></text><text x="1283" y="1459" font-size="55">1×10<tspan font-size="32" dy="-20">-4</tspan></text><text x="1283" y="1582.5" font-size="55">0</text><line x1="162.7" x2="1193" y1="1701" y2="1701" stroke="#333" stroke-width="1.2"/><line x1="163.2" x2="163.2" y1="1692.6" y2="1701.5" stroke="#333" stroke-width="1.3"/><line x1="214.6" x2="214.6" y1="1692.6" y2="1701.5" stroke="#333" stroke-width="1.3"/><line x1="266.1" x2="266.1" y1="1692.6" y2="1701.5" stroke="#333" stroke-width="1.3"/><line x1="317.5" x2="317.5" y1="1692.6" y2="1701.5" stroke="#333" stroke-width="1.3"/><line x1="368.9" x2="368.9" y1="1692.6" y2="1701.5" stroke="#333" stroke-width="1.3"/><line x1="420.3" x2="420.3" y1="1692.6" y2="1701.5" stroke="#333" stroke-width="1.3"/><line x1="471.8" x2="471.8" y1="1692.6" y2="1701.5" stroke="#333" stroke-width="1.3"/><line x1="523.2" x2="523.2" y1="1692.6" y2="1701.5" stroke="#333" stroke-width="1.3"/><line x1="574.6" x2="574.6" y1="1692.6" y2="1701.5" stroke="#333" stroke-width="1.3"/><line x1="626.1" x2="626.1" y1="1692.6" y2="1701.5" stroke="#333" stroke-width="1.3"/><line x1="677.5" x2="677.5" y1="1692.6" y2="1701.5" stroke="#333" stroke-width="1.3"/><line x1="728.9" x2="728.9" y1="1692.6" y2="1701.5" stroke="#333" stroke-width="1.3"/><line x1="780.4" x2="780.4" y1="1692.6" y2="1701.5" stroke="#333" stroke-width="1.3"/><line x1="831.8" x2="831.8" y1="1692.6" y2="1701.5" stroke="#333" stroke-width="1.3"/><line x1="883.2" x2="883.2" y1="1692.6" y2="1701.5" stroke="#333" stroke-width="1.3"/><line x1="934.7" x2="934.7" y1="1692.6" y2="1701.5" stroke="#333" stroke-width="1.3"/><line x1="986.1" x2="986.1" y1="1692.6" y2="1701.5" stroke="#333" stroke-width="1.3"/><line x1="1037.5" x2="1037.5" y1="1692.6" y2="1701.5" stroke="#333" stroke-width="1.3"/><line x1="1088.9" x2="1088.9" y1="1692.6" y2="1701.5" stroke="#333" stroke-width="1.3"/><line x1="1140.4" x2="1140.4" y1="1692.6" y2="1701.5" stroke="#333" stroke-width="1.3"/><line x1="1191.8" x2="1191.8" y1="1692.6" y2="1701.5" stroke="#333" stroke-width="1.3"/><text x="365" y="1780.3" font-size="74" text-anchor="middle">4</text><text x="571.4" y="1780.3" font-size="74" text-anchor="middle">8</text><text x="777" y="1780.3" font-size="74" text-anchor="middle" letter-spacing="-3">12</text><text x="974" y="1780.3" font-size="74" text-anchor="middle" letter-spacing="-3">16</text><text x="1177" y="1780.3" font-size="74" text-anchor="middle" letter-spacing="-3">20</text><text x="678.5" y="1882.3" font-size="96" font-style="italic" text-anchor="middle">x/d</text>
</svg></body></html>
